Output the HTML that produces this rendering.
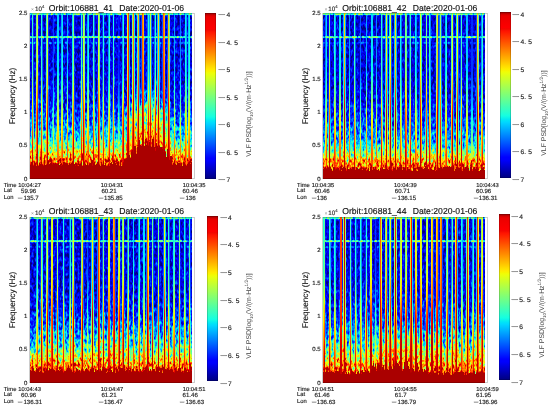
<!DOCTYPE html><html><head><meta charset="utf-8"><style>
html,body{margin:0;padding:0;background:#fff;}
body{width:550px;height:406px;position:relative;overflow:hidden;font-family:"Liberation Sans",Arial,sans-serif;text-rendering:geometricPrecision;}
.sp{position:absolute;display:block;overflow:hidden;}
.t{position:absolute;white-space:nowrap;color:#1c1c1c;line-height:1;-webkit-text-stroke:0.15px #1c1c1c;}
.ti{font-size:8.65px;color:#111;}
.ex{font-size:6.3px;color:#333;}
.tm{font-size:5px;color:#888;margin-right:0.9px;-webkit-text-stroke:0}
.ex sup{font-size:4.2px;vertical-align:0;position:relative;top:-3.1px;margin-left:0;-webkit-text-stroke:0.1px #333}
.yt{font-size:6px;text-align:right;}
.yl{font-size:8.2px;transform:translate(-50%,-50%) rotate(-90deg);transform-origin:50% 50%;}
.xr{font-size:5.8px;}
.xc{font-size:5.8px;}
.xv{font-size:6.1px;margin-top:-0.25px}
.cb{position:absolute;width:10.8px;background:linear-gradient(to bottom,rgb(153,0,0) 0.00%,rgb(184,0,0) 0.78%,rgb(216,0,0) 1.56%,rgb(235,0,0) 2.34%,rgb(237,0,0) 3.12%,rgb(239,0,0) 3.91%,rgb(241,0,0) 4.69%,rgb(243,0,0) 5.47%,rgb(245,0,0) 6.25%,rgb(247,0,0) 7.03%,rgb(249,0,0) 7.81%,rgb(251,0,0) 8.59%,rgb(253,0,0) 9.38%,rgb(241,7,0) 10.16%,rgb(250,15,0) 10.94%,rgb(255,22,0) 11.72%,rgb(255,29,0) 12.50%,rgb(255,37,0) 13.28%,rgb(255,44,0) 14.06%,rgb(255,52,0) 14.84%,rgb(255,59,0) 15.62%,rgb(255,66,0) 16.41%,rgb(255,74,0) 17.19%,rgb(255,81,0) 17.97%,rgb(255,89,0) 18.75%,rgb(255,96,0) 19.53%,rgb(255,103,0) 20.31%,rgb(255,111,0) 21.09%,rgb(255,118,0) 21.88%,rgb(255,126,0) 22.66%,rgb(255,133,0) 23.44%,rgb(255,140,0) 24.22%,rgb(255,148,0) 25.00%,rgb(255,155,0) 25.78%,rgb(255,163,0) 26.56%,rgb(255,170,0) 27.34%,rgb(255,177,0) 28.12%,rgb(255,185,0) 28.91%,rgb(255,192,0) 29.69%,rgb(255,200,0) 30.47%,rgb(255,207,0) 31.25%,rgb(255,215,0) 32.03%,rgb(255,222,0) 32.81%,rgb(255,229,0) 33.59%,rgb(254,237,0) 34.38%,rgb(247,244,0) 35.16%,rgb(241,252,5) 35.94%,rgb(234,255,12) 36.72%,rgb(228,255,18) 37.50%,rgb(221,255,24) 38.28%,rgb(215,255,31) 39.06%,rgb(208,255,37) 39.84%,rgb(202,255,44) 40.62%,rgb(195,255,50) 41.41%,rgb(189,255,57) 42.19%,rgb(183,255,63) 42.97%,rgb(176,255,70) 43.75%,rgb(170,255,76) 44.53%,rgb(163,255,83) 45.31%,rgb(157,255,89) 46.09%,rgb(150,255,95) 46.88%,rgb(144,255,102) 47.66%,rgb(137,255,108) 48.44%,rgb(131,255,115) 49.22%,rgb(124,255,121) 50.00%,rgb(118,255,128) 50.78%,rgb(112,255,134) 51.56%,rgb(105,255,141) 52.34%,rgb(99,255,147) 53.12%,rgb(92,255,154) 53.91%,rgb(86,255,160) 54.69%,rgb(79,255,166) 55.47%,rgb(73,255,173) 56.25%,rgb(66,255,179) 57.03%,rgb(60,255,186) 57.81%,rgb(54,255,192) 58.59%,rgb(47,255,199) 59.38%,rgb(41,255,205) 60.16%,rgb(34,255,212) 60.94%,rgb(28,255,218) 61.72%,rgb(21,255,225) 62.50%,rgb(15,248,231) 63.28%,rgb(8,240,237) 64.06%,rgb(2,232,244) 64.84%,rgb(0,224,250) 65.62%,rgb(0,216,255) 66.41%,rgb(0,208,255) 67.19%,rgb(0,200,255) 67.97%,rgb(0,192,255) 68.75%,rgb(0,184,255) 69.53%,rgb(0,176,255) 70.31%,rgb(0,168,255) 71.09%,rgb(0,160,255) 71.88%,rgb(0,152,255) 72.66%,rgb(0,144,255) 73.44%,rgb(0,136,255) 74.22%,rgb(0,128,255) 75.00%,rgb(0,120,255) 75.78%,rgb(0,112,255) 76.56%,rgb(0,104,255) 77.34%,rgb(0,96,255) 78.12%,rgb(0,88,255) 78.91%,rgb(0,80,255) 79.69%,rgb(0,72,255) 80.47%,rgb(0,64,255) 81.25%,rgb(0,56,255) 82.03%,rgb(0,48,255) 82.81%,rgb(0,40,255) 83.59%,rgb(0,32,255) 84.38%,rgb(0,24,255) 85.16%,rgb(0,16,255) 85.94%,rgb(0,8,255) 86.72%,rgb(0,0,255) 87.50%,rgb(0,0,255) 88.28%,rgb(0,0,254) 89.06%,rgb(0,0,245) 89.84%,rgb(0,0,236) 90.62%,rgb(0,0,227) 91.41%,rgb(0,0,218) 92.19%,rgb(0,0,209) 92.97%,rgb(0,0,200) 93.75%,rgb(0,0,191) 94.53%,rgb(0,0,182) 95.31%,rgb(0,0,172) 96.09%,rgb(0,0,163) 96.88%,rgb(0,0,154) 97.66%,rgb(0,0,145) 98.44%,rgb(0,0,136) 99.22%,rgb(0,0,127) 100.00%);box-shadow:inset 0 0 0 0.5px rgba(0,0,0,0.35);}
.cl{font-size:6.6px;word-spacing:0.4px;color:#1a1a1a}
.mn{display:inline-block;transform:scaleX(1.95);transform-origin:0 50%;margin-right:4.3px;color:#777;}
.mn2{position:absolute;right:100%;margin-right:0.6px;display:inline-block;transform:scaleX(1.45);transform-origin:100% 50%;color:#666;}
.cbl{-webkit-text-stroke:0;color:#444;font-size:6.9px;transform:translate(-50%,-50%) rotate(-90deg);}
.cbl sub{font-size:4.4px;vertical-align:-1.6px;}
.cbl sup{font-size:4.8px;vertical-align:3.2px;}
.ax{position:absolute;box-sizing:border-box;border:0.9px solid rgba(0,0,0,0.2);}
</style></head><body>
<svg class="sp" style="left:29.50px;top:13.00px" width="162.2" height="165.5" viewBox="0 0 162.2 165.5">
<defs><linearGradient id="bg0" gradientUnits="userSpaceOnUse" x1="0" y1="0" x2="0" y2="165.5"><stop offset="0.0000" stop-color="#6b0000"/><stop offset="0.0110" stop-color="#6b0000"/><stop offset="0.0160" stop-color="#130000"/><stop offset="0.4500" stop-color="#160000"/><stop offset="0.6000" stop-color="#240000"/><stop offset="0.6700" stop-color="#380000"/><stop offset="0.7500" stop-color="#4a0000"/><stop offset="0.7860" stop-color="#630000"/><stop offset="0.8220" stop-color="#8a0000"/><stop offset="0.8520" stop-color="#a60000"/><stop offset="0.8760" stop-color="#bf0000"/><stop offset="0.9070" stop-color="#d40000"/><stop offset="1.0000" stop-color="#e00000"/></linearGradient><filter id="f0" filterUnits="userSpaceOnUse" x="-4" y="-4" width="170.2" height="173.5" color-interpolation-filters="sRGB">
<feColorMatrix in="SourceGraphic" type="matrix" values="1 0 0 0 0 1 0 0 0 0 1 0 0 0 0 0 0 0 0 1" result="bg"/>
<feColorMatrix in="SourceGraphic" type="matrix" values="0 1 0 0 0 0 1 0 0 0 0 1 0 0 0 0 0 0 0 1" result="st"/>

<feTurbulence type="fractalNoise" baseFrequency="0.5 0.22" numOctaves="2" seed="3" result="t"/>
<feColorMatrix in="t" type="matrix" values="1 0 0 0 0 1 0 0 0 0 1 0 0 0 0 0 0 0 0 1" result="n"/>
<feComposite in="bg" in2="n" operator="arithmetic" k1="0.9" k2="0.55" k3="0.42" k4="-0.21" result="bgn"/>
<feBlend in="bgn" in2="st" mode="lighten" result="v"/>
<feComponentTransfer in="v"><feFuncR type="table" tableValues="0.000 0.000 0.000 0.000 0.000 0.000 0.000 0.000 0.000 0.000 0.000 0.000 0.000 0.000 0.000 0.000 0.000 0.000 0.000 0.000 0.000 0.000 0.000 0.035 0.085 0.136 0.187 0.237 0.288 0.338 0.389 0.440 0.490 0.541 0.591 0.642 0.693 0.743 0.794 0.844 0.895 0.946 0.996 1.000 1.000 1.000 1.000 1.000 1.000 1.000 1.000 1.000 1.000 1.000 1.000 1.000 1.000 0.959 0.917 0.876 0.835 0.794 0.752 0.711 0.670"/><feFuncG type="table" tableValues="0.000 0.000 0.000 0.000 0.000 0.000 0.000 0.000 0.002 0.065 0.127 0.190 0.253 0.316 0.378 0.441 0.504 0.567 0.629 0.692 0.755 0.818 0.880 0.943 1.000 1.000 1.000 1.000 1.000 1.000 1.000 1.000 1.000 1.000 1.000 1.000 1.000 1.000 1.000 1.000 1.000 0.988 0.930 0.872 0.814 0.756 0.698 0.640 0.582 0.524 0.466 0.407 0.349 0.291 0.233 0.175 0.117 0.059 0.001 0.000 0.000 0.000 0.000 0.000 0.000"/><feFuncB type="table" tableValues="0.500 0.571 0.643 0.714 0.785 0.857 0.928 0.999 1.000 1.000 1.000 1.000 1.000 1.000 1.000 1.000 1.000 1.000 1.000 1.000 1.000 1.000 0.984 0.933 0.882 0.832 0.781 0.731 0.680 0.629 0.579 0.528 0.478 0.427 0.376 0.326 0.275 0.225 0.174 0.123 0.073 0.022 0.000 0.000 0.000 0.000 0.000 0.000 0.000 0.000 0.000 0.000 0.000 0.000 0.000 0.000 0.000 0.000 0.000 0.000 0.000 0.000 0.000 0.000 0.000"/><feFuncA type="linear" slope="0" intercept="1"/></feComponentTransfer>
</filter><linearGradient id="bp0_0_0" gradientUnits="userSpaceOnUse" x1="0" y1="82.8" x2="0" y2="145.7"><stop offset="0" stop-color="#000"/><stop offset="0.5" stop-color="#570000"/><stop offset="1" stop-color="#7a0000"/></linearGradient><linearGradient id="bp0_0_1" gradientUnits="userSpaceOnUse" x1="0" y1="78.3" x2="0" y2="142.1"><stop offset="0" stop-color="#000"/><stop offset="0.5" stop-color="#630000"/><stop offset="1" stop-color="#930000"/></linearGradient><linearGradient id="bp0_0_2" gradientUnits="userSpaceOnUse" x1="0" y1="75.5" x2="0" y2="139.8"><stop offset="0" stop-color="#000"/><stop offset="0.5" stop-color="#6b0000"/><stop offset="1" stop-color="#a30000"/></linearGradient><linearGradient id="bp0_0_3" gradientUnits="userSpaceOnUse" x1="0" y1="73.4" x2="0" y2="138.1"><stop offset="0" stop-color="#000"/><stop offset="0.5" stop-color="#710000"/><stop offset="1" stop-color="#ae0000"/></linearGradient><linearGradient id="bp0_0_4" gradientUnits="userSpaceOnUse" x1="0" y1="71.7" x2="0" y2="136.8"><stop offset="0" stop-color="#000"/><stop offset="0.5" stop-color="#750000"/><stop offset="1" stop-color="#b80000"/></linearGradient><linearGradient id="bp0_0_5" gradientUnits="userSpaceOnUse" x1="0" y1="70.3" x2="0" y2="135.7"><stop offset="0" stop-color="#000"/><stop offset="0.5" stop-color="#790000"/><stop offset="1" stop-color="#c00000"/></linearGradient><linearGradient id="bp0_0_6" gradientUnits="userSpaceOnUse" x1="0" y1="69.1" x2="0" y2="134.8"><stop offset="0" stop-color="#000"/><stop offset="0.5" stop-color="#7c0000"/><stop offset="1" stop-color="#c60000"/></linearGradient><linearGradient id="bp0_0_7" gradientUnits="userSpaceOnUse" x1="0" y1="68.2" x2="0" y2="134.0"><stop offset="0" stop-color="#000"/><stop offset="0.5" stop-color="#7f0000"/><stop offset="1" stop-color="#cb0000"/></linearGradient><linearGradient id="bp0_0_8" gradientUnits="userSpaceOnUse" x1="0" y1="67.5" x2="0" y2="133.4"><stop offset="0" stop-color="#000"/><stop offset="0.5" stop-color="#810000"/><stop offset="1" stop-color="#cf0000"/></linearGradient><linearGradient id="bp0_0_9" gradientUnits="userSpaceOnUse" x1="0" y1="66.9" x2="0" y2="133.0"><stop offset="0" stop-color="#000"/><stop offset="0.5" stop-color="#830000"/><stop offset="1" stop-color="#d20000"/></linearGradient><linearGradient id="bp0_0_10" gradientUnits="userSpaceOnUse" x1="0" y1="66.5" x2="0" y2="132.7"><stop offset="0" stop-color="#000"/><stop offset="0.5" stop-color="#840000"/><stop offset="1" stop-color="#d40000"/></linearGradient><linearGradient id="bp0_0_11" gradientUnits="userSpaceOnUse" x1="0" y1="66.3" x2="0" y2="132.5"><stop offset="0" stop-color="#000"/><stop offset="0.5" stop-color="#840000"/><stop offset="1" stop-color="#d60000"/></linearGradient><linearGradient id="bp0_0_12" gradientUnits="userSpaceOnUse" x1="0" y1="66.2" x2="0" y2="132.4"><stop offset="0" stop-color="#000"/><stop offset="0.5" stop-color="#850000"/><stop offset="1" stop-color="#d60000"/></linearGradient><linearGradient id="bp0_0_13" gradientUnits="userSpaceOnUse" x1="0" y1="66.3" x2="0" y2="132.5"><stop offset="0" stop-color="#000"/><stop offset="0.5" stop-color="#840000"/><stop offset="1" stop-color="#d60000"/></linearGradient><linearGradient id="bp0_0_14" gradientUnits="userSpaceOnUse" x1="0" y1="66.5" x2="0" y2="132.7"><stop offset="0" stop-color="#000"/><stop offset="0.5" stop-color="#840000"/><stop offset="1" stop-color="#d40000"/></linearGradient><linearGradient id="bp0_0_15" gradientUnits="userSpaceOnUse" x1="0" y1="66.9" x2="0" y2="133.0"><stop offset="0" stop-color="#000"/><stop offset="0.5" stop-color="#830000"/><stop offset="1" stop-color="#d20000"/></linearGradient><linearGradient id="bp0_0_16" gradientUnits="userSpaceOnUse" x1="0" y1="67.5" x2="0" y2="133.4"><stop offset="0" stop-color="#000"/><stop offset="0.5" stop-color="#810000"/><stop offset="1" stop-color="#cf0000"/></linearGradient><linearGradient id="bp0_0_17" gradientUnits="userSpaceOnUse" x1="0" y1="68.2" x2="0" y2="134.0"><stop offset="0" stop-color="#000"/><stop offset="0.5" stop-color="#7f0000"/><stop offset="1" stop-color="#cb0000"/></linearGradient><linearGradient id="bp0_0_18" gradientUnits="userSpaceOnUse" x1="0" y1="69.1" x2="0" y2="134.8"><stop offset="0" stop-color="#000"/><stop offset="0.5" stop-color="#7c0000"/><stop offset="1" stop-color="#c60000"/></linearGradient><linearGradient id="bp0_0_19" gradientUnits="userSpaceOnUse" x1="0" y1="70.3" x2="0" y2="135.7"><stop offset="0" stop-color="#000"/><stop offset="0.5" stop-color="#790000"/><stop offset="1" stop-color="#c00000"/></linearGradient><linearGradient id="bp0_0_20" gradientUnits="userSpaceOnUse" x1="0" y1="71.7" x2="0" y2="136.8"><stop offset="0" stop-color="#000"/><stop offset="0.5" stop-color="#750000"/><stop offset="1" stop-color="#b80000"/></linearGradient><linearGradient id="bp0_0_21" gradientUnits="userSpaceOnUse" x1="0" y1="73.4" x2="0" y2="138.1"><stop offset="0" stop-color="#000"/><stop offset="0.5" stop-color="#710000"/><stop offset="1" stop-color="#ae0000"/></linearGradient><linearGradient id="bp0_0_22" gradientUnits="userSpaceOnUse" x1="0" y1="75.5" x2="0" y2="139.8"><stop offset="0" stop-color="#000"/><stop offset="0.5" stop-color="#6b0000"/><stop offset="1" stop-color="#a30000"/></linearGradient><linearGradient id="bp0_0_23" gradientUnits="userSpaceOnUse" x1="0" y1="78.3" x2="0" y2="142.1"><stop offset="0" stop-color="#000"/><stop offset="0.5" stop-color="#630000"/><stop offset="1" stop-color="#930000"/></linearGradient><linearGradient id="bp0_0_24" gradientUnits="userSpaceOnUse" x1="0" y1="82.8" x2="0" y2="145.7"><stop offset="0" stop-color="#000"/><stop offset="0.5" stop-color="#570000"/><stop offset="1" stop-color="#7a0000"/></linearGradient><linearGradient id="hl0_42" gradientUnits="userSpaceOnUse" x1="0" y1="49.6" x2="0" y2="165.5"><stop offset="0" stop-color="#000"/><stop offset="0.45" stop-color="#4c0000"/><stop offset="0.85" stop-color="#960000"/><stop offset="1" stop-color="#960000"/></linearGradient><linearGradient id="hl0_65" gradientUnits="userSpaceOnUse" x1="0" y1="49.6" x2="0" y2="165.5"><stop offset="0" stop-color="#000"/><stop offset="0.45" stop-color="#4c0000"/><stop offset="0.85" stop-color="#b10000"/><stop offset="1" stop-color="#b10000"/></linearGradient><linearGradient id="hl0_60" gradientUnits="userSpaceOnUse" x1="0" y1="49.6" x2="0" y2="165.5"><stop offset="0" stop-color="#000"/><stop offset="0.45" stop-color="#4c0000"/><stop offset="0.85" stop-color="#ab0000"/><stop offset="1" stop-color="#ab0000"/></linearGradient><linearGradient id="hl0_40" gradientUnits="userSpaceOnUse" x1="0" y1="49.6" x2="0" y2="165.5"><stop offset="0" stop-color="#000"/><stop offset="0.45" stop-color="#4c0000"/><stop offset="0.85" stop-color="#940000"/><stop offset="1" stop-color="#940000"/></linearGradient><linearGradient id="hl0_50" gradientUnits="userSpaceOnUse" x1="0" y1="49.6" x2="0" y2="165.5"><stop offset="0" stop-color="#000"/><stop offset="0.45" stop-color="#4c0000"/><stop offset="0.85" stop-color="#9f0000"/><stop offset="1" stop-color="#9f0000"/></linearGradient><linearGradient id="hl0_62" gradientUnits="userSpaceOnUse" x1="0" y1="49.6" x2="0" y2="165.5"><stop offset="0" stop-color="#000"/><stop offset="0.45" stop-color="#4c0000"/><stop offset="0.85" stop-color="#ad0000"/><stop offset="1" stop-color="#ad0000"/></linearGradient><linearGradient id="hl0_38" gradientUnits="userSpaceOnUse" x1="0" y1="49.6" x2="0" y2="165.5"><stop offset="0" stop-color="#000"/><stop offset="0.45" stop-color="#4c0000"/><stop offset="0.85" stop-color="#920000"/><stop offset="1" stop-color="#920000"/></linearGradient><linearGradient id="hl0_82" gradientUnits="userSpaceOnUse" x1="0" y1="49.6" x2="0" y2="165.5"><stop offset="0" stop-color="#000"/><stop offset="0.45" stop-color="#4c0000"/><stop offset="0.85" stop-color="#bf0000"/><stop offset="1" stop-color="#bf0000"/></linearGradient><linearGradient id="hl0_75" gradientUnits="userSpaceOnUse" x1="0" y1="49.6" x2="0" y2="165.5"><stop offset="0" stop-color="#000"/><stop offset="0.45" stop-color="#4c0000"/><stop offset="0.85" stop-color="#bc0000"/><stop offset="1" stop-color="#bc0000"/></linearGradient><linearGradient id="hl0_72" gradientUnits="userSpaceOnUse" x1="0" y1="49.6" x2="0" y2="165.5"><stop offset="0" stop-color="#000"/><stop offset="0.45" stop-color="#4c0000"/><stop offset="0.85" stop-color="#b90000"/><stop offset="1" stop-color="#b90000"/></linearGradient><linearGradient id="hl0_84" gradientUnits="userSpaceOnUse" x1="0" y1="49.6" x2="0" y2="165.5"><stop offset="0" stop-color="#000"/><stop offset="0.45" stop-color="#4c0000"/><stop offset="0.85" stop-color="#bf0000"/><stop offset="1" stop-color="#bf0000"/></linearGradient><linearGradient id="hl0_55" gradientUnits="userSpaceOnUse" x1="0" y1="49.6" x2="0" y2="165.5"><stop offset="0" stop-color="#000"/><stop offset="0.45" stop-color="#4c0000"/><stop offset="0.85" stop-color="#a50000"/><stop offset="1" stop-color="#a50000"/></linearGradient><linearGradient id="hl0_68" gradientUnits="userSpaceOnUse" x1="0" y1="49.6" x2="0" y2="165.5"><stop offset="0" stop-color="#000"/><stop offset="0.45" stop-color="#4c0000"/><stop offset="0.85" stop-color="#b40000"/><stop offset="1" stop-color="#b40000"/></linearGradient><linearGradient id="hl0_85" gradientUnits="userSpaceOnUse" x1="0" y1="49.6" x2="0" y2="165.5"><stop offset="0" stop-color="#000"/><stop offset="0.45" stop-color="#4c0000"/><stop offset="0.85" stop-color="#bf0000"/><stop offset="1" stop-color="#bf0000"/></linearGradient><linearGradient id="hl0_26" gradientUnits="userSpaceOnUse" x1="0" y1="49.6" x2="0" y2="165.5"><stop offset="0" stop-color="#000"/><stop offset="0.45" stop-color="#4c0000"/><stop offset="0.85" stop-color="#840000"/><stop offset="1" stop-color="#840000"/></linearGradient><linearGradient id="hl0_32" gradientUnits="userSpaceOnUse" x1="0" y1="49.6" x2="0" y2="165.5"><stop offset="0" stop-color="#000"/><stop offset="0.45" stop-color="#4c0000"/><stop offset="0.85" stop-color="#8b0000"/><stop offset="1" stop-color="#8b0000"/></linearGradient><linearGradient id="hl0_28" gradientUnits="userSpaceOnUse" x1="0" y1="49.6" x2="0" y2="165.5"><stop offset="0" stop-color="#000"/><stop offset="0.45" stop-color="#4c0000"/><stop offset="0.85" stop-color="#870000"/><stop offset="1" stop-color="#870000"/></linearGradient><linearGradient id="sg0_42_0_10" gradientUnits="userSpaceOnUse" x1="0" y1="0" x2="0" y2="165.5"><stop offset="0" stop-color="#006b00"/><stop offset="0.35" stop-color="#007500"/><stop offset="0.6" stop-color="#00b800"/><stop offset="0.85" stop-color="#00eb00"/><stop offset="1" stop-color="#00eb00"/></linearGradient><linearGradient id="hsg0_42_0_10" gradientUnits="userSpaceOnUse" x1="0" y1="0" x2="0" y2="165.5"><stop offset="0" stop-color="#004700"/><stop offset="0.35" stop-color="#004c00"/><stop offset="0.6" stop-color="#006f00"/><stop offset="0.85" stop-color="#008900"/><stop offset="1" stop-color="#008900"/></linearGradient><linearGradient id="gl0_42" gradientUnits="userSpaceOnUse" x1="0" y1="0" x2="0" y2="165.5"><stop offset="0" stop-color="#170000"/><stop offset="0.4" stop-color="#1e0000"/><stop offset="0.62" stop-color="#330000"/><stop offset="0.82" stop-color="#540000"/><stop offset="1" stop-color="#750000"/></linearGradient><linearGradient id="sg0_65_0_12" gradientUnits="userSpaceOnUse" x1="0" y1="0" x2="0" y2="165.5"><stop offset="0" stop-color="#00a600"/><stop offset="0.35" stop-color="#00b000"/><stop offset="0.6" stop-color="#00f200"/><stop offset="0.85" stop-color="#00f700"/><stop offset="1" stop-color="#00f700"/></linearGradient><linearGradient id="hsg0_65_0_12" gradientUnits="userSpaceOnUse" x1="0" y1="0" x2="0" y2="165.5"><stop offset="0" stop-color="#006500"/><stop offset="0.35" stop-color="#006b00"/><stop offset="0.6" stop-color="#008d00"/><stop offset="0.85" stop-color="#009000"/><stop offset="1" stop-color="#009000"/></linearGradient><linearGradient id="gl0_65" gradientUnits="userSpaceOnUse" x1="0" y1="0" x2="0" y2="165.5"><stop offset="0" stop-color="#1a0000"/><stop offset="0.4" stop-color="#210000"/><stop offset="0.62" stop-color="#390000"/><stop offset="0.82" stop-color="#5d0000"/><stop offset="1" stop-color="#810000"/></linearGradient><linearGradient id="sg0_60_0_12" gradientUnits="userSpaceOnUse" x1="0" y1="0" x2="0" y2="165.5"><stop offset="0" stop-color="#009900"/><stop offset="0.35" stop-color="#00a300"/><stop offset="0.6" stop-color="#00e500"/><stop offset="0.85" stop-color="#00f700"/><stop offset="1" stop-color="#00f700"/></linearGradient><linearGradient id="hsg0_60_0_12" gradientUnits="userSpaceOnUse" x1="0" y1="0" x2="0" y2="165.5"><stop offset="0" stop-color="#005f00"/><stop offset="0.35" stop-color="#006400"/><stop offset="0.6" stop-color="#008700"/><stop offset="0.85" stop-color="#009000"/><stop offset="1" stop-color="#009000"/></linearGradient><linearGradient id="gl0_60" gradientUnits="userSpaceOnUse" x1="0" y1="0" x2="0" y2="165.5"><stop offset="0" stop-color="#190000"/><stop offset="0.4" stop-color="#210000"/><stop offset="0.62" stop-color="#380000"/><stop offset="0.82" stop-color="#5b0000"/><stop offset="1" stop-color="#7e0000"/></linearGradient><linearGradient id="sg0_40_0_10" gradientUnits="userSpaceOnUse" x1="0" y1="0" x2="0" y2="165.5"><stop offset="0" stop-color="#006600"/><stop offset="0.35" stop-color="#007000"/><stop offset="0.6" stop-color="#00b200"/><stop offset="0.85" stop-color="#00e600"/><stop offset="1" stop-color="#00e600"/></linearGradient><linearGradient id="hsg0_40_0_10" gradientUnits="userSpaceOnUse" x1="0" y1="0" x2="0" y2="165.5"><stop offset="0" stop-color="#004400"/><stop offset="0.35" stop-color="#004a00"/><stop offset="0.6" stop-color="#006c00"/><stop offset="0.85" stop-color="#008700"/><stop offset="1" stop-color="#008700"/></linearGradient><linearGradient id="gl0_40" gradientUnits="userSpaceOnUse" x1="0" y1="0" x2="0" y2="165.5"><stop offset="0" stop-color="#170000"/><stop offset="0.4" stop-color="#1e0000"/><stop offset="0.62" stop-color="#330000"/><stop offset="0.82" stop-color="#540000"/><stop offset="1" stop-color="#740000"/></linearGradient><linearGradient id="sg0_50_0_12" gradientUnits="userSpaceOnUse" x1="0" y1="0" x2="0" y2="165.5"><stop offset="0" stop-color="#008000"/><stop offset="0.35" stop-color="#008a00"/><stop offset="0.6" stop-color="#00cc00"/><stop offset="0.85" stop-color="#00f700"/><stop offset="1" stop-color="#00f700"/></linearGradient><linearGradient id="hsg0_50_0_12" gradientUnits="userSpaceOnUse" x1="0" y1="0" x2="0" y2="165.5"><stop offset="0" stop-color="#005200"/><stop offset="0.35" stop-color="#005700"/><stop offset="0.6" stop-color="#007900"/><stop offset="0.85" stop-color="#009000"/><stop offset="1" stop-color="#009000"/></linearGradient><linearGradient id="gl0_50" gradientUnits="userSpaceOnUse" x1="0" y1="0" x2="0" y2="165.5"><stop offset="0" stop-color="#180000"/><stop offset="0.4" stop-color="#1f0000"/><stop offset="0.62" stop-color="#350000"/><stop offset="0.82" stop-color="#570000"/><stop offset="1" stop-color="#790000"/></linearGradient><linearGradient id="sg0_62_0_12" gradientUnits="userSpaceOnUse" x1="0" y1="0" x2="0" y2="165.5"><stop offset="0" stop-color="#009e00"/><stop offset="0.35" stop-color="#00a800"/><stop offset="0.6" stop-color="#00eb00"/><stop offset="0.85" stop-color="#00f700"/><stop offset="1" stop-color="#00f700"/></linearGradient><linearGradient id="hsg0_62_0_12" gradientUnits="userSpaceOnUse" x1="0" y1="0" x2="0" y2="165.5"><stop offset="0" stop-color="#006200"/><stop offset="0.35" stop-color="#006700"/><stop offset="0.6" stop-color="#008900"/><stop offset="0.85" stop-color="#009000"/><stop offset="1" stop-color="#009000"/></linearGradient><linearGradient id="gl0_62" gradientUnits="userSpaceOnUse" x1="0" y1="0" x2="0" y2="165.5"><stop offset="0" stop-color="#190000"/><stop offset="0.4" stop-color="#210000"/><stop offset="0.62" stop-color="#380000"/><stop offset="0.82" stop-color="#5c0000"/><stop offset="1" stop-color="#7f0000"/></linearGradient><linearGradient id="sg0_38_0_10" gradientUnits="userSpaceOnUse" x1="0" y1="0" x2="0" y2="165.5"><stop offset="0" stop-color="#006100"/><stop offset="0.35" stop-color="#006b00"/><stop offset="0.6" stop-color="#00ad00"/><stop offset="0.85" stop-color="#00e000"/><stop offset="1" stop-color="#00e000"/></linearGradient><linearGradient id="hsg0_38_0_10" gradientUnits="userSpaceOnUse" x1="0" y1="0" x2="0" y2="165.5"><stop offset="0" stop-color="#004200"/><stop offset="0.35" stop-color="#004700"/><stop offset="0.6" stop-color="#006900"/><stop offset="0.85" stop-color="#008400"/><stop offset="1" stop-color="#008400"/></linearGradient><linearGradient id="gl0_38" gradientUnits="userSpaceOnUse" x1="0" y1="0" x2="0" y2="165.5"><stop offset="0" stop-color="#170000"/><stop offset="0.4" stop-color="#1e0000"/><stop offset="0.62" stop-color="#330000"/><stop offset="0.82" stop-color="#530000"/><stop offset="1" stop-color="#730000"/></linearGradient><linearGradient id="sg0_42_1_10" gradientUnits="userSpaceOnUse" x1="0" y1="0" x2="0" y2="165.5"><stop offset="0" stop-color="#006b00"/><stop offset="0.35" stop-color="#007500"/><stop offset="0.6" stop-color="#00e000"/><stop offset="0.85" stop-color="#00eb00"/><stop offset="1" stop-color="#00eb00"/></linearGradient><linearGradient id="hsg0_42_1_10" gradientUnits="userSpaceOnUse" x1="0" y1="0" x2="0" y2="165.5"><stop offset="0" stop-color="#004700"/><stop offset="0.35" stop-color="#004c00"/><stop offset="0.6" stop-color="#008400"/><stop offset="0.85" stop-color="#008900"/><stop offset="1" stop-color="#008900"/></linearGradient><linearGradient id="sg0_82_1_14" gradientUnits="userSpaceOnUse" x1="0" y1="0" x2="0" y2="165.5"><stop offset="0" stop-color="#00d100"/><stop offset="0.35" stop-color="#00db00"/><stop offset="0.6" stop-color="#00f200"/><stop offset="0.85" stop-color="#00f700"/><stop offset="1" stop-color="#00f700"/></linearGradient><linearGradient id="hsg0_82_1_14" gradientUnits="userSpaceOnUse" x1="0" y1="0" x2="0" y2="165.5"><stop offset="0" stop-color="#007c00"/><stop offset="0.35" stop-color="#008100"/><stop offset="0.6" stop-color="#008d00"/><stop offset="0.85" stop-color="#009000"/><stop offset="1" stop-color="#009000"/></linearGradient><linearGradient id="gl0_82" gradientUnits="userSpaceOnUse" x1="0" y1="0" x2="0" y2="165.5"><stop offset="0" stop-color="#1b0000"/><stop offset="0.4" stop-color="#240000"/><stop offset="0.62" stop-color="#3c0000"/><stop offset="0.82" stop-color="#630000"/><stop offset="1" stop-color="#890000"/></linearGradient><linearGradient id="sg0_75_1_14" gradientUnits="userSpaceOnUse" x1="0" y1="0" x2="0" y2="165.5"><stop offset="0" stop-color="#00bf00"/><stop offset="0.35" stop-color="#00c900"/><stop offset="0.6" stop-color="#00f200"/><stop offset="0.85" stop-color="#00f700"/><stop offset="1" stop-color="#00f700"/></linearGradient><linearGradient id="hsg0_75_1_14" gradientUnits="userSpaceOnUse" x1="0" y1="0" x2="0" y2="165.5"><stop offset="0" stop-color="#007300"/><stop offset="0.35" stop-color="#007800"/><stop offset="0.6" stop-color="#008d00"/><stop offset="0.85" stop-color="#009000"/><stop offset="1" stop-color="#009000"/></linearGradient><linearGradient id="gl0_75" gradientUnits="userSpaceOnUse" x1="0" y1="0" x2="0" y2="165.5"><stop offset="0" stop-color="#1b0000"/><stop offset="0.4" stop-color="#230000"/><stop offset="0.62" stop-color="#3b0000"/><stop offset="0.82" stop-color="#600000"/><stop offset="1" stop-color="#860000"/></linearGradient><linearGradient id="sg0_72_1_12" gradientUnits="userSpaceOnUse" x1="0" y1="0" x2="0" y2="165.5"><stop offset="0" stop-color="#00b800"/><stop offset="0.35" stop-color="#00c200"/><stop offset="0.6" stop-color="#00f200"/><stop offset="0.85" stop-color="#00f700"/><stop offset="1" stop-color="#00f700"/></linearGradient><linearGradient id="hsg0_72_1_12" gradientUnits="userSpaceOnUse" x1="0" y1="0" x2="0" y2="165.5"><stop offset="0" stop-color="#006f00"/><stop offset="0.35" stop-color="#007400"/><stop offset="0.6" stop-color="#008d00"/><stop offset="0.85" stop-color="#009000"/><stop offset="1" stop-color="#009000"/></linearGradient><linearGradient id="gl0_72" gradientUnits="userSpaceOnUse" x1="0" y1="0" x2="0" y2="165.5"><stop offset="0" stop-color="#1a0000"/><stop offset="0.4" stop-color="#220000"/><stop offset="0.62" stop-color="#3a0000"/><stop offset="0.82" stop-color="#5f0000"/><stop offset="1" stop-color="#840000"/></linearGradient><linearGradient id="sg0_84_1_14" gradientUnits="userSpaceOnUse" x1="0" y1="0" x2="0" y2="165.5"><stop offset="0" stop-color="#00d600"/><stop offset="0.35" stop-color="#00e000"/><stop offset="0.6" stop-color="#00f200"/><stop offset="0.85" stop-color="#00f700"/><stop offset="1" stop-color="#00f700"/></linearGradient><linearGradient id="hsg0_84_1_14" gradientUnits="userSpaceOnUse" x1="0" y1="0" x2="0" y2="165.5"><stop offset="0" stop-color="#007f00"/><stop offset="0.35" stop-color="#008400"/><stop offset="0.6" stop-color="#008d00"/><stop offset="0.85" stop-color="#009000"/><stop offset="1" stop-color="#009000"/></linearGradient><linearGradient id="gl0_84" gradientUnits="userSpaceOnUse" x1="0" y1="0" x2="0" y2="165.5"><stop offset="0" stop-color="#1c0000"/><stop offset="0.4" stop-color="#240000"/><stop offset="0.62" stop-color="#3d0000"/><stop offset="0.82" stop-color="#640000"/><stop offset="1" stop-color="#8a0000"/></linearGradient><linearGradient id="sg0_55_1_12" gradientUnits="userSpaceOnUse" x1="0" y1="0" x2="0" y2="165.5"><stop offset="0" stop-color="#008c00"/><stop offset="0.35" stop-color="#009600"/><stop offset="0.6" stop-color="#00e000"/><stop offset="0.85" stop-color="#00f700"/><stop offset="1" stop-color="#00f700"/></linearGradient><linearGradient id="hsg0_55_1_12" gradientUnits="userSpaceOnUse" x1="0" y1="0" x2="0" y2="165.5"><stop offset="0" stop-color="#005800"/><stop offset="0.35" stop-color="#005e00"/><stop offset="0.6" stop-color="#008400"/><stop offset="0.85" stop-color="#009000"/><stop offset="1" stop-color="#009000"/></linearGradient><linearGradient id="gl0_55" gradientUnits="userSpaceOnUse" x1="0" y1="0" x2="0" y2="165.5"><stop offset="0" stop-color="#190000"/><stop offset="0.4" stop-color="#200000"/><stop offset="0.62" stop-color="#360000"/><stop offset="0.82" stop-color="#590000"/><stop offset="1" stop-color="#7c0000"/></linearGradient><linearGradient id="sg0_68_1_12" gradientUnits="userSpaceOnUse" x1="0" y1="0" x2="0" y2="165.5"><stop offset="0" stop-color="#00ad00"/><stop offset="0.35" stop-color="#00b800"/><stop offset="0.6" stop-color="#00f200"/><stop offset="0.85" stop-color="#00f700"/><stop offset="1" stop-color="#00f700"/></linearGradient><linearGradient id="hsg0_68_1_12" gradientUnits="userSpaceOnUse" x1="0" y1="0" x2="0" y2="165.5"><stop offset="0" stop-color="#006900"/><stop offset="0.35" stop-color="#006f00"/><stop offset="0.6" stop-color="#008d00"/><stop offset="0.85" stop-color="#009000"/><stop offset="1" stop-color="#009000"/></linearGradient><linearGradient id="gl0_68" gradientUnits="userSpaceOnUse" x1="0" y1="0" x2="0" y2="165.5"><stop offset="0" stop-color="#1a0000"/><stop offset="0.4" stop-color="#220000"/><stop offset="0.62" stop-color="#390000"/><stop offset="0.82" stop-color="#5e0000"/><stop offset="1" stop-color="#820000"/></linearGradient><linearGradient id="sg0_85_1_14" gradientUnits="userSpaceOnUse" x1="0" y1="0" x2="0" y2="165.5"><stop offset="0" stop-color="#00d900"/><stop offset="0.35" stop-color="#00e300"/><stop offset="0.6" stop-color="#00f200"/><stop offset="0.85" stop-color="#00f700"/><stop offset="1" stop-color="#00f700"/></linearGradient><linearGradient id="hsg0_85_1_14" gradientUnits="userSpaceOnUse" x1="0" y1="0" x2="0" y2="165.5"><stop offset="0" stop-color="#008000"/><stop offset="0.35" stop-color="#008500"/><stop offset="0.6" stop-color="#008d00"/><stop offset="0.85" stop-color="#009000"/><stop offset="1" stop-color="#009000"/></linearGradient><linearGradient id="gl0_85" gradientUnits="userSpaceOnUse" x1="0" y1="0" x2="0" y2="165.5"><stop offset="0" stop-color="#1c0000"/><stop offset="0.4" stop-color="#240000"/><stop offset="0.62" stop-color="#3d0000"/><stop offset="0.82" stop-color="#640000"/><stop offset="1" stop-color="#8b0000"/></linearGradient><linearGradient id="sg0_26_0_10" gradientUnits="userSpaceOnUse" x1="0" y1="0" x2="0" y2="165.5"><stop offset="0" stop-color="#004200"/><stop offset="0.35" stop-color="#004c00"/><stop offset="0.6" stop-color="#008f00"/><stop offset="0.85" stop-color="#00c200"/><stop offset="1" stop-color="#00c200"/></linearGradient><linearGradient id="hsg0_26_0_10" gradientUnits="userSpaceOnUse" x1="0" y1="0" x2="0" y2="165.5"><stop offset="0" stop-color="#003200"/><stop offset="0.35" stop-color="#003700"/><stop offset="0.6" stop-color="#005a00"/><stop offset="0.85" stop-color="#007400"/><stop offset="1" stop-color="#007400"/></linearGradient><linearGradient id="gl0_26" gradientUnits="userSpaceOnUse" x1="0" y1="0" x2="0" y2="165.5"><stop offset="0" stop-color="#160000"/><stop offset="0.4" stop-color="#1c0000"/><stop offset="0.62" stop-color="#300000"/><stop offset="0.82" stop-color="#4e0000"/><stop offset="1" stop-color="#6d0000"/></linearGradient><linearGradient id="sg0_32_0_10" gradientUnits="userSpaceOnUse" x1="0" y1="0" x2="0" y2="165.5"><stop offset="0" stop-color="#005200"/><stop offset="0.35" stop-color="#005c00"/><stop offset="0.6" stop-color="#009e00"/><stop offset="0.85" stop-color="#00d100"/><stop offset="1" stop-color="#00d100"/></linearGradient><linearGradient id="hsg0_32_0_10" gradientUnits="userSpaceOnUse" x1="0" y1="0" x2="0" y2="165.5"><stop offset="0" stop-color="#003a00"/><stop offset="0.35" stop-color="#003f00"/><stop offset="0.6" stop-color="#006200"/><stop offset="0.85" stop-color="#007c00"/><stop offset="1" stop-color="#007c00"/></linearGradient><linearGradient id="gl0_32" gradientUnits="userSpaceOnUse" x1="0" y1="0" x2="0" y2="165.5"><stop offset="0" stop-color="#160000"/><stop offset="0.4" stop-color="#1d0000"/><stop offset="0.62" stop-color="#310000"/><stop offset="0.82" stop-color="#510000"/><stop offset="1" stop-color="#700000"/></linearGradient><linearGradient id="sg0_28_0_10" gradientUnits="userSpaceOnUse" x1="0" y1="0" x2="0" y2="165.5"><stop offset="0" stop-color="#004a00"/><stop offset="0.35" stop-color="#005400"/><stop offset="0.6" stop-color="#009600"/><stop offset="0.85" stop-color="#00c900"/><stop offset="1" stop-color="#00c900"/></linearGradient><linearGradient id="hsg0_28_0_10" gradientUnits="userSpaceOnUse" x1="0" y1="0" x2="0" y2="165.5"><stop offset="0" stop-color="#003600"/><stop offset="0.35" stop-color="#003b00"/><stop offset="0.6" stop-color="#005e00"/><stop offset="0.85" stop-color="#007800"/><stop offset="1" stop-color="#007800"/></linearGradient><linearGradient id="gl0_28" gradientUnits="userSpaceOnUse" x1="0" y1="0" x2="0" y2="165.5"><stop offset="0" stop-color="#160000"/><stop offset="0.4" stop-color="#1d0000"/><stop offset="0.62" stop-color="#310000"/><stop offset="0.82" stop-color="#4f0000"/><stop offset="1" stop-color="#6e0000"/></linearGradient></defs>
<g filter="url(#f0)"><rect x="-4" y="-4" width="170.2" height="173.5" fill="url(#bg0)"/>
<rect x="-4" y="23.2" width="170.2" height="2" fill="#730000" style="mix-blend-mode:lighten"/>
<rect x="-4" y="29.5" width="170.2" height="1" fill="#420000" style="mix-blend-mode:lighten"/>
<rect x="92.50" y="82.8" width="2.05" height="86.7" fill="url(#bp0_0_0)" style="mix-blend-mode:lighten"/>
<rect x="94.50" y="78.3" width="2.05" height="91.2" fill="url(#bp0_0_1)" style="mix-blend-mode:lighten"/>
<rect x="96.50" y="75.5" width="2.05" height="94.0" fill="url(#bp0_0_2)" style="mix-blend-mode:lighten"/>
<rect x="98.50" y="73.4" width="2.05" height="96.1" fill="url(#bp0_0_3)" style="mix-blend-mode:lighten"/>
<rect x="100.50" y="71.7" width="2.05" height="97.8" fill="url(#bp0_0_4)" style="mix-blend-mode:lighten"/>
<rect x="102.50" y="70.3" width="2.05" height="99.2" fill="url(#bp0_0_5)" style="mix-blend-mode:lighten"/>
<rect x="104.50" y="69.1" width="2.05" height="100.4" fill="url(#bp0_0_6)" style="mix-blend-mode:lighten"/>
<rect x="106.50" y="68.2" width="2.05" height="101.3" fill="url(#bp0_0_7)" style="mix-blend-mode:lighten"/>
<rect x="108.50" y="67.5" width="2.05" height="102.0" fill="url(#bp0_0_8)" style="mix-blend-mode:lighten"/>
<rect x="110.50" y="66.9" width="2.05" height="102.6" fill="url(#bp0_0_9)" style="mix-blend-mode:lighten"/>
<rect x="112.50" y="66.5" width="2.05" height="103.0" fill="url(#bp0_0_10)" style="mix-blend-mode:lighten"/>
<rect x="114.50" y="66.3" width="2.05" height="103.2" fill="url(#bp0_0_11)" style="mix-blend-mode:lighten"/>
<rect x="116.50" y="66.2" width="2.05" height="103.3" fill="url(#bp0_0_12)" style="mix-blend-mode:lighten"/>
<rect x="118.50" y="66.3" width="2.05" height="103.2" fill="url(#bp0_0_13)" style="mix-blend-mode:lighten"/>
<rect x="120.50" y="66.5" width="2.05" height="103.0" fill="url(#bp0_0_14)" style="mix-blend-mode:lighten"/>
<rect x="122.50" y="66.9" width="2.05" height="102.6" fill="url(#bp0_0_15)" style="mix-blend-mode:lighten"/>
<rect x="124.50" y="67.5" width="2.05" height="102.0" fill="url(#bp0_0_16)" style="mix-blend-mode:lighten"/>
<rect x="126.50" y="68.2" width="2.05" height="101.3" fill="url(#bp0_0_17)" style="mix-blend-mode:lighten"/>
<rect x="128.50" y="69.1" width="2.05" height="100.4" fill="url(#bp0_0_18)" style="mix-blend-mode:lighten"/>
<rect x="130.50" y="70.3" width="2.05" height="99.2" fill="url(#bp0_0_19)" style="mix-blend-mode:lighten"/>
<rect x="132.50" y="71.7" width="2.05" height="97.8" fill="url(#bp0_0_20)" style="mix-blend-mode:lighten"/>
<rect x="134.50" y="73.4" width="2.05" height="96.1" fill="url(#bp0_0_21)" style="mix-blend-mode:lighten"/>
<rect x="136.50" y="75.5" width="2.05" height="94.0" fill="url(#bp0_0_22)" style="mix-blend-mode:lighten"/>
<rect x="138.50" y="78.3" width="2.05" height="91.2" fill="url(#bp0_0_23)" style="mix-blend-mode:lighten"/>
<rect x="140.50" y="82.8" width="2.05" height="86.7" fill="url(#bp0_0_24)" style="mix-blend-mode:lighten"/>
<polygon points="2.60,49.6 5.15,165.5 0.05,165.5" fill="url(#hl0_42)" style="mix-blend-mode:lighten"/>
<polygon points="7.20,49.6 10.33,165.5 4.08,165.5" fill="url(#hl0_65)" style="mix-blend-mode:lighten"/>
<polygon points="11.70,49.6 14.25,165.5 9.15,165.5" fill="url(#hl0_42)" style="mix-blend-mode:lighten"/>
<polygon points="17.30,49.6 20.30,165.5 14.30,165.5" fill="url(#hl0_60)" style="mix-blend-mode:lighten"/>
<polygon points="28.00,49.6 30.50,165.5 25.50,165.5" fill="url(#hl0_40)" style="mix-blend-mode:lighten"/>
<polygon points="32.10,49.6 34.60,165.5 29.60,165.5" fill="url(#hl0_40)" style="mix-blend-mode:lighten"/>
<polygon points="43.30,49.6 46.05,165.5 40.55,165.5" fill="url(#hl0_50)" style="mix-blend-mode:lighten"/>
<polygon points="51.50,49.6 54.00,165.5 49.00,165.5" fill="url(#hl0_40)" style="mix-blend-mode:lighten"/>
<polygon points="53.80,49.6 56.85,165.5 50.75,165.5" fill="url(#hl0_62)" style="mix-blend-mode:lighten"/>
<polygon points="58.10,49.6 60.60,165.5 55.60,165.5" fill="url(#hl0_40)" style="mix-blend-mode:lighten"/>
<polygon points="63.70,49.6 66.25,165.5 61.15,165.5" fill="url(#hl0_42)" style="mix-blend-mode:lighten"/>
<polygon points="68.80,49.6 71.85,165.5 65.75,165.5" fill="url(#hl0_62)" style="mix-blend-mode:lighten"/>
<polygon points="73.40,49.6 75.85,165.5 70.95,165.5" fill="url(#hl0_38)" style="mix-blend-mode:lighten"/>
<polygon points="79.20,49.6 81.75,165.5 76.65,165.5" fill="url(#hl0_42)" style="mix-blend-mode:lighten"/>
<polygon points="83.50,49.6 85.95,165.5 81.05,165.5" fill="url(#hl0_38)" style="mix-blend-mode:lighten"/>
<polygon points="93.20,49.6 95.75,165.5 90.65,165.5" fill="url(#hl0_42)" style="mix-blend-mode:lighten"/>
<polygon points="98.30,49.6 101.85,165.5 94.75,165.5" fill="url(#hl0_82)" style="mix-blend-mode:lighten"/>
<polygon points="103.40,49.6 106.78,165.5 100.03,165.5" fill="url(#hl0_75)" style="mix-blend-mode:lighten"/>
<polygon points="108.40,49.6 111.70,165.5 105.10,165.5" fill="url(#hl0_72)" style="mix-blend-mode:lighten"/>
<polygon points="112.90,49.6 116.50,165.5 109.30,165.5" fill="url(#hl0_84)" style="mix-blend-mode:lighten"/>
<polygon points="118.30,49.6 120.85,165.5 115.75,165.5" fill="url(#hl0_42)" style="mix-blend-mode:lighten"/>
<polygon points="120.50,49.6 123.38,165.5 117.62,165.5" fill="url(#hl0_55)" style="mix-blend-mode:lighten"/>
<polygon points="125.30,49.6 127.85,165.5 122.75,165.5" fill="url(#hl0_42)" style="mix-blend-mode:lighten"/>
<polygon points="128.50,49.6 131.70,165.5 125.30,165.5" fill="url(#hl0_68)" style="mix-blend-mode:lighten"/>
<polygon points="133.90,49.6 137.53,165.5 130.28,165.5" fill="url(#hl0_85)" style="mix-blend-mode:lighten"/>
<polygon points="138.70,49.6 142.00,165.5 135.40,165.5" fill="url(#hl0_72)" style="mix-blend-mode:lighten"/>
<polygon points="155.90,49.6 158.40,165.5 153.40,165.5" fill="url(#hl0_40)" style="mix-blend-mode:lighten"/>
<polygon points="159.10,49.6 161.65,165.5 156.55,165.5" fill="url(#hl0_42)" style="mix-blend-mode:lighten"/>
<polygon points="23.20,49.6 25.35,165.5 21.05,165.5" fill="url(#hl0_26)" style="mix-blend-mode:lighten"/>
<polygon points="37.39,49.6 39.69,165.5 35.09,165.5" fill="url(#hl0_32)" style="mix-blend-mode:lighten"/>
<polygon points="88.95,49.6 91.10,165.5 86.80,165.5" fill="url(#hl0_26)" style="mix-blend-mode:lighten"/>
<polygon points="144.68,49.6 146.98,165.5 142.38,165.5" fill="url(#hl0_32)" style="mix-blend-mode:lighten"/>
<polygon points="150.35,49.6 152.57,165.5 148.12,165.5" fill="url(#hl0_28)" style="mix-blend-mode:lighten"/>
<rect x="1.00" y="-4" width="3.20" height="173.5" fill="url(#gl0_42)" style="mix-blend-mode:lighten"/>
<polygon points="1.70,-4 3.50,-4 3.50,82.8 4.05,169.5 1.15,169.5 1.70,82.8" fill="url(#hsg0_42_0_10)" style="mix-blend-mode:lighten"/>
<polygon points="2.10,-4 3.10,-4 3.10,82.8 3.40,169.5 1.80,169.5 2.10,82.8" fill="url(#sg0_42_0_10)" style="mix-blend-mode:lighten"/>
<rect x="5.50" y="-4" width="3.40" height="173.5" fill="url(#gl0_65)" style="mix-blend-mode:lighten"/>
<polygon points="6.05,-4 8.35,-4 8.35,82.8 8.75,169.5 5.65,169.5 6.05,82.8" fill="url(#hsg0_65_0_12)" style="mix-blend-mode:lighten"/>
<polygon points="6.60,-4 7.80,-4 7.80,82.8 8.10,169.5 6.30,169.5 6.60,82.8" fill="url(#sg0_65_0_12)" style="mix-blend-mode:lighten"/>
<rect x="10.10" y="-4" width="3.20" height="173.5" fill="url(#gl0_42)" style="mix-blend-mode:lighten"/>
<polygon points="10.80,-4 12.60,-4 12.60,82.8 13.15,169.5 10.25,169.5 10.80,82.8" fill="url(#hsg0_42_0_10)" style="mix-blend-mode:lighten"/>
<polygon points="11.20,-4 12.20,-4 12.20,82.8 12.50,169.5 10.90,169.5 11.20,82.8" fill="url(#sg0_42_0_10)" style="mix-blend-mode:lighten"/>
<rect x="15.60" y="-4" width="3.40" height="173.5" fill="url(#gl0_60)" style="mix-blend-mode:lighten"/>
<polygon points="16.15,-4 18.45,-4 18.45,82.8 18.85,169.5 15.75,169.5 16.15,82.8" fill="url(#hsg0_60_0_12)" style="mix-blend-mode:lighten"/>
<polygon points="16.70,-4 17.90,-4 17.90,82.8 18.20,169.5 16.40,169.5 16.70,82.8" fill="url(#sg0_60_0_12)" style="mix-blend-mode:lighten"/>
<rect x="26.40" y="-4" width="3.20" height="173.5" fill="url(#gl0_40)" style="mix-blend-mode:lighten"/>
<polygon points="27.10,-4 28.90,-4 28.90,82.8 29.45,169.5 26.55,169.5 27.10,82.8" fill="url(#hsg0_40_0_10)" style="mix-blend-mode:lighten"/>
<polygon points="27.50,-4 28.50,-4 28.50,82.8 28.80,169.5 27.20,169.5 27.50,82.8" fill="url(#sg0_40_0_10)" style="mix-blend-mode:lighten"/>
<rect x="30.50" y="-4" width="3.20" height="173.5" fill="url(#gl0_40)" style="mix-blend-mode:lighten"/>
<polygon points="31.20,-4 33.00,-4 33.00,82.8 33.55,169.5 30.65,169.5 31.20,82.8" fill="url(#hsg0_40_0_10)" style="mix-blend-mode:lighten"/>
<polygon points="31.60,-4 32.60,-4 32.60,82.8 32.90,169.5 31.30,169.5 31.60,82.8" fill="url(#sg0_40_0_10)" style="mix-blend-mode:lighten"/>
<rect x="41.60" y="-4" width="3.40" height="173.5" fill="url(#gl0_50)" style="mix-blend-mode:lighten"/>
<polygon points="42.15,-4 44.45,-4 44.45,82.8 44.85,169.5 41.75,169.5 42.15,82.8" fill="url(#hsg0_50_0_12)" style="mix-blend-mode:lighten"/>
<polygon points="42.70,-4 43.90,-4 43.90,82.8 44.20,169.5 42.40,169.5 42.70,82.8" fill="url(#sg0_50_0_12)" style="mix-blend-mode:lighten"/>
<rect x="49.90" y="-4" width="3.20" height="173.5" fill="url(#gl0_40)" style="mix-blend-mode:lighten"/>
<polygon points="50.60,-4 52.40,-4 52.40,82.8 52.95,169.5 50.05,169.5 50.60,82.8" fill="url(#hsg0_40_0_10)" style="mix-blend-mode:lighten"/>
<polygon points="51.00,-4 52.00,-4 52.00,82.8 52.30,169.5 50.70,169.5 51.00,82.8" fill="url(#sg0_40_0_10)" style="mix-blend-mode:lighten"/>
<rect x="52.10" y="-4" width="3.40" height="173.5" fill="url(#gl0_62)" style="mix-blend-mode:lighten"/>
<polygon points="52.65,-4 54.95,-4 54.95,82.8 55.35,169.5 52.25,169.5 52.65,82.8" fill="url(#hsg0_62_0_12)" style="mix-blend-mode:lighten"/>
<polygon points="53.20,-4 54.40,-4 54.40,82.8 54.70,169.5 52.90,169.5 53.20,82.8" fill="url(#sg0_62_0_12)" style="mix-blend-mode:lighten"/>
<rect x="56.50" y="-4" width="3.20" height="173.5" fill="url(#gl0_40)" style="mix-blend-mode:lighten"/>
<polygon points="57.20,-4 59.00,-4 59.00,82.8 59.55,169.5 56.65,169.5 57.20,82.8" fill="url(#hsg0_40_0_10)" style="mix-blend-mode:lighten"/>
<polygon points="57.60,-4 58.60,-4 58.60,82.8 58.90,169.5 57.30,169.5 57.60,82.8" fill="url(#sg0_40_0_10)" style="mix-blend-mode:lighten"/>
<rect x="62.10" y="-4" width="3.20" height="173.5" fill="url(#gl0_42)" style="mix-blend-mode:lighten"/>
<polygon points="62.80,-4 64.60,-4 64.60,82.8 65.15,169.5 62.25,169.5 62.80,82.8" fill="url(#hsg0_42_0_10)" style="mix-blend-mode:lighten"/>
<polygon points="63.20,-4 64.20,-4 64.20,82.8 64.50,169.5 62.90,169.5 63.20,82.8" fill="url(#sg0_42_0_10)" style="mix-blend-mode:lighten"/>
<rect x="67.10" y="-4" width="3.40" height="173.5" fill="url(#gl0_62)" style="mix-blend-mode:lighten"/>
<polygon points="67.65,-4 69.95,-4 69.95,82.8 70.35,169.5 67.25,169.5 67.65,82.8" fill="url(#hsg0_62_0_12)" style="mix-blend-mode:lighten"/>
<polygon points="68.20,-4 69.40,-4 69.40,82.8 69.70,169.5 67.90,169.5 68.20,82.8" fill="url(#sg0_62_0_12)" style="mix-blend-mode:lighten"/>
<rect x="71.80" y="-4" width="3.20" height="173.5" fill="url(#gl0_38)" style="mix-blend-mode:lighten"/>
<polygon points="72.50,-4 74.30,-4 74.30,82.8 74.85,169.5 71.95,169.5 72.50,82.8" fill="url(#hsg0_38_0_10)" style="mix-blend-mode:lighten"/>
<polygon points="72.90,-4 73.90,-4 73.90,82.8 74.20,169.5 72.60,169.5 72.90,82.8" fill="url(#sg0_38_0_10)" style="mix-blend-mode:lighten"/>
<rect x="77.60" y="-4" width="3.20" height="173.5" fill="url(#gl0_42)" style="mix-blend-mode:lighten"/>
<polygon points="78.30,-4 80.10,-4 80.10,82.8 80.65,169.5 77.75,169.5 78.30,82.8" fill="url(#hsg0_42_0_10)" style="mix-blend-mode:lighten"/>
<polygon points="78.70,-4 79.70,-4 79.70,82.8 80.00,169.5 78.40,169.5 78.70,82.8" fill="url(#sg0_42_0_10)" style="mix-blend-mode:lighten"/>
<rect x="81.90" y="-4" width="3.20" height="173.5" fill="url(#gl0_38)" style="mix-blend-mode:lighten"/>
<polygon points="82.60,-4 84.40,-4 84.40,82.8 84.95,169.5 82.05,169.5 82.60,82.8" fill="url(#hsg0_38_0_10)" style="mix-blend-mode:lighten"/>
<polygon points="83.00,-4 84.00,-4 84.00,82.8 84.30,169.5 82.70,169.5 83.00,82.8" fill="url(#sg0_38_0_10)" style="mix-blend-mode:lighten"/>
<rect x="91.60" y="-4" width="3.20" height="173.5" fill="url(#gl0_42)" style="mix-blend-mode:lighten"/>
<polygon points="92.30,-4 94.10,-4 94.10,82.8 95.15,169.5 91.25,169.5 92.30,82.8" fill="url(#hsg0_42_1_10)" style="mix-blend-mode:lighten"/>
<polygon points="92.70,-4 93.70,-4 93.70,82.8 94.50,169.5 91.90,169.5 92.70,82.8" fill="url(#sg0_42_1_10)" style="mix-blend-mode:lighten"/>
<rect x="96.47" y="-4" width="3.65" height="173.5" fill="url(#gl0_82)" style="mix-blend-mode:lighten"/>
<polygon points="97.02,-4 99.58,-4 99.58,82.8 100.47,169.5 96.12,169.5 97.02,82.8" fill="url(#hsg0_82_1_14)" style="mix-blend-mode:lighten"/>
<polygon points="97.58,-4 99.02,-4 99.02,82.8 99.83,169.5 96.77,169.5 97.58,82.8" fill="url(#sg0_82_1_14)" style="mix-blend-mode:lighten"/>
<rect x="101.58" y="-4" width="3.65" height="173.5" fill="url(#gl0_75)" style="mix-blend-mode:lighten"/>
<polygon points="102.12,-4 104.68,-4 104.68,82.8 105.58,169.5 101.23,169.5 102.12,82.8" fill="url(#hsg0_75_1_14)" style="mix-blend-mode:lighten"/>
<polygon points="102.68,-4 104.12,-4 104.12,82.8 104.93,169.5 101.88,169.5 102.68,82.8" fill="url(#sg0_75_1_14)" style="mix-blend-mode:lighten"/>
<rect x="106.70" y="-4" width="3.40" height="173.5" fill="url(#gl0_72)" style="mix-blend-mode:lighten"/>
<polygon points="107.25,-4 109.55,-4 109.55,82.8 110.45,169.5 106.35,169.5 107.25,82.8" fill="url(#hsg0_72_1_12)" style="mix-blend-mode:lighten"/>
<polygon points="107.80,-4 109.00,-4 109.00,82.8 109.80,169.5 107.00,169.5 107.80,82.8" fill="url(#sg0_72_1_12)" style="mix-blend-mode:lighten"/>
<rect x="111.08" y="-4" width="3.65" height="173.5" fill="url(#gl0_84)" style="mix-blend-mode:lighten"/>
<polygon points="111.62,-4 114.18,-4 114.18,82.8 115.08,169.5 110.73,169.5 111.62,82.8" fill="url(#hsg0_84_1_14)" style="mix-blend-mode:lighten"/>
<polygon points="112.18,-4 113.62,-4 113.62,82.8 114.43,169.5 111.38,169.5 112.18,82.8" fill="url(#sg0_84_1_14)" style="mix-blend-mode:lighten"/>
<rect x="116.70" y="-4" width="3.20" height="173.5" fill="url(#gl0_42)" style="mix-blend-mode:lighten"/>
<polygon points="117.40,-4 119.20,-4 119.20,82.8 120.25,169.5 116.35,169.5 117.40,82.8" fill="url(#hsg0_42_1_10)" style="mix-blend-mode:lighten"/>
<polygon points="117.80,-4 118.80,-4 118.80,82.8 119.60,169.5 117.00,169.5 117.80,82.8" fill="url(#sg0_42_1_10)" style="mix-blend-mode:lighten"/>
<rect x="118.80" y="-4" width="3.40" height="173.5" fill="url(#gl0_55)" style="mix-blend-mode:lighten"/>
<polygon points="119.35,-4 121.65,-4 121.65,82.8 122.55,169.5 118.45,169.5 119.35,82.8" fill="url(#hsg0_55_1_12)" style="mix-blend-mode:lighten"/>
<polygon points="119.90,-4 121.10,-4 121.10,82.8 121.90,169.5 119.10,169.5 119.90,82.8" fill="url(#sg0_55_1_12)" style="mix-blend-mode:lighten"/>
<rect x="123.70" y="-4" width="3.20" height="173.5" fill="url(#gl0_42)" style="mix-blend-mode:lighten"/>
<polygon points="124.40,-4 126.20,-4 126.20,82.8 127.25,169.5 123.35,169.5 124.40,82.8" fill="url(#hsg0_42_1_10)" style="mix-blend-mode:lighten"/>
<polygon points="124.80,-4 125.80,-4 125.80,82.8 126.60,169.5 124.00,169.5 124.80,82.8" fill="url(#sg0_42_1_10)" style="mix-blend-mode:lighten"/>
<rect x="126.80" y="-4" width="3.40" height="173.5" fill="url(#gl0_68)" style="mix-blend-mode:lighten"/>
<polygon points="127.35,-4 129.65,-4 129.65,82.8 130.55,169.5 126.45,169.5 127.35,82.8" fill="url(#hsg0_68_1_12)" style="mix-blend-mode:lighten"/>
<polygon points="127.90,-4 129.10,-4 129.10,82.8 129.90,169.5 127.10,169.5 127.90,82.8" fill="url(#sg0_68_1_12)" style="mix-blend-mode:lighten"/>
<rect x="132.08" y="-4" width="3.65" height="173.5" fill="url(#gl0_85)" style="mix-blend-mode:lighten"/>
<polygon points="132.62,-4 135.18,-4 135.18,82.8 136.08,169.5 131.72,169.5 132.62,82.8" fill="url(#hsg0_85_1_14)" style="mix-blend-mode:lighten"/>
<polygon points="133.18,-4 134.62,-4 134.62,82.8 135.43,169.5 132.38,169.5 133.18,82.8" fill="url(#sg0_85_1_14)" style="mix-blend-mode:lighten"/>
<rect x="137.00" y="-4" width="3.40" height="173.5" fill="url(#gl0_72)" style="mix-blend-mode:lighten"/>
<polygon points="137.55,-4 139.85,-4 139.85,82.8 140.75,169.5 136.65,169.5 137.55,82.8" fill="url(#hsg0_72_1_12)" style="mix-blend-mode:lighten"/>
<polygon points="138.10,-4 139.30,-4 139.30,82.8 140.10,169.5 137.30,169.5 138.10,82.8" fill="url(#sg0_72_1_12)" style="mix-blend-mode:lighten"/>
<rect x="154.30" y="-4" width="3.20" height="173.5" fill="url(#gl0_40)" style="mix-blend-mode:lighten"/>
<polygon points="155.00,-4 156.80,-4 156.80,82.8 157.35,169.5 154.45,169.5 155.00,82.8" fill="url(#hsg0_40_0_10)" style="mix-blend-mode:lighten"/>
<polygon points="155.40,-4 156.40,-4 156.40,82.8 156.70,169.5 155.10,169.5 155.40,82.8" fill="url(#sg0_40_0_10)" style="mix-blend-mode:lighten"/>
<rect x="157.50" y="-4" width="3.20" height="173.5" fill="url(#gl0_42)" style="mix-blend-mode:lighten"/>
<polygon points="158.20,-4 160.00,-4 160.00,82.8 160.55,169.5 157.65,169.5 158.20,82.8" fill="url(#hsg0_42_0_10)" style="mix-blend-mode:lighten"/>
<polygon points="158.60,-4 159.60,-4 159.60,82.8 159.90,169.5 158.30,169.5 158.60,82.8" fill="url(#sg0_42_0_10)" style="mix-blend-mode:lighten"/>
<rect x="21.60" y="-4" width="3.20" height="173.5" fill="url(#gl0_26)" style="mix-blend-mode:lighten"/>
<polygon points="22.70,-4 23.70,-4 23.70,82.8 24.00,169.5 22.40,169.5 22.70,82.8" fill="url(#sg0_26_0_10)" style="mix-blend-mode:lighten"/>
<rect x="35.79" y="-4" width="3.20" height="173.5" fill="url(#gl0_32)" style="mix-blend-mode:lighten"/>
<polygon points="36.89,-4 37.89,-4 37.89,82.8 38.19,169.5 36.59,169.5 36.89,82.8" fill="url(#sg0_32_0_10)" style="mix-blend-mode:lighten"/>
<rect x="87.35" y="-4" width="3.20" height="173.5" fill="url(#gl0_26)" style="mix-blend-mode:lighten"/>
<polygon points="88.45,-4 89.45,-4 89.45,82.8 89.75,169.5 88.15,169.5 88.45,82.8" fill="url(#sg0_26_0_10)" style="mix-blend-mode:lighten"/>
<rect x="143.08" y="-4" width="3.20" height="173.5" fill="url(#gl0_32)" style="mix-blend-mode:lighten"/>
<polygon points="144.18,-4 145.18,-4 145.18,82.8 145.48,169.5 143.88,169.5 144.18,82.8" fill="url(#sg0_32_0_10)" style="mix-blend-mode:lighten"/>
<rect x="148.75" y="-4" width="3.20" height="173.5" fill="url(#gl0_28)" style="mix-blend-mode:lighten"/>
<polygon points="149.85,-4 150.85,-4 150.85,82.8 151.15,169.5 149.55,169.5 149.85,82.8" fill="url(#sg0_28_0_10)" style="mix-blend-mode:lighten"/>
<polygon points="-4,169.5 -4.0,149.3 -3.0,149.3 -3.0,150.8 -2.0,150.8 -2.0,150.0 -1.0,150.0 -1.0,151.1 0.0,151.1 0.0,151.2 1.0,151.2 1.0,148.4 2.0,148.4 2.0,148.2 3.0,148.2 3.0,152.3 4.0,152.3 4.0,149.4 5.0,149.4 5.0,149.3 6.0,149.3 6.0,153.1 7.0,153.1 7.0,150.5 8.0,150.5 8.0,152.3 9.0,152.3 9.0,150.5 10.0,150.5 10.0,151.3 11.0,151.3 11.0,148.9 12.0,148.9 12.0,151.3 13.0,151.3 13.0,152.4 14.0,152.4 14.0,150.7 15.0,150.7 15.0,151.8 16.0,151.8 16.0,151.5 17.0,151.5 17.0,148.4 18.0,148.4 18.0,151.9 19.0,151.9 19.0,151.1 20.0,151.1 20.0,149.6 21.0,149.6 21.0,148.3 22.0,148.3 22.0,152.4 23.0,152.4 23.0,150.5 24.0,150.5 24.0,151.7 25.0,151.7 25.0,152.5 26.0,152.5 26.0,151.7 27.0,151.7 27.0,152.7 28.0,152.7 28.0,150.1 29.0,150.1 29.0,152.1 30.0,152.1 30.0,150.3 31.0,150.3 31.0,152.8 32.0,152.8 32.0,152.5 33.0,152.5 33.0,148.6 34.0,148.6 34.0,148.8 35.0,148.8 35.0,149.2 36.0,149.2 36.0,152.9 37.0,152.9 37.0,150.3 38.0,150.3 38.0,151.2 39.0,151.2 39.0,149.6 40.0,149.6 40.0,150.6 41.0,150.6 41.0,150.0 42.0,150.0 42.0,149.9 43.0,149.9 43.0,151.0 44.0,151.0 44.0,151.0 45.0,151.0 45.0,152.6 46.0,152.6 46.0,151.5 47.0,151.5 47.0,152.7 48.0,152.7 48.0,152.4 49.0,152.4 49.0,153.1 50.0,153.1 50.0,151.5 51.0,151.5 51.0,148.9 52.0,148.9 52.0,152.4 53.0,152.4 53.0,152.9 54.0,152.9 54.0,152.6 55.0,152.6 55.0,151.0 56.0,151.0 56.0,151.7 57.0,151.7 57.0,149.2 58.0,149.2 58.0,152.3 59.0,152.3 59.0,151.0 60.0,151.0 60.0,149.5 61.0,149.5 61.0,148.4 62.0,148.4 62.0,152.4 63.0,152.4 63.0,153.1 64.0,153.1 64.0,148.5 65.0,148.5 65.0,152.1 66.0,152.1 66.0,150.2 67.0,150.2 67.0,148.9 68.0,148.9 68.0,149.6 69.0,149.6 69.0,151.9 70.0,151.9 70.0,152.5 71.0,152.5 71.0,148.3 72.0,148.3 72.0,151.2 73.0,151.2 73.0,148.3 74.0,148.3 74.0,151.7 75.0,151.7 75.0,149.8 76.0,149.8 76.0,152.5 77.0,152.5 77.0,153.0 78.0,153.0 78.0,150.6 79.0,150.6 79.0,153.1 80.0,153.1 80.0,149.7 81.0,149.7 81.0,148.5 82.0,148.5 82.0,151.1 83.0,151.1 83.0,148.3 84.0,148.3 84.0,149.1 85.0,149.1 85.0,150.1 86.0,150.1 86.0,151.2 87.0,151.2 87.0,148.9 88.0,148.9 88.0,148.3 89.0,148.3 89.0,152.4 90.0,152.4 90.0,149.7 91.0,149.7 91.0,152.9 92.0,152.9 92.0,152.6 93.0,152.6 93.0,149.2 94.0,149.2 94.0,146.0 95.0,146.0 95.0,145.4 96.0,145.4 96.0,145.7 97.0,145.7 97.0,144.0 98.0,144.0 98.0,142.4 99.0,142.4 99.0,142.1 100.0,142.1 100.0,144.9 101.0,144.9 101.0,138.8 102.0,138.8 102.0,136.9 103.0,136.9 103.0,139.5 104.0,139.5 104.0,132.9 105.0,132.9 105.0,132.9 106.0,132.9 106.0,140.3 107.0,140.3 107.0,134.1 108.0,134.1 108.0,133.8 109.0,133.8 109.0,126.8 110.0,126.8 110.0,131.2 111.0,131.2 111.0,132.7 112.0,132.7 112.0,125.6 113.0,125.6 113.0,132.4 114.0,132.4 114.0,132.4 115.0,132.4 115.0,125.3 116.0,125.3 116.0,132.0 117.0,132.0 117.0,130.0 118.0,130.0 118.0,132.6 119.0,132.6 119.0,128.7 120.0,128.7 120.0,133.1 121.0,133.1 121.0,133.7 122.0,133.7 122.0,125.3 123.0,125.3 123.0,126.1 124.0,126.1 124.0,133.9 125.0,133.9 125.0,137.8 126.0,137.8 126.0,129.7 127.0,129.7 127.0,132.7 128.0,132.7 128.0,135.0 129.0,135.0 129.0,132.4 130.0,132.4 130.0,133.6 131.0,133.6 131.0,133.8 132.0,133.8 132.0,135.3 133.0,135.3 133.0,138.9 134.0,138.9 134.0,136.3 135.0,136.3 135.0,138.2 136.0,138.2 136.0,143.9 137.0,143.9 137.0,136.1 138.0,136.1 138.0,143.7 139.0,143.7 139.0,146.8 140.0,146.8 140.0,142.9 141.0,142.9 141.0,143.1 142.0,143.1 142.0,151.3 143.0,151.3 143.0,149.3 144.0,149.3 144.0,149.0 145.0,149.0 145.0,150.3 146.0,150.3 146.0,151.6 147.0,151.6 147.0,148.6 148.0,148.6 148.0,149.7 149.0,149.7 149.0,149.8 150.0,149.8 150.0,152.3 151.0,152.3 151.0,150.3 152.0,150.3 152.0,152.4 153.0,152.4 153.0,149.0 154.0,149.0 154.0,149.8 155.0,149.8 155.0,151.4 156.0,151.4 156.0,152.5 157.0,152.5 157.0,150.4 158.0,150.4 158.0,149.2 159.0,149.2 159.0,148.7 160.0,148.7 160.0,150.8 161.0,150.8 161.0,149.1 162.0,149.1 162.0,152.1 163.0,152.1 163.0,152.3 164.0,152.3 164.0,149.0 165.0,149.0 165.0,149.5 166.0,149.5 166.0,152.1 167.0,152.1 166.2,169.5" fill="#00ff00" style="mix-blend-mode:lighten"/></g>
</svg>
<svg class="sp" style="left:322.90px;top:13.00px" width="162.2" height="165.5" viewBox="0 0 162.2 165.5">
<defs><linearGradient id="bg1" gradientUnits="userSpaceOnUse" x1="0" y1="0" x2="0" y2="165.5"><stop offset="0.0000" stop-color="#6b0000"/><stop offset="0.0110" stop-color="#6b0000"/><stop offset="0.0160" stop-color="#130000"/><stop offset="0.4500" stop-color="#160000"/><stop offset="0.6000" stop-color="#240000"/><stop offset="0.7000" stop-color="#380000"/><stop offset="0.7800" stop-color="#4a0000"/><stop offset="0.8160" stop-color="#630000"/><stop offset="0.8520" stop-color="#8a0000"/><stop offset="0.8820" stop-color="#a60000"/><stop offset="0.9060" stop-color="#bf0000"/><stop offset="0.9370" stop-color="#d40000"/><stop offset="1.0000" stop-color="#e00000"/></linearGradient><filter id="f1" filterUnits="userSpaceOnUse" x="-4" y="-4" width="170.2" height="173.5" color-interpolation-filters="sRGB">
<feColorMatrix in="SourceGraphic" type="matrix" values="1 0 0 0 0 1 0 0 0 0 1 0 0 0 0 0 0 0 0 1" result="bg"/>
<feColorMatrix in="SourceGraphic" type="matrix" values="0 1 0 0 0 0 1 0 0 0 0 1 0 0 0 0 0 0 0 1" result="st"/>

<feTurbulence type="fractalNoise" baseFrequency="0.5 0.22" numOctaves="2" seed="7" result="t"/>
<feColorMatrix in="t" type="matrix" values="1 0 0 0 0 1 0 0 0 0 1 0 0 0 0 0 0 0 0 1" result="n"/>
<feComposite in="bg" in2="n" operator="arithmetic" k1="0.9" k2="0.55" k3="0.42" k4="-0.21" result="bgn"/>
<feBlend in="bgn" in2="st" mode="lighten" result="v"/>
<feComponentTransfer in="v"><feFuncR type="table" tableValues="0.000 0.000 0.000 0.000 0.000 0.000 0.000 0.000 0.000 0.000 0.000 0.000 0.000 0.000 0.000 0.000 0.000 0.000 0.000 0.000 0.000 0.000 0.000 0.035 0.085 0.136 0.187 0.237 0.288 0.338 0.389 0.440 0.490 0.541 0.591 0.642 0.693 0.743 0.794 0.844 0.895 0.946 0.996 1.000 1.000 1.000 1.000 1.000 1.000 1.000 1.000 1.000 1.000 1.000 1.000 1.000 1.000 0.959 0.917 0.876 0.835 0.794 0.752 0.711 0.670"/><feFuncG type="table" tableValues="0.000 0.000 0.000 0.000 0.000 0.000 0.000 0.000 0.002 0.065 0.127 0.190 0.253 0.316 0.378 0.441 0.504 0.567 0.629 0.692 0.755 0.818 0.880 0.943 1.000 1.000 1.000 1.000 1.000 1.000 1.000 1.000 1.000 1.000 1.000 1.000 1.000 1.000 1.000 1.000 1.000 0.988 0.930 0.872 0.814 0.756 0.698 0.640 0.582 0.524 0.466 0.407 0.349 0.291 0.233 0.175 0.117 0.059 0.001 0.000 0.000 0.000 0.000 0.000 0.000"/><feFuncB type="table" tableValues="0.500 0.571 0.643 0.714 0.785 0.857 0.928 0.999 1.000 1.000 1.000 1.000 1.000 1.000 1.000 1.000 1.000 1.000 1.000 1.000 1.000 1.000 0.984 0.933 0.882 0.832 0.781 0.731 0.680 0.629 0.579 0.528 0.478 0.427 0.376 0.326 0.275 0.225 0.174 0.123 0.073 0.022 0.000 0.000 0.000 0.000 0.000 0.000 0.000 0.000 0.000 0.000 0.000 0.000 0.000 0.000 0.000 0.000 0.000 0.000 0.000 0.000 0.000 0.000 0.000"/><feFuncA type="linear" slope="0" intercept="1"/></feComponentTransfer>
</filter><linearGradient id="hl1_36" gradientUnits="userSpaceOnUse" x1="0" y1="49.6" x2="0" y2="165.5"><stop offset="0" stop-color="#000"/><stop offset="0.45" stop-color="#4c0000"/><stop offset="0.85" stop-color="#780000"/><stop offset="1" stop-color="#780000"/></linearGradient><linearGradient id="hl1_48" gradientUnits="userSpaceOnUse" x1="0" y1="49.6" x2="0" y2="165.5"><stop offset="0" stop-color="#000"/><stop offset="0.45" stop-color="#4c0000"/><stop offset="0.85" stop-color="#840000"/><stop offset="1" stop-color="#840000"/></linearGradient><linearGradient id="hl1_42" gradientUnits="userSpaceOnUse" x1="0" y1="49.6" x2="0" y2="165.5"><stop offset="0" stop-color="#000"/><stop offset="0.45" stop-color="#4c0000"/><stop offset="0.85" stop-color="#7e0000"/><stop offset="1" stop-color="#7e0000"/></linearGradient><linearGradient id="hl1_68" gradientUnits="userSpaceOnUse" x1="0" y1="49.6" x2="0" y2="165.5"><stop offset="0" stop-color="#000"/><stop offset="0.45" stop-color="#4c0000"/><stop offset="0.85" stop-color="#970000"/><stop offset="1" stop-color="#970000"/></linearGradient><linearGradient id="hl1_62" gradientUnits="userSpaceOnUse" x1="0" y1="49.6" x2="0" y2="165.5"><stop offset="0" stop-color="#000"/><stop offset="0.45" stop-color="#4c0000"/><stop offset="0.85" stop-color="#910000"/><stop offset="1" stop-color="#910000"/></linearGradient><linearGradient id="hl1_66" gradientUnits="userSpaceOnUse" x1="0" y1="49.6" x2="0" y2="165.5"><stop offset="0" stop-color="#000"/><stop offset="0.45" stop-color="#4c0000"/><stop offset="0.85" stop-color="#950000"/><stop offset="1" stop-color="#950000"/></linearGradient><linearGradient id="hl1_38" gradientUnits="userSpaceOnUse" x1="0" y1="49.6" x2="0" y2="165.5"><stop offset="0" stop-color="#000"/><stop offset="0.45" stop-color="#4c0000"/><stop offset="0.85" stop-color="#7a0000"/><stop offset="1" stop-color="#7a0000"/></linearGradient><linearGradient id="hl1_55" gradientUnits="userSpaceOnUse" x1="0" y1="49.6" x2="0" y2="165.5"><stop offset="0" stop-color="#000"/><stop offset="0.45" stop-color="#4c0000"/><stop offset="0.85" stop-color="#8b0000"/><stop offset="1" stop-color="#8b0000"/></linearGradient><linearGradient id="hl1_70" gradientUnits="userSpaceOnUse" x1="0" y1="49.6" x2="0" y2="165.5"><stop offset="0" stop-color="#000"/><stop offset="0.45" stop-color="#4c0000"/><stop offset="0.85" stop-color="#990000"/><stop offset="1" stop-color="#990000"/></linearGradient><linearGradient id="hl1_50" gradientUnits="userSpaceOnUse" x1="0" y1="49.6" x2="0" y2="165.5"><stop offset="0" stop-color="#000"/><stop offset="0.45" stop-color="#4c0000"/><stop offset="0.85" stop-color="#860000"/><stop offset="1" stop-color="#860000"/></linearGradient><linearGradient id="hl1_28" gradientUnits="userSpaceOnUse" x1="0" y1="49.6" x2="0" y2="165.5"><stop offset="0" stop-color="#000"/><stop offset="0.45" stop-color="#4c0000"/><stop offset="0.85" stop-color="#720000"/><stop offset="1" stop-color="#720000"/></linearGradient><linearGradient id="hl1_26" gradientUnits="userSpaceOnUse" x1="0" y1="49.6" x2="0" y2="165.5"><stop offset="0" stop-color="#000"/><stop offset="0.45" stop-color="#4c0000"/><stop offset="0.85" stop-color="#6f0000"/><stop offset="1" stop-color="#6f0000"/></linearGradient><linearGradient id="hl1_32" gradientUnits="userSpaceOnUse" x1="0" y1="49.6" x2="0" y2="165.5"><stop offset="0" stop-color="#000"/><stop offset="0.45" stop-color="#4c0000"/><stop offset="0.85" stop-color="#750000"/><stop offset="1" stop-color="#750000"/></linearGradient><linearGradient id="sg1_36_0_10" gradientUnits="userSpaceOnUse" x1="0" y1="0" x2="0" y2="165.5"><stop offset="0" stop-color="#005c00"/><stop offset="0.35" stop-color="#006600"/><stop offset="0.6" stop-color="#00a800"/><stop offset="0.85" stop-color="#00db00"/><stop offset="1" stop-color="#00db00"/></linearGradient><linearGradient id="hsg1_36_0_10" gradientUnits="userSpaceOnUse" x1="0" y1="0" x2="0" y2="165.5"><stop offset="0" stop-color="#003f00"/><stop offset="0.35" stop-color="#004400"/><stop offset="0.6" stop-color="#006700"/><stop offset="0.85" stop-color="#008100"/><stop offset="1" stop-color="#008100"/></linearGradient><linearGradient id="gl1_36" gradientUnits="userSpaceOnUse" x1="0" y1="0" x2="0" y2="165.5"><stop offset="0" stop-color="#120000"/><stop offset="0.4" stop-color="#170000"/><stop offset="0.62" stop-color="#270000"/><stop offset="0.82" stop-color="#400000"/><stop offset="1" stop-color="#580000"/></linearGradient><linearGradient id="sg1_48_0_10" gradientUnits="userSpaceOnUse" x1="0" y1="0" x2="0" y2="165.5"><stop offset="0" stop-color="#007a00"/><stop offset="0.35" stop-color="#008500"/><stop offset="0.6" stop-color="#00c700"/><stop offset="0.85" stop-color="#00f700"/><stop offset="1" stop-color="#00f700"/></linearGradient><linearGradient id="hsg1_48_0_10" gradientUnits="userSpaceOnUse" x1="0" y1="0" x2="0" y2="165.5"><stop offset="0" stop-color="#004f00"/><stop offset="0.35" stop-color="#005400"/><stop offset="0.6" stop-color="#007700"/><stop offset="0.85" stop-color="#009000"/><stop offset="1" stop-color="#009000"/></linearGradient><linearGradient id="gl1_48" gradientUnits="userSpaceOnUse" x1="0" y1="0" x2="0" y2="165.5"><stop offset="0" stop-color="#130000"/><stop offset="0.4" stop-color="#180000"/><stop offset="0.62" stop-color="#290000"/><stop offset="0.82" stop-color="#430000"/><stop offset="1" stop-color="#5d0000"/></linearGradient><linearGradient id="sg1_42_0_10" gradientUnits="userSpaceOnUse" x1="0" y1="0" x2="0" y2="165.5"><stop offset="0" stop-color="#006b00"/><stop offset="0.35" stop-color="#007500"/><stop offset="0.6" stop-color="#00b800"/><stop offset="0.85" stop-color="#00eb00"/><stop offset="1" stop-color="#00eb00"/></linearGradient><linearGradient id="hsg1_42_0_10" gradientUnits="userSpaceOnUse" x1="0" y1="0" x2="0" y2="165.5"><stop offset="0" stop-color="#004700"/><stop offset="0.35" stop-color="#004c00"/><stop offset="0.6" stop-color="#006f00"/><stop offset="0.85" stop-color="#008900"/><stop offset="1" stop-color="#008900"/></linearGradient><linearGradient id="gl1_42" gradientUnits="userSpaceOnUse" x1="0" y1="0" x2="0" y2="165.5"><stop offset="0" stop-color="#120000"/><stop offset="0.4" stop-color="#180000"/><stop offset="0.62" stop-color="#280000"/><stop offset="0.82" stop-color="#410000"/><stop offset="1" stop-color="#5b0000"/></linearGradient><linearGradient id="sg1_68_0_12" gradientUnits="userSpaceOnUse" x1="0" y1="0" x2="0" y2="165.5"><stop offset="0" stop-color="#00ad00"/><stop offset="0.35" stop-color="#00b800"/><stop offset="0.6" stop-color="#00f200"/><stop offset="0.85" stop-color="#00f700"/><stop offset="1" stop-color="#00f700"/></linearGradient><linearGradient id="hsg1_68_0_12" gradientUnits="userSpaceOnUse" x1="0" y1="0" x2="0" y2="165.5"><stop offset="0" stop-color="#006900"/><stop offset="0.35" stop-color="#006f00"/><stop offset="0.6" stop-color="#008d00"/><stop offset="0.85" stop-color="#009000"/><stop offset="1" stop-color="#009000"/></linearGradient><linearGradient id="gl1_68" gradientUnits="userSpaceOnUse" x1="0" y1="0" x2="0" y2="165.5"><stop offset="0" stop-color="#140000"/><stop offset="0.4" stop-color="#1a0000"/><stop offset="0.62" stop-color="#2c0000"/><stop offset="0.82" stop-color="#490000"/><stop offset="1" stop-color="#650000"/></linearGradient><linearGradient id="sg1_62_0_12" gradientUnits="userSpaceOnUse" x1="0" y1="0" x2="0" y2="165.5"><stop offset="0" stop-color="#009e00"/><stop offset="0.35" stop-color="#00a800"/><stop offset="0.6" stop-color="#00eb00"/><stop offset="0.85" stop-color="#00f700"/><stop offset="1" stop-color="#00f700"/></linearGradient><linearGradient id="hsg1_62_0_12" gradientUnits="userSpaceOnUse" x1="0" y1="0" x2="0" y2="165.5"><stop offset="0" stop-color="#006200"/><stop offset="0.35" stop-color="#006700"/><stop offset="0.6" stop-color="#008900"/><stop offset="0.85" stop-color="#009000"/><stop offset="1" stop-color="#009000"/></linearGradient><linearGradient id="gl1_62" gradientUnits="userSpaceOnUse" x1="0" y1="0" x2="0" y2="165.5"><stop offset="0" stop-color="#140000"/><stop offset="0.4" stop-color="#1a0000"/><stop offset="0.62" stop-color="#2b0000"/><stop offset="0.82" stop-color="#470000"/><stop offset="1" stop-color="#630000"/></linearGradient><linearGradient id="sg1_66_0_12" gradientUnits="userSpaceOnUse" x1="0" y1="0" x2="0" y2="165.5"><stop offset="0" stop-color="#00a800"/><stop offset="0.35" stop-color="#00b300"/><stop offset="0.6" stop-color="#00f200"/><stop offset="0.85" stop-color="#00f700"/><stop offset="1" stop-color="#00f700"/></linearGradient><linearGradient id="hsg1_66_0_12" gradientUnits="userSpaceOnUse" x1="0" y1="0" x2="0" y2="165.5"><stop offset="0" stop-color="#006700"/><stop offset="0.35" stop-color="#006c00"/><stop offset="0.6" stop-color="#008d00"/><stop offset="0.85" stop-color="#009000"/><stop offset="1" stop-color="#009000"/></linearGradient><linearGradient id="gl1_66" gradientUnits="userSpaceOnUse" x1="0" y1="0" x2="0" y2="165.5"><stop offset="0" stop-color="#140000"/><stop offset="0.4" stop-color="#1a0000"/><stop offset="0.62" stop-color="#2c0000"/><stop offset="0.82" stop-color="#480000"/><stop offset="1" stop-color="#640000"/></linearGradient><linearGradient id="sg1_38_0_10" gradientUnits="userSpaceOnUse" x1="0" y1="0" x2="0" y2="165.5"><stop offset="0" stop-color="#006100"/><stop offset="0.35" stop-color="#006b00"/><stop offset="0.6" stop-color="#00ad00"/><stop offset="0.85" stop-color="#00e000"/><stop offset="1" stop-color="#00e000"/></linearGradient><linearGradient id="hsg1_38_0_10" gradientUnits="userSpaceOnUse" x1="0" y1="0" x2="0" y2="165.5"><stop offset="0" stop-color="#004200"/><stop offset="0.35" stop-color="#004700"/><stop offset="0.6" stop-color="#006900"/><stop offset="0.85" stop-color="#008400"/><stop offset="1" stop-color="#008400"/></linearGradient><linearGradient id="gl1_38" gradientUnits="userSpaceOnUse" x1="0" y1="0" x2="0" y2="165.5"><stop offset="0" stop-color="#120000"/><stop offset="0.4" stop-color="#170000"/><stop offset="0.62" stop-color="#270000"/><stop offset="0.82" stop-color="#400000"/><stop offset="1" stop-color="#590000"/></linearGradient><linearGradient id="sg1_55_0_12" gradientUnits="userSpaceOnUse" x1="0" y1="0" x2="0" y2="165.5"><stop offset="0" stop-color="#008c00"/><stop offset="0.35" stop-color="#009600"/><stop offset="0.6" stop-color="#00d900"/><stop offset="0.85" stop-color="#00f700"/><stop offset="1" stop-color="#00f700"/></linearGradient><linearGradient id="hsg1_55_0_12" gradientUnits="userSpaceOnUse" x1="0" y1="0" x2="0" y2="165.5"><stop offset="0" stop-color="#005800"/><stop offset="0.35" stop-color="#005e00"/><stop offset="0.6" stop-color="#008000"/><stop offset="0.85" stop-color="#009000"/><stop offset="1" stop-color="#009000"/></linearGradient><linearGradient id="gl1_55" gradientUnits="userSpaceOnUse" x1="0" y1="0" x2="0" y2="165.5"><stop offset="0" stop-color="#130000"/><stop offset="0.4" stop-color="#190000"/><stop offset="0.62" stop-color="#2a0000"/><stop offset="0.82" stop-color="#450000"/><stop offset="1" stop-color="#600000"/></linearGradient><linearGradient id="sg1_70_0_12" gradientUnits="userSpaceOnUse" x1="0" y1="0" x2="0" y2="165.5"><stop offset="0" stop-color="#00b200"/><stop offset="0.35" stop-color="#00bd00"/><stop offset="0.6" stop-color="#00f200"/><stop offset="0.85" stop-color="#00f700"/><stop offset="1" stop-color="#00f700"/></linearGradient><linearGradient id="hsg1_70_0_12" gradientUnits="userSpaceOnUse" x1="0" y1="0" x2="0" y2="165.5"><stop offset="0" stop-color="#006c00"/><stop offset="0.35" stop-color="#007100"/><stop offset="0.6" stop-color="#008d00"/><stop offset="0.85" stop-color="#009000"/><stop offset="1" stop-color="#009000"/></linearGradient><linearGradient id="gl1_70" gradientUnits="userSpaceOnUse" x1="0" y1="0" x2="0" y2="165.5"><stop offset="0" stop-color="#140000"/><stop offset="0.4" stop-color="#1a0000"/><stop offset="0.62" stop-color="#2d0000"/><stop offset="0.82" stop-color="#490000"/><stop offset="1" stop-color="#660000"/></linearGradient><linearGradient id="sg1_50_0_12" gradientUnits="userSpaceOnUse" x1="0" y1="0" x2="0" y2="165.5"><stop offset="0" stop-color="#008000"/><stop offset="0.35" stop-color="#008a00"/><stop offset="0.6" stop-color="#00cc00"/><stop offset="0.85" stop-color="#00f700"/><stop offset="1" stop-color="#00f700"/></linearGradient><linearGradient id="hsg1_50_0_12" gradientUnits="userSpaceOnUse" x1="0" y1="0" x2="0" y2="165.5"><stop offset="0" stop-color="#005200"/><stop offset="0.35" stop-color="#005700"/><stop offset="0.6" stop-color="#007900"/><stop offset="0.85" stop-color="#009000"/><stop offset="1" stop-color="#009000"/></linearGradient><linearGradient id="gl1_50" gradientUnits="userSpaceOnUse" x1="0" y1="0" x2="0" y2="165.5"><stop offset="0" stop-color="#130000"/><stop offset="0.4" stop-color="#180000"/><stop offset="0.62" stop-color="#290000"/><stop offset="0.82" stop-color="#440000"/><stop offset="1" stop-color="#5e0000"/></linearGradient><linearGradient id="sg1_28_0_10" gradientUnits="userSpaceOnUse" x1="0" y1="0" x2="0" y2="165.5"><stop offset="0" stop-color="#004a00"/><stop offset="0.35" stop-color="#005400"/><stop offset="0.6" stop-color="#009600"/><stop offset="0.85" stop-color="#00c900"/><stop offset="1" stop-color="#00c900"/></linearGradient><linearGradient id="hsg1_28_0_10" gradientUnits="userSpaceOnUse" x1="0" y1="0" x2="0" y2="165.5"><stop offset="0" stop-color="#003600"/><stop offset="0.35" stop-color="#003b00"/><stop offset="0.6" stop-color="#005e00"/><stop offset="0.85" stop-color="#007800"/><stop offset="1" stop-color="#007800"/></linearGradient><linearGradient id="gl1_28" gradientUnits="userSpaceOnUse" x1="0" y1="0" x2="0" y2="165.5"><stop offset="0" stop-color="#110000"/><stop offset="0.4" stop-color="#160000"/><stop offset="0.62" stop-color="#260000"/><stop offset="0.82" stop-color="#3e0000"/><stop offset="1" stop-color="#560000"/></linearGradient><linearGradient id="sg1_26_0_10" gradientUnits="userSpaceOnUse" x1="0" y1="0" x2="0" y2="165.5"><stop offset="0" stop-color="#004200"/><stop offset="0.35" stop-color="#004c00"/><stop offset="0.6" stop-color="#008f00"/><stop offset="0.85" stop-color="#00c200"/><stop offset="1" stop-color="#00c200"/></linearGradient><linearGradient id="hsg1_26_0_10" gradientUnits="userSpaceOnUse" x1="0" y1="0" x2="0" y2="165.5"><stop offset="0" stop-color="#003200"/><stop offset="0.35" stop-color="#003700"/><stop offset="0.6" stop-color="#005a00"/><stop offset="0.85" stop-color="#007400"/><stop offset="1" stop-color="#007400"/></linearGradient><linearGradient id="gl1_26" gradientUnits="userSpaceOnUse" x1="0" y1="0" x2="0" y2="165.5"><stop offset="0" stop-color="#110000"/><stop offset="0.4" stop-color="#160000"/><stop offset="0.62" stop-color="#250000"/><stop offset="0.82" stop-color="#3d0000"/><stop offset="1" stop-color="#540000"/></linearGradient><linearGradient id="sg1_32_0_10" gradientUnits="userSpaceOnUse" x1="0" y1="0" x2="0" y2="165.5"><stop offset="0" stop-color="#005200"/><stop offset="0.35" stop-color="#005c00"/><stop offset="0.6" stop-color="#009e00"/><stop offset="0.85" stop-color="#00d100"/><stop offset="1" stop-color="#00d100"/></linearGradient><linearGradient id="hsg1_32_0_10" gradientUnits="userSpaceOnUse" x1="0" y1="0" x2="0" y2="165.5"><stop offset="0" stop-color="#003a00"/><stop offset="0.35" stop-color="#003f00"/><stop offset="0.6" stop-color="#006200"/><stop offset="0.85" stop-color="#007c00"/><stop offset="1" stop-color="#007c00"/></linearGradient><linearGradient id="gl1_32" gradientUnits="userSpaceOnUse" x1="0" y1="0" x2="0" y2="165.5"><stop offset="0" stop-color="#110000"/><stop offset="0.4" stop-color="#170000"/><stop offset="0.62" stop-color="#260000"/><stop offset="0.82" stop-color="#3e0000"/><stop offset="1" stop-color="#570000"/></linearGradient></defs>
<g filter="url(#f1)"><rect x="-4" y="-4" width="170.2" height="173.5" fill="url(#bg1)"/>
<rect x="-4" y="23.2" width="170.2" height="2" fill="#730000" style="mix-blend-mode:lighten"/>
<rect x="-4" y="29.5" width="170.2" height="1" fill="#420000" style="mix-blend-mode:lighten"/>
<polygon points="3.20,49.6 4.64,165.5 1.76,165.5" fill="url(#hl1_36)" style="mix-blend-mode:lighten"/>
<polygon points="6.50,49.6 8.12,165.5 4.88,165.5" fill="url(#hl1_48)" style="mix-blend-mode:lighten"/>
<polygon points="11.90,49.6 13.43,165.5 10.37,165.5" fill="url(#hl1_42)" style="mix-blend-mode:lighten"/>
<polygon points="17.00,49.6 18.53,165.5 15.47,165.5" fill="url(#hl1_42)" style="mix-blend-mode:lighten"/>
<polygon points="21.50,49.6 23.42,165.5 19.58,165.5" fill="url(#hl1_68)" style="mix-blend-mode:lighten"/>
<polygon points="31.70,49.6 33.23,165.5 30.17,165.5" fill="url(#hl1_42)" style="mix-blend-mode:lighten"/>
<polygon points="49.00,49.6 50.53,165.5 47.47,165.5" fill="url(#hl1_42)" style="mix-blend-mode:lighten"/>
<polygon points="58.70,49.6 60.23,165.5 57.17,165.5" fill="url(#hl1_42)" style="mix-blend-mode:lighten"/>
<polygon points="63.50,49.6 65.33,165.5 61.67,165.5" fill="url(#hl1_62)" style="mix-blend-mode:lighten"/>
<polygon points="67.40,49.6 69.23,165.5 65.57,165.5" fill="url(#hl1_62)" style="mix-blend-mode:lighten"/>
<polygon points="72.50,49.6 74.39,165.5 70.61,165.5" fill="url(#hl1_66)" style="mix-blend-mode:lighten"/>
<polygon points="77.80,49.6 79.27,165.5 76.33,165.5" fill="url(#hl1_38)" style="mix-blend-mode:lighten"/>
<polygon points="82.90,49.6 84.63,165.5 81.18,165.5" fill="url(#hl1_55)" style="mix-blend-mode:lighten"/>
<polygon points="87.30,49.6 88.83,165.5 85.77,165.5" fill="url(#hl1_42)" style="mix-blend-mode:lighten"/>
<polygon points="92.90,49.6 94.37,165.5 91.43,165.5" fill="url(#hl1_38)" style="mix-blend-mode:lighten"/>
<polygon points="97.70,49.6 99.53,165.5 95.87,165.5" fill="url(#hl1_62)" style="mix-blend-mode:lighten"/>
<polygon points="103.50,49.6 105.12,165.5 101.88,165.5" fill="url(#hl1_48)" style="mix-blend-mode:lighten"/>
<polygon points="106.80,49.6 108.33,165.5 105.27,165.5" fill="url(#hl1_42)" style="mix-blend-mode:lighten"/>
<polygon points="114.30,49.6 116.25,165.5 112.35,165.5" fill="url(#hl1_70)" style="mix-blend-mode:lighten"/>
<polygon points="117.50,49.6 119.15,165.5 115.85,165.5" fill="url(#hl1_50)" style="mix-blend-mode:lighten"/>
<polygon points="123.10,49.6 124.63,165.5 121.57,165.5" fill="url(#hl1_42)" style="mix-blend-mode:lighten"/>
<polygon points="129.30,49.6 131.13,165.5 127.47,165.5" fill="url(#hl1_62)" style="mix-blend-mode:lighten"/>
<polygon points="134.40,49.6 136.23,165.5 132.57,165.5" fill="url(#hl1_62)" style="mix-blend-mode:lighten"/>
<polygon points="138.40,49.6 139.93,165.5 136.87,165.5" fill="url(#hl1_42)" style="mix-blend-mode:lighten"/>
<polygon points="144.00,49.6 145.47,165.5 142.53,165.5" fill="url(#hl1_38)" style="mix-blend-mode:lighten"/>
<polygon points="154.70,49.6 156.65,165.5 152.75,165.5" fill="url(#hl1_70)" style="mix-blend-mode:lighten"/>
<polygon points="159.20,49.6 160.73,165.5 157.67,165.5" fill="url(#hl1_42)" style="mix-blend-mode:lighten"/>
<polygon points="26.60,49.6 27.93,165.5 25.26,165.5" fill="url(#hl1_28)" style="mix-blend-mode:lighten"/>
<polygon points="37.30,49.6 38.59,165.5 36.01,165.5" fill="url(#hl1_26)" style="mix-blend-mode:lighten"/>
<polygon points="43.46,49.6 44.80,165.5 42.13,165.5" fill="url(#hl1_28)" style="mix-blend-mode:lighten"/>
<polygon points="53.35,49.6 54.69,165.5 52.02,165.5" fill="url(#hl1_28)" style="mix-blend-mode:lighten"/>
<polygon points="149.02,49.6 150.40,165.5 147.64,165.5" fill="url(#hl1_32)" style="mix-blend-mode:lighten"/>
<rect x="1.60" y="-4" width="3.20" height="173.5" fill="url(#gl1_36)" style="mix-blend-mode:lighten"/>
<polygon points="2.30,-4 4.10,-4 4.10,82.8 4.65,169.5 1.75,169.5 2.30,82.8" fill="url(#hsg1_36_0_10)" style="mix-blend-mode:lighten"/>
<polygon points="2.70,-4 3.70,-4 3.70,82.8 4.00,169.5 2.40,169.5 2.70,82.8" fill="url(#sg1_36_0_10)" style="mix-blend-mode:lighten"/>
<rect x="4.90" y="-4" width="3.20" height="173.5" fill="url(#gl1_48)" style="mix-blend-mode:lighten"/>
<polygon points="5.60,-4 7.40,-4 7.40,82.8 7.95,169.5 5.05,169.5 5.60,82.8" fill="url(#hsg1_48_0_10)" style="mix-blend-mode:lighten"/>
<polygon points="6.00,-4 7.00,-4 7.00,82.8 7.30,169.5 5.70,169.5 6.00,82.8" fill="url(#sg1_48_0_10)" style="mix-blend-mode:lighten"/>
<rect x="10.30" y="-4" width="3.20" height="173.5" fill="url(#gl1_42)" style="mix-blend-mode:lighten"/>
<polygon points="11.00,-4 12.80,-4 12.80,82.8 13.35,169.5 10.45,169.5 11.00,82.8" fill="url(#hsg1_42_0_10)" style="mix-blend-mode:lighten"/>
<polygon points="11.40,-4 12.40,-4 12.40,82.8 12.70,169.5 11.10,169.5 11.40,82.8" fill="url(#sg1_42_0_10)" style="mix-blend-mode:lighten"/>
<rect x="15.40" y="-4" width="3.20" height="173.5" fill="url(#gl1_42)" style="mix-blend-mode:lighten"/>
<polygon points="16.10,-4 17.90,-4 17.90,82.8 18.45,169.5 15.55,169.5 16.10,82.8" fill="url(#hsg1_42_0_10)" style="mix-blend-mode:lighten"/>
<polygon points="16.50,-4 17.50,-4 17.50,82.8 17.80,169.5 16.20,169.5 16.50,82.8" fill="url(#sg1_42_0_10)" style="mix-blend-mode:lighten"/>
<rect x="19.80" y="-4" width="3.40" height="173.5" fill="url(#gl1_68)" style="mix-blend-mode:lighten"/>
<polygon points="20.35,-4 22.65,-4 22.65,82.8 23.05,169.5 19.95,169.5 20.35,82.8" fill="url(#hsg1_68_0_12)" style="mix-blend-mode:lighten"/>
<polygon points="20.90,-4 22.10,-4 22.10,82.8 22.40,169.5 20.60,169.5 20.90,82.8" fill="url(#sg1_68_0_12)" style="mix-blend-mode:lighten"/>
<rect x="30.10" y="-4" width="3.20" height="173.5" fill="url(#gl1_42)" style="mix-blend-mode:lighten"/>
<polygon points="30.80,-4 32.60,-4 32.60,82.8 33.15,169.5 30.25,169.5 30.80,82.8" fill="url(#hsg1_42_0_10)" style="mix-blend-mode:lighten"/>
<polygon points="31.20,-4 32.20,-4 32.20,82.8 32.50,169.5 30.90,169.5 31.20,82.8" fill="url(#sg1_42_0_10)" style="mix-blend-mode:lighten"/>
<rect x="47.40" y="-4" width="3.20" height="173.5" fill="url(#gl1_42)" style="mix-blend-mode:lighten"/>
<polygon points="48.10,-4 49.90,-4 49.90,82.8 50.45,169.5 47.55,169.5 48.10,82.8" fill="url(#hsg1_42_0_10)" style="mix-blend-mode:lighten"/>
<polygon points="48.50,-4 49.50,-4 49.50,82.8 49.80,169.5 48.20,169.5 48.50,82.8" fill="url(#sg1_42_0_10)" style="mix-blend-mode:lighten"/>
<rect x="57.10" y="-4" width="3.20" height="173.5" fill="url(#gl1_42)" style="mix-blend-mode:lighten"/>
<polygon points="57.80,-4 59.60,-4 59.60,82.8 60.15,169.5 57.25,169.5 57.80,82.8" fill="url(#hsg1_42_0_10)" style="mix-blend-mode:lighten"/>
<polygon points="58.20,-4 59.20,-4 59.20,82.8 59.50,169.5 57.90,169.5 58.20,82.8" fill="url(#sg1_42_0_10)" style="mix-blend-mode:lighten"/>
<rect x="61.80" y="-4" width="3.40" height="173.5" fill="url(#gl1_62)" style="mix-blend-mode:lighten"/>
<polygon points="62.35,-4 64.65,-4 64.65,82.8 65.05,169.5 61.95,169.5 62.35,82.8" fill="url(#hsg1_62_0_12)" style="mix-blend-mode:lighten"/>
<polygon points="62.90,-4 64.10,-4 64.10,82.8 64.40,169.5 62.60,169.5 62.90,82.8" fill="url(#sg1_62_0_12)" style="mix-blend-mode:lighten"/>
<rect x="65.70" y="-4" width="3.40" height="173.5" fill="url(#gl1_62)" style="mix-blend-mode:lighten"/>
<polygon points="66.25,-4 68.55,-4 68.55,82.8 68.95,169.5 65.85,169.5 66.25,82.8" fill="url(#hsg1_62_0_12)" style="mix-blend-mode:lighten"/>
<polygon points="66.80,-4 68.00,-4 68.00,82.8 68.30,169.5 66.50,169.5 66.80,82.8" fill="url(#sg1_62_0_12)" style="mix-blend-mode:lighten"/>
<rect x="70.80" y="-4" width="3.40" height="173.5" fill="url(#gl1_66)" style="mix-blend-mode:lighten"/>
<polygon points="71.35,-4 73.65,-4 73.65,82.8 74.05,169.5 70.95,169.5 71.35,82.8" fill="url(#hsg1_66_0_12)" style="mix-blend-mode:lighten"/>
<polygon points="71.90,-4 73.10,-4 73.10,82.8 73.40,169.5 71.60,169.5 71.90,82.8" fill="url(#sg1_66_0_12)" style="mix-blend-mode:lighten"/>
<rect x="76.20" y="-4" width="3.20" height="173.5" fill="url(#gl1_38)" style="mix-blend-mode:lighten"/>
<polygon points="76.90,-4 78.70,-4 78.70,82.8 79.25,169.5 76.35,169.5 76.90,82.8" fill="url(#hsg1_38_0_10)" style="mix-blend-mode:lighten"/>
<polygon points="77.30,-4 78.30,-4 78.30,82.8 78.60,169.5 77.00,169.5 77.30,82.8" fill="url(#sg1_38_0_10)" style="mix-blend-mode:lighten"/>
<rect x="81.20" y="-4" width="3.40" height="173.5" fill="url(#gl1_55)" style="mix-blend-mode:lighten"/>
<polygon points="81.75,-4 84.05,-4 84.05,82.8 84.45,169.5 81.35,169.5 81.75,82.8" fill="url(#hsg1_55_0_12)" style="mix-blend-mode:lighten"/>
<polygon points="82.30,-4 83.50,-4 83.50,82.8 83.80,169.5 82.00,169.5 82.30,82.8" fill="url(#sg1_55_0_12)" style="mix-blend-mode:lighten"/>
<rect x="85.70" y="-4" width="3.20" height="173.5" fill="url(#gl1_42)" style="mix-blend-mode:lighten"/>
<polygon points="86.40,-4 88.20,-4 88.20,82.8 88.75,169.5 85.85,169.5 86.40,82.8" fill="url(#hsg1_42_0_10)" style="mix-blend-mode:lighten"/>
<polygon points="86.80,-4 87.80,-4 87.80,82.8 88.10,169.5 86.50,169.5 86.80,82.8" fill="url(#sg1_42_0_10)" style="mix-blend-mode:lighten"/>
<rect x="91.30" y="-4" width="3.20" height="173.5" fill="url(#gl1_38)" style="mix-blend-mode:lighten"/>
<polygon points="92.00,-4 93.80,-4 93.80,82.8 94.35,169.5 91.45,169.5 92.00,82.8" fill="url(#hsg1_38_0_10)" style="mix-blend-mode:lighten"/>
<polygon points="92.40,-4 93.40,-4 93.40,82.8 93.70,169.5 92.10,169.5 92.40,82.8" fill="url(#sg1_38_0_10)" style="mix-blend-mode:lighten"/>
<rect x="96.00" y="-4" width="3.40" height="173.5" fill="url(#gl1_62)" style="mix-blend-mode:lighten"/>
<polygon points="96.55,-4 98.85,-4 98.85,82.8 99.25,169.5 96.15,169.5 96.55,82.8" fill="url(#hsg1_62_0_12)" style="mix-blend-mode:lighten"/>
<polygon points="97.10,-4 98.30,-4 98.30,82.8 98.60,169.5 96.80,169.5 97.10,82.8" fill="url(#sg1_62_0_12)" style="mix-blend-mode:lighten"/>
<rect x="101.90" y="-4" width="3.20" height="173.5" fill="url(#gl1_48)" style="mix-blend-mode:lighten"/>
<polygon points="102.60,-4 104.40,-4 104.40,82.8 104.95,169.5 102.05,169.5 102.60,82.8" fill="url(#hsg1_48_0_10)" style="mix-blend-mode:lighten"/>
<polygon points="103.00,-4 104.00,-4 104.00,82.8 104.30,169.5 102.70,169.5 103.00,82.8" fill="url(#sg1_48_0_10)" style="mix-blend-mode:lighten"/>
<rect x="105.20" y="-4" width="3.20" height="173.5" fill="url(#gl1_42)" style="mix-blend-mode:lighten"/>
<polygon points="105.90,-4 107.70,-4 107.70,82.8 108.25,169.5 105.35,169.5 105.90,82.8" fill="url(#hsg1_42_0_10)" style="mix-blend-mode:lighten"/>
<polygon points="106.30,-4 107.30,-4 107.30,82.8 107.60,169.5 106.00,169.5 106.30,82.8" fill="url(#sg1_42_0_10)" style="mix-blend-mode:lighten"/>
<rect x="112.60" y="-4" width="3.40" height="173.5" fill="url(#gl1_70)" style="mix-blend-mode:lighten"/>
<polygon points="113.15,-4 115.45,-4 115.45,82.8 115.85,169.5 112.75,169.5 113.15,82.8" fill="url(#hsg1_70_0_12)" style="mix-blend-mode:lighten"/>
<polygon points="113.70,-4 114.90,-4 114.90,82.8 115.20,169.5 113.40,169.5 113.70,82.8" fill="url(#sg1_70_0_12)" style="mix-blend-mode:lighten"/>
<rect x="115.80" y="-4" width="3.40" height="173.5" fill="url(#gl1_50)" style="mix-blend-mode:lighten"/>
<polygon points="116.35,-4 118.65,-4 118.65,82.8 119.05,169.5 115.95,169.5 116.35,82.8" fill="url(#hsg1_50_0_12)" style="mix-blend-mode:lighten"/>
<polygon points="116.90,-4 118.10,-4 118.10,82.8 118.40,169.5 116.60,169.5 116.90,82.8" fill="url(#sg1_50_0_12)" style="mix-blend-mode:lighten"/>
<rect x="121.50" y="-4" width="3.20" height="173.5" fill="url(#gl1_42)" style="mix-blend-mode:lighten"/>
<polygon points="122.20,-4 124.00,-4 124.00,82.8 124.55,169.5 121.65,169.5 122.20,82.8" fill="url(#hsg1_42_0_10)" style="mix-blend-mode:lighten"/>
<polygon points="122.60,-4 123.60,-4 123.60,82.8 123.90,169.5 122.30,169.5 122.60,82.8" fill="url(#sg1_42_0_10)" style="mix-blend-mode:lighten"/>
<rect x="127.60" y="-4" width="3.40" height="173.5" fill="url(#gl1_62)" style="mix-blend-mode:lighten"/>
<polygon points="128.15,-4 130.45,-4 130.45,82.8 130.85,169.5 127.75,169.5 128.15,82.8" fill="url(#hsg1_62_0_12)" style="mix-blend-mode:lighten"/>
<polygon points="128.70,-4 129.90,-4 129.90,82.8 130.20,169.5 128.40,169.5 128.70,82.8" fill="url(#sg1_62_0_12)" style="mix-blend-mode:lighten"/>
<rect x="132.70" y="-4" width="3.40" height="173.5" fill="url(#gl1_62)" style="mix-blend-mode:lighten"/>
<polygon points="133.25,-4 135.55,-4 135.55,82.8 135.95,169.5 132.85,169.5 133.25,82.8" fill="url(#hsg1_62_0_12)" style="mix-blend-mode:lighten"/>
<polygon points="133.80,-4 135.00,-4 135.00,82.8 135.30,169.5 133.50,169.5 133.80,82.8" fill="url(#sg1_62_0_12)" style="mix-blend-mode:lighten"/>
<rect x="136.80" y="-4" width="3.20" height="173.5" fill="url(#gl1_42)" style="mix-blend-mode:lighten"/>
<polygon points="137.50,-4 139.30,-4 139.30,82.8 139.85,169.5 136.95,169.5 137.50,82.8" fill="url(#hsg1_42_0_10)" style="mix-blend-mode:lighten"/>
<polygon points="137.90,-4 138.90,-4 138.90,82.8 139.20,169.5 137.60,169.5 137.90,82.8" fill="url(#sg1_42_0_10)" style="mix-blend-mode:lighten"/>
<rect x="142.40" y="-4" width="3.20" height="173.5" fill="url(#gl1_38)" style="mix-blend-mode:lighten"/>
<polygon points="143.10,-4 144.90,-4 144.90,82.8 145.45,169.5 142.55,169.5 143.10,82.8" fill="url(#hsg1_38_0_10)" style="mix-blend-mode:lighten"/>
<polygon points="143.50,-4 144.50,-4 144.50,82.8 144.80,169.5 143.20,169.5 143.50,82.8" fill="url(#sg1_38_0_10)" style="mix-blend-mode:lighten"/>
<rect x="153.00" y="-4" width="3.40" height="173.5" fill="url(#gl1_70)" style="mix-blend-mode:lighten"/>
<polygon points="153.55,-4 155.85,-4 155.85,82.8 156.25,169.5 153.15,169.5 153.55,82.8" fill="url(#hsg1_70_0_12)" style="mix-blend-mode:lighten"/>
<polygon points="154.10,-4 155.30,-4 155.30,82.8 155.60,169.5 153.80,169.5 154.10,82.8" fill="url(#sg1_70_0_12)" style="mix-blend-mode:lighten"/>
<rect x="157.60" y="-4" width="3.20" height="173.5" fill="url(#gl1_42)" style="mix-blend-mode:lighten"/>
<polygon points="158.30,-4 160.10,-4 160.10,82.8 160.65,169.5 157.75,169.5 158.30,82.8" fill="url(#hsg1_42_0_10)" style="mix-blend-mode:lighten"/>
<polygon points="158.70,-4 159.70,-4 159.70,82.8 160.00,169.5 158.40,169.5 158.70,82.8" fill="url(#sg1_42_0_10)" style="mix-blend-mode:lighten"/>
<rect x="25.00" y="-4" width="3.20" height="173.5" fill="url(#gl1_28)" style="mix-blend-mode:lighten"/>
<polygon points="26.10,-4 27.10,-4 27.10,82.8 27.40,169.5 25.80,169.5 26.10,82.8" fill="url(#sg1_28_0_10)" style="mix-blend-mode:lighten"/>
<rect x="35.70" y="-4" width="3.20" height="173.5" fill="url(#gl1_26)" style="mix-blend-mode:lighten"/>
<polygon points="36.80,-4 37.80,-4 37.80,82.8 38.10,169.5 36.50,169.5 36.80,82.8" fill="url(#sg1_26_0_10)" style="mix-blend-mode:lighten"/>
<rect x="41.86" y="-4" width="3.20" height="173.5" fill="url(#gl1_28)" style="mix-blend-mode:lighten"/>
<polygon points="42.96,-4 43.96,-4 43.96,82.8 44.26,169.5 42.66,169.5 42.96,82.8" fill="url(#sg1_28_0_10)" style="mix-blend-mode:lighten"/>
<rect x="51.75" y="-4" width="3.20" height="173.5" fill="url(#gl1_28)" style="mix-blend-mode:lighten"/>
<polygon points="52.85,-4 53.85,-4 53.85,82.8 54.15,169.5 52.55,169.5 52.85,82.8" fill="url(#sg1_28_0_10)" style="mix-blend-mode:lighten"/>
<rect x="147.42" y="-4" width="3.20" height="173.5" fill="url(#gl1_32)" style="mix-blend-mode:lighten"/>
<polygon points="148.52,-4 149.52,-4 149.52,82.8 149.82,169.5 148.22,169.5 148.52,82.8" fill="url(#sg1_32_0_10)" style="mix-blend-mode:lighten"/>
<polygon points="-4,169.5 -4.0,154.7 -3.0,154.7 -3.0,153.8 -2.0,153.8 -2.0,156.3 -1.0,156.3 -1.0,153.4 0.0,153.4 0.0,155.7 1.0,155.7 1.0,154.9 2.0,154.9 2.0,153.4 3.0,153.4 3.0,155.6 4.0,155.6 4.0,153.3 5.0,153.3 5.0,155.2 6.0,155.2 6.0,153.4 7.0,153.4 7.0,153.5 8.0,153.5 8.0,155.2 9.0,155.2 9.0,157.2 10.0,157.2 10.0,153.7 11.0,153.7 11.0,154.2 12.0,154.2 12.0,156.2 13.0,156.2 13.0,157.8 14.0,157.8 14.0,156.0 15.0,156.0 15.0,155.1 16.0,155.1 16.0,158.0 17.0,158.0 17.0,153.3 18.0,153.3 18.0,157.4 19.0,157.4 19.0,154.5 20.0,154.5 20.0,153.8 21.0,153.8 21.0,153.7 22.0,153.7 22.0,154.6 23.0,154.6 23.0,157.2 24.0,157.2 24.0,154.0 25.0,154.0 25.0,156.0 26.0,156.0 26.0,156.3 27.0,156.3 27.0,154.9 28.0,154.9 28.0,155.8 29.0,155.8 29.0,153.4 30.0,153.4 30.0,153.4 31.0,153.4 31.0,154.1 32.0,154.1 32.0,156.5 33.0,156.5 33.0,155.2 34.0,155.2 34.0,154.6 35.0,154.6 35.0,156.0 36.0,156.0 36.0,155.3 37.0,155.3 37.0,154.6 38.0,154.6 38.0,157.0 39.0,157.0 39.0,156.6 40.0,156.6 40.0,154.3 41.0,154.3 41.0,155.9 42.0,155.9 42.0,155.7 43.0,155.7 43.0,157.4 44.0,157.4 44.0,156.7 45.0,156.7 45.0,154.5 46.0,154.5 46.0,158.0 47.0,158.0 47.0,153.7 48.0,153.7 48.0,155.2 49.0,155.2 49.0,156.9 50.0,156.9 50.0,153.8 51.0,153.8 51.0,155.5 52.0,155.5 52.0,153.3 53.0,153.3 53.0,156.4 54.0,156.4 54.0,156.9 55.0,156.9 55.0,155.9 56.0,155.9 56.0,157.4 57.0,157.4 57.0,154.6 58.0,154.6 58.0,156.5 59.0,156.5 59.0,156.0 60.0,156.0 60.0,156.0 61.0,156.0 61.0,155.4 62.0,155.4 62.0,157.3 63.0,157.3 63.0,157.8 64.0,157.8 64.0,155.4 65.0,155.4 65.0,156.4 66.0,156.4 66.0,153.4 67.0,153.4 67.0,156.6 68.0,156.6 68.0,156.3 69.0,156.3 69.0,158.0 70.0,158.0 70.0,157.2 71.0,157.2 71.0,154.5 72.0,154.5 72.0,155.0 73.0,155.0 73.0,156.4 74.0,156.4 74.0,153.2 75.0,153.2 75.0,155.4 76.0,155.4 76.0,153.9 77.0,153.9 77.0,153.7 78.0,153.7 78.0,153.4 79.0,153.4 79.0,156.9 80.0,156.9 80.0,153.7 81.0,153.7 81.0,154.3 82.0,154.3 82.0,155.0 83.0,155.0 83.0,157.4 84.0,157.4 84.0,153.5 85.0,153.5 85.0,155.3 86.0,155.3 86.0,155.8 87.0,155.8 87.0,157.5 88.0,157.5 88.0,157.2 89.0,157.2 89.0,157.4 90.0,157.4 90.0,154.5 91.0,154.5 91.0,155.1 92.0,155.1 92.0,154.9 93.0,154.9 93.0,157.5 94.0,157.5 94.0,157.9 95.0,157.9 95.0,153.8 96.0,153.8 96.0,154.0 97.0,154.0 97.0,154.2 98.0,154.2 98.0,154.2 99.0,154.2 99.0,155.5 100.0,155.5 100.0,156.0 101.0,156.0 101.0,154.4 102.0,154.4 102.0,153.1 103.0,153.1 103.0,155.2 104.0,155.2 104.0,154.9 105.0,154.9 105.0,155.9 106.0,155.9 106.0,157.8 107.0,157.8 107.0,156.5 108.0,156.5 108.0,155.6 109.0,155.6 109.0,156.2 110.0,156.2 110.0,156.5 111.0,156.5 111.0,153.3 112.0,153.3 112.0,157.6 113.0,157.6 113.0,157.0 114.0,157.0 114.0,157.4 115.0,157.4 115.0,157.1 116.0,157.1 116.0,155.0 117.0,155.0 117.0,155.1 118.0,155.1 118.0,153.6 119.0,153.6 119.0,156.2 120.0,156.2 120.0,153.4 121.0,153.4 121.0,153.4 122.0,153.4 122.0,154.1 123.0,154.1 123.0,153.9 124.0,153.9 124.0,154.8 125.0,154.8 125.0,153.3 126.0,153.3 126.0,153.1 127.0,153.1 127.0,153.8 128.0,153.8 128.0,153.6 129.0,153.6 129.0,154.9 130.0,154.9 130.0,153.2 131.0,153.2 131.0,157.4 132.0,157.4 132.0,156.1 133.0,156.1 133.0,153.8 134.0,153.8 134.0,154.3 135.0,154.3 135.0,154.8 136.0,154.8 136.0,154.9 137.0,154.9 137.0,153.7 138.0,153.7 138.0,157.3 139.0,157.3 139.0,158.0 140.0,158.0 140.0,155.4 141.0,155.4 141.0,155.5 142.0,155.5 142.0,153.5 143.0,153.5 143.0,153.6 144.0,153.6 144.0,154.8 145.0,154.8 145.0,154.4 146.0,154.4 146.0,157.2 147.0,157.2 147.0,153.9 148.0,153.9 148.0,153.2 149.0,153.2 149.0,157.8 150.0,157.8 150.0,155.7 151.0,155.7 151.0,153.8 152.0,153.8 152.0,155.8 153.0,155.8 153.0,153.2 154.0,153.2 154.0,155.7 155.0,155.7 155.0,158.0 156.0,158.0 156.0,157.4 157.0,157.4 157.0,156.6 158.0,156.6 158.0,154.4 159.0,154.4 159.0,154.9 160.0,154.9 160.0,153.9 161.0,153.9 161.0,156.9 162.0,156.9 162.0,155.7 163.0,155.7 163.0,157.0 164.0,157.0 164.0,154.7 165.0,154.7 165.0,154.2 166.0,154.2 166.0,157.1 167.0,157.1 166.2,169.5" fill="#00ff00" style="mix-blend-mode:lighten"/></g>
</svg>
<svg class="sp" style="left:29.50px;top:217.00px" width="162.2" height="165.5" viewBox="0 0 162.2 165.5">
<defs><linearGradient id="bg2" gradientUnits="userSpaceOnUse" x1="0" y1="0" x2="0" y2="165.5"><stop offset="0.0000" stop-color="#6b0000"/><stop offset="0.0110" stop-color="#6b0000"/><stop offset="0.0160" stop-color="#130000"/><stop offset="0.4500" stop-color="#160000"/><stop offset="0.6000" stop-color="#240000"/><stop offset="0.6850" stop-color="#380000"/><stop offset="0.7650" stop-color="#4a0000"/><stop offset="0.8010" stop-color="#630000"/><stop offset="0.8370" stop-color="#8a0000"/><stop offset="0.8670" stop-color="#a60000"/><stop offset="0.8910" stop-color="#bf0000"/><stop offset="0.9220" stop-color="#d40000"/><stop offset="1.0000" stop-color="#e00000"/></linearGradient><filter id="f2" filterUnits="userSpaceOnUse" x="-4" y="-4" width="170.2" height="173.5" color-interpolation-filters="sRGB">
<feColorMatrix in="SourceGraphic" type="matrix" values="1 0 0 0 0 1 0 0 0 0 1 0 0 0 0 0 0 0 0 1" result="bg"/>
<feColorMatrix in="SourceGraphic" type="matrix" values="0 1 0 0 0 0 1 0 0 0 0 1 0 0 0 0 0 0 0 1" result="st"/>

<feTurbulence type="fractalNoise" baseFrequency="0.5 0.22" numOctaves="2" seed="11" result="t"/>
<feColorMatrix in="t" type="matrix" values="1 0 0 0 0 1 0 0 0 0 1 0 0 0 0 0 0 0 0 1" result="n"/>
<feComposite in="bg" in2="n" operator="arithmetic" k1="0.9" k2="0.55" k3="0.42" k4="-0.21" result="bgn"/>
<feBlend in="bgn" in2="st" mode="lighten" result="v"/>
<feComponentTransfer in="v"><feFuncR type="table" tableValues="0.000 0.000 0.000 0.000 0.000 0.000 0.000 0.000 0.000 0.000 0.000 0.000 0.000 0.000 0.000 0.000 0.000 0.000 0.000 0.000 0.000 0.000 0.000 0.035 0.085 0.136 0.187 0.237 0.288 0.338 0.389 0.440 0.490 0.541 0.591 0.642 0.693 0.743 0.794 0.844 0.895 0.946 0.996 1.000 1.000 1.000 1.000 1.000 1.000 1.000 1.000 1.000 1.000 1.000 1.000 1.000 1.000 0.959 0.917 0.876 0.835 0.794 0.752 0.711 0.670"/><feFuncG type="table" tableValues="0.000 0.000 0.000 0.000 0.000 0.000 0.000 0.000 0.002 0.065 0.127 0.190 0.253 0.316 0.378 0.441 0.504 0.567 0.629 0.692 0.755 0.818 0.880 0.943 1.000 1.000 1.000 1.000 1.000 1.000 1.000 1.000 1.000 1.000 1.000 1.000 1.000 1.000 1.000 1.000 1.000 0.988 0.930 0.872 0.814 0.756 0.698 0.640 0.582 0.524 0.466 0.407 0.349 0.291 0.233 0.175 0.117 0.059 0.001 0.000 0.000 0.000 0.000 0.000 0.000"/><feFuncB type="table" tableValues="0.500 0.571 0.643 0.714 0.785 0.857 0.928 0.999 1.000 1.000 1.000 1.000 1.000 1.000 1.000 1.000 1.000 1.000 1.000 1.000 1.000 1.000 0.984 0.933 0.882 0.832 0.781 0.731 0.680 0.629 0.579 0.528 0.478 0.427 0.376 0.326 0.275 0.225 0.174 0.123 0.073 0.022 0.000 0.000 0.000 0.000 0.000 0.000 0.000 0.000 0.000 0.000 0.000 0.000 0.000 0.000 0.000 0.000 0.000 0.000 0.000 0.000 0.000 0.000 0.000"/><feFuncA type="linear" slope="0" intercept="1"/></feComponentTransfer>
</filter><linearGradient id="hl2_38" gradientUnits="userSpaceOnUse" x1="0" y1="49.6" x2="0" y2="165.5"><stop offset="0" stop-color="#000"/><stop offset="0.45" stop-color="#4c0000"/><stop offset="0.85" stop-color="#920000"/><stop offset="1" stop-color="#920000"/></linearGradient><linearGradient id="hl2_52" gradientUnits="userSpaceOnUse" x1="0" y1="49.6" x2="0" y2="165.5"><stop offset="0" stop-color="#000"/><stop offset="0.45" stop-color="#4c0000"/><stop offset="0.85" stop-color="#a20000"/><stop offset="1" stop-color="#a20000"/></linearGradient><linearGradient id="hl2_62" gradientUnits="userSpaceOnUse" x1="0" y1="49.6" x2="0" y2="165.5"><stop offset="0" stop-color="#000"/><stop offset="0.45" stop-color="#4c0000"/><stop offset="0.85" stop-color="#ad0000"/><stop offset="1" stop-color="#ad0000"/></linearGradient><linearGradient id="hl2_72" gradientUnits="userSpaceOnUse" x1="0" y1="49.6" x2="0" y2="165.5"><stop offset="0" stop-color="#000"/><stop offset="0.45" stop-color="#4c0000"/><stop offset="0.85" stop-color="#b90000"/><stop offset="1" stop-color="#b90000"/></linearGradient><linearGradient id="hl2_48" gradientUnits="userSpaceOnUse" x1="0" y1="49.6" x2="0" y2="165.5"><stop offset="0" stop-color="#000"/><stop offset="0.45" stop-color="#4c0000"/><stop offset="0.85" stop-color="#9d0000"/><stop offset="1" stop-color="#9d0000"/></linearGradient><linearGradient id="hl2_68" gradientUnits="userSpaceOnUse" x1="0" y1="49.6" x2="0" y2="165.5"><stop offset="0" stop-color="#000"/><stop offset="0.45" stop-color="#4c0000"/><stop offset="0.85" stop-color="#b40000"/><stop offset="1" stop-color="#b40000"/></linearGradient><linearGradient id="hl2_64" gradientUnits="userSpaceOnUse" x1="0" y1="49.6" x2="0" y2="165.5"><stop offset="0" stop-color="#000"/><stop offset="0.45" stop-color="#4c0000"/><stop offset="0.85" stop-color="#af0000"/><stop offset="1" stop-color="#af0000"/></linearGradient><linearGradient id="hl2_84" gradientUnits="userSpaceOnUse" x1="0" y1="49.6" x2="0" y2="165.5"><stop offset="0" stop-color="#000"/><stop offset="0.45" stop-color="#4c0000"/><stop offset="0.85" stop-color="#bf0000"/><stop offset="1" stop-color="#bf0000"/></linearGradient><linearGradient id="hl2_42" gradientUnits="userSpaceOnUse" x1="0" y1="49.6" x2="0" y2="165.5"><stop offset="0" stop-color="#000"/><stop offset="0.45" stop-color="#4c0000"/><stop offset="0.85" stop-color="#960000"/><stop offset="1" stop-color="#960000"/></linearGradient><linearGradient id="hl2_78" gradientUnits="userSpaceOnUse" x1="0" y1="49.6" x2="0" y2="165.5"><stop offset="0" stop-color="#000"/><stop offset="0.45" stop-color="#4c0000"/><stop offset="0.85" stop-color="#bf0000"/><stop offset="1" stop-color="#bf0000"/></linearGradient><linearGradient id="hl2_46" gradientUnits="userSpaceOnUse" x1="0" y1="49.6" x2="0" y2="165.5"><stop offset="0" stop-color="#000"/><stop offset="0.45" stop-color="#4c0000"/><stop offset="0.85" stop-color="#9b0000"/><stop offset="1" stop-color="#9b0000"/></linearGradient><linearGradient id="hl2_26" gradientUnits="userSpaceOnUse" x1="0" y1="49.6" x2="0" y2="165.5"><stop offset="0" stop-color="#000"/><stop offset="0.45" stop-color="#4c0000"/><stop offset="0.85" stop-color="#840000"/><stop offset="1" stop-color="#840000"/></linearGradient><linearGradient id="hl2_32" gradientUnits="userSpaceOnUse" x1="0" y1="49.6" x2="0" y2="165.5"><stop offset="0" stop-color="#000"/><stop offset="0.45" stop-color="#4c0000"/><stop offset="0.85" stop-color="#8b0000"/><stop offset="1" stop-color="#8b0000"/></linearGradient><linearGradient id="sg2_38_0_10" gradientUnits="userSpaceOnUse" x1="0" y1="0" x2="0" y2="165.5"><stop offset="0" stop-color="#006100"/><stop offset="0.35" stop-color="#006b00"/><stop offset="0.6" stop-color="#00ad00"/><stop offset="0.85" stop-color="#00e000"/><stop offset="1" stop-color="#00e000"/></linearGradient><linearGradient id="hsg2_38_0_10" gradientUnits="userSpaceOnUse" x1="0" y1="0" x2="0" y2="165.5"><stop offset="0" stop-color="#004200"/><stop offset="0.35" stop-color="#004700"/><stop offset="0.6" stop-color="#006900"/><stop offset="0.85" stop-color="#008400"/><stop offset="1" stop-color="#008400"/></linearGradient><linearGradient id="gl2_38" gradientUnits="userSpaceOnUse" x1="0" y1="0" x2="0" y2="165.5"><stop offset="0" stop-color="#170000"/><stop offset="0.4" stop-color="#1e0000"/><stop offset="0.62" stop-color="#330000"/><stop offset="0.82" stop-color="#530000"/><stop offset="1" stop-color="#730000"/></linearGradient><linearGradient id="sg2_52_0_12" gradientUnits="userSpaceOnUse" x1="0" y1="0" x2="0" y2="165.5"><stop offset="0" stop-color="#008500"/><stop offset="0.35" stop-color="#008f00"/><stop offset="0.6" stop-color="#00d100"/><stop offset="0.85" stop-color="#00f700"/><stop offset="1" stop-color="#00f700"/></linearGradient><linearGradient id="hsg2_52_0_12" gradientUnits="userSpaceOnUse" x1="0" y1="0" x2="0" y2="165.5"><stop offset="0" stop-color="#005400"/><stop offset="0.35" stop-color="#005a00"/><stop offset="0.6" stop-color="#007c00"/><stop offset="0.85" stop-color="#009000"/><stop offset="1" stop-color="#009000"/></linearGradient><linearGradient id="gl2_52" gradientUnits="userSpaceOnUse" x1="0" y1="0" x2="0" y2="165.5"><stop offset="0" stop-color="#180000"/><stop offset="0.4" stop-color="#200000"/><stop offset="0.62" stop-color="#360000"/><stop offset="0.82" stop-color="#580000"/><stop offset="1" stop-color="#7a0000"/></linearGradient><linearGradient id="sg2_62_0_12" gradientUnits="userSpaceOnUse" x1="0" y1="0" x2="0" y2="165.5"><stop offset="0" stop-color="#009e00"/><stop offset="0.35" stop-color="#00a800"/><stop offset="0.6" stop-color="#00eb00"/><stop offset="0.85" stop-color="#00f700"/><stop offset="1" stop-color="#00f700"/></linearGradient><linearGradient id="hsg2_62_0_12" gradientUnits="userSpaceOnUse" x1="0" y1="0" x2="0" y2="165.5"><stop offset="0" stop-color="#006200"/><stop offset="0.35" stop-color="#006700"/><stop offset="0.6" stop-color="#008900"/><stop offset="0.85" stop-color="#009000"/><stop offset="1" stop-color="#009000"/></linearGradient><linearGradient id="gl2_62" gradientUnits="userSpaceOnUse" x1="0" y1="0" x2="0" y2="165.5"><stop offset="0" stop-color="#190000"/><stop offset="0.4" stop-color="#210000"/><stop offset="0.62" stop-color="#380000"/><stop offset="0.82" stop-color="#5c0000"/><stop offset="1" stop-color="#7f0000"/></linearGradient><linearGradient id="sg2_72_0_12" gradientUnits="userSpaceOnUse" x1="0" y1="0" x2="0" y2="165.5"><stop offset="0" stop-color="#00b800"/><stop offset="0.35" stop-color="#00c200"/><stop offset="0.6" stop-color="#00f200"/><stop offset="0.85" stop-color="#00f700"/><stop offset="1" stop-color="#00f700"/></linearGradient><linearGradient id="hsg2_72_0_12" gradientUnits="userSpaceOnUse" x1="0" y1="0" x2="0" y2="165.5"><stop offset="0" stop-color="#006f00"/><stop offset="0.35" stop-color="#007400"/><stop offset="0.6" stop-color="#008d00"/><stop offset="0.85" stop-color="#009000"/><stop offset="1" stop-color="#009000"/></linearGradient><linearGradient id="gl2_72" gradientUnits="userSpaceOnUse" x1="0" y1="0" x2="0" y2="165.5"><stop offset="0" stop-color="#1a0000"/><stop offset="0.4" stop-color="#220000"/><stop offset="0.62" stop-color="#3a0000"/><stop offset="0.82" stop-color="#5f0000"/><stop offset="1" stop-color="#840000"/></linearGradient><linearGradient id="sg2_48_0_10" gradientUnits="userSpaceOnUse" x1="0" y1="0" x2="0" y2="165.5"><stop offset="0" stop-color="#007a00"/><stop offset="0.35" stop-color="#008500"/><stop offset="0.6" stop-color="#00c700"/><stop offset="0.85" stop-color="#00f700"/><stop offset="1" stop-color="#00f700"/></linearGradient><linearGradient id="hsg2_48_0_10" gradientUnits="userSpaceOnUse" x1="0" y1="0" x2="0" y2="165.5"><stop offset="0" stop-color="#004f00"/><stop offset="0.35" stop-color="#005400"/><stop offset="0.6" stop-color="#007700"/><stop offset="0.85" stop-color="#009000"/><stop offset="1" stop-color="#009000"/></linearGradient><linearGradient id="gl2_48" gradientUnits="userSpaceOnUse" x1="0" y1="0" x2="0" y2="165.5"><stop offset="0" stop-color="#180000"/><stop offset="0.4" stop-color="#1f0000"/><stop offset="0.62" stop-color="#350000"/><stop offset="0.82" stop-color="#560000"/><stop offset="1" stop-color="#780000"/></linearGradient><linearGradient id="sg2_68_0_12" gradientUnits="userSpaceOnUse" x1="0" y1="0" x2="0" y2="165.5"><stop offset="0" stop-color="#00ad00"/><stop offset="0.35" stop-color="#00b800"/><stop offset="0.6" stop-color="#00f200"/><stop offset="0.85" stop-color="#00f700"/><stop offset="1" stop-color="#00f700"/></linearGradient><linearGradient id="hsg2_68_0_12" gradientUnits="userSpaceOnUse" x1="0" y1="0" x2="0" y2="165.5"><stop offset="0" stop-color="#006900"/><stop offset="0.35" stop-color="#006f00"/><stop offset="0.6" stop-color="#008d00"/><stop offset="0.85" stop-color="#009000"/><stop offset="1" stop-color="#009000"/></linearGradient><linearGradient id="gl2_68" gradientUnits="userSpaceOnUse" x1="0" y1="0" x2="0" y2="165.5"><stop offset="0" stop-color="#1a0000"/><stop offset="0.4" stop-color="#220000"/><stop offset="0.62" stop-color="#390000"/><stop offset="0.82" stop-color="#5e0000"/><stop offset="1" stop-color="#820000"/></linearGradient><linearGradient id="sg2_64_0_12" gradientUnits="userSpaceOnUse" x1="0" y1="0" x2="0" y2="165.5"><stop offset="0" stop-color="#00a300"/><stop offset="0.35" stop-color="#00ad00"/><stop offset="0.6" stop-color="#00f000"/><stop offset="0.85" stop-color="#00f700"/><stop offset="1" stop-color="#00f700"/></linearGradient><linearGradient id="hsg2_64_0_12" gradientUnits="userSpaceOnUse" x1="0" y1="0" x2="0" y2="165.5"><stop offset="0" stop-color="#006400"/><stop offset="0.35" stop-color="#006900"/><stop offset="0.6" stop-color="#008c00"/><stop offset="0.85" stop-color="#009000"/><stop offset="1" stop-color="#009000"/></linearGradient><linearGradient id="gl2_64" gradientUnits="userSpaceOnUse" x1="0" y1="0" x2="0" y2="165.5"><stop offset="0" stop-color="#1a0000"/><stop offset="0.4" stop-color="#210000"/><stop offset="0.62" stop-color="#380000"/><stop offset="0.82" stop-color="#5c0000"/><stop offset="1" stop-color="#800000"/></linearGradient><linearGradient id="sg2_84_0_14" gradientUnits="userSpaceOnUse" x1="0" y1="0" x2="0" y2="165.5"><stop offset="0" stop-color="#00d600"/><stop offset="0.35" stop-color="#00e000"/><stop offset="0.6" stop-color="#00f200"/><stop offset="0.85" stop-color="#00f700"/><stop offset="1" stop-color="#00f700"/></linearGradient><linearGradient id="hsg2_84_0_14" gradientUnits="userSpaceOnUse" x1="0" y1="0" x2="0" y2="165.5"><stop offset="0" stop-color="#007f00"/><stop offset="0.35" stop-color="#008400"/><stop offset="0.6" stop-color="#008d00"/><stop offset="0.85" stop-color="#009000"/><stop offset="1" stop-color="#009000"/></linearGradient><linearGradient id="gl2_84" gradientUnits="userSpaceOnUse" x1="0" y1="0" x2="0" y2="165.5"><stop offset="0" stop-color="#1c0000"/><stop offset="0.4" stop-color="#240000"/><stop offset="0.62" stop-color="#3d0000"/><stop offset="0.82" stop-color="#640000"/><stop offset="1" stop-color="#8a0000"/></linearGradient><linearGradient id="sg2_42_0_10" gradientUnits="userSpaceOnUse" x1="0" y1="0" x2="0" y2="165.5"><stop offset="0" stop-color="#006b00"/><stop offset="0.35" stop-color="#007500"/><stop offset="0.6" stop-color="#00b800"/><stop offset="0.85" stop-color="#00eb00"/><stop offset="1" stop-color="#00eb00"/></linearGradient><linearGradient id="hsg2_42_0_10" gradientUnits="userSpaceOnUse" x1="0" y1="0" x2="0" y2="165.5"><stop offset="0" stop-color="#004700"/><stop offset="0.35" stop-color="#004c00"/><stop offset="0.6" stop-color="#006f00"/><stop offset="0.85" stop-color="#008900"/><stop offset="1" stop-color="#008900"/></linearGradient><linearGradient id="gl2_42" gradientUnits="userSpaceOnUse" x1="0" y1="0" x2="0" y2="165.5"><stop offset="0" stop-color="#170000"/><stop offset="0.4" stop-color="#1e0000"/><stop offset="0.62" stop-color="#330000"/><stop offset="0.82" stop-color="#540000"/><stop offset="1" stop-color="#750000"/></linearGradient><linearGradient id="sg2_78_0_14" gradientUnits="userSpaceOnUse" x1="0" y1="0" x2="0" y2="165.5"><stop offset="0" stop-color="#00c700"/><stop offset="0.35" stop-color="#00d100"/><stop offset="0.6" stop-color="#00f200"/><stop offset="0.85" stop-color="#00f700"/><stop offset="1" stop-color="#00f700"/></linearGradient><linearGradient id="hsg2_78_0_14" gradientUnits="userSpaceOnUse" x1="0" y1="0" x2="0" y2="165.5"><stop offset="0" stop-color="#007700"/><stop offset="0.35" stop-color="#007c00"/><stop offset="0.6" stop-color="#008d00"/><stop offset="0.85" stop-color="#009000"/><stop offset="1" stop-color="#009000"/></linearGradient><linearGradient id="gl2_78" gradientUnits="userSpaceOnUse" x1="0" y1="0" x2="0" y2="165.5"><stop offset="0" stop-color="#1b0000"/><stop offset="0.4" stop-color="#230000"/><stop offset="0.62" stop-color="#3c0000"/><stop offset="0.82" stop-color="#610000"/><stop offset="1" stop-color="#870000"/></linearGradient><linearGradient id="sg2_46_0_10" gradientUnits="userSpaceOnUse" x1="0" y1="0" x2="0" y2="165.5"><stop offset="0" stop-color="#007500"/><stop offset="0.35" stop-color="#008000"/><stop offset="0.6" stop-color="#00c200"/><stop offset="0.85" stop-color="#00f500"/><stop offset="1" stop-color="#00f500"/></linearGradient><linearGradient id="hsg2_46_0_10" gradientUnits="userSpaceOnUse" x1="0" y1="0" x2="0" y2="165.5"><stop offset="0" stop-color="#004c00"/><stop offset="0.35" stop-color="#005200"/><stop offset="0.6" stop-color="#007400"/><stop offset="0.85" stop-color="#008f00"/><stop offset="1" stop-color="#008f00"/></linearGradient><linearGradient id="gl2_46" gradientUnits="userSpaceOnUse" x1="0" y1="0" x2="0" y2="165.5"><stop offset="0" stop-color="#180000"/><stop offset="0.4" stop-color="#1f0000"/><stop offset="0.62" stop-color="#340000"/><stop offset="0.82" stop-color="#560000"/><stop offset="1" stop-color="#770000"/></linearGradient><linearGradient id="sg2_26_0_10" gradientUnits="userSpaceOnUse" x1="0" y1="0" x2="0" y2="165.5"><stop offset="0" stop-color="#004200"/><stop offset="0.35" stop-color="#004c00"/><stop offset="0.6" stop-color="#008f00"/><stop offset="0.85" stop-color="#00c200"/><stop offset="1" stop-color="#00c200"/></linearGradient><linearGradient id="hsg2_26_0_10" gradientUnits="userSpaceOnUse" x1="0" y1="0" x2="0" y2="165.5"><stop offset="0" stop-color="#003200"/><stop offset="0.35" stop-color="#003700"/><stop offset="0.6" stop-color="#005a00"/><stop offset="0.85" stop-color="#007400"/><stop offset="1" stop-color="#007400"/></linearGradient><linearGradient id="gl2_26" gradientUnits="userSpaceOnUse" x1="0" y1="0" x2="0" y2="165.5"><stop offset="0" stop-color="#160000"/><stop offset="0.4" stop-color="#1c0000"/><stop offset="0.62" stop-color="#300000"/><stop offset="0.82" stop-color="#4e0000"/><stop offset="1" stop-color="#6d0000"/></linearGradient><linearGradient id="sg2_32_0_10" gradientUnits="userSpaceOnUse" x1="0" y1="0" x2="0" y2="165.5"><stop offset="0" stop-color="#005200"/><stop offset="0.35" stop-color="#005c00"/><stop offset="0.6" stop-color="#009e00"/><stop offset="0.85" stop-color="#00d100"/><stop offset="1" stop-color="#00d100"/></linearGradient><linearGradient id="hsg2_32_0_10" gradientUnits="userSpaceOnUse" x1="0" y1="0" x2="0" y2="165.5"><stop offset="0" stop-color="#003a00"/><stop offset="0.35" stop-color="#003f00"/><stop offset="0.6" stop-color="#006200"/><stop offset="0.85" stop-color="#007c00"/><stop offset="1" stop-color="#007c00"/></linearGradient><linearGradient id="gl2_32" gradientUnits="userSpaceOnUse" x1="0" y1="0" x2="0" y2="165.5"><stop offset="0" stop-color="#160000"/><stop offset="0.4" stop-color="#1d0000"/><stop offset="0.62" stop-color="#310000"/><stop offset="0.82" stop-color="#510000"/><stop offset="1" stop-color="#700000"/></linearGradient></defs>
<g filter="url(#f2)"><rect x="-4" y="-4" width="170.2" height="173.5" fill="url(#bg2)"/>
<rect x="-4" y="23.2" width="170.2" height="2" fill="#730000" style="mix-blend-mode:lighten"/>
<rect x="-4" y="29.5" width="170.2" height="1" fill="#420000" style="mix-blend-mode:lighten"/>
<polygon points="7.20,49.6 9.65,165.5 4.75,165.5" fill="url(#hl2_38)" style="mix-blend-mode:lighten"/>
<polygon points="11.70,49.6 14.50,165.5 8.90,165.5" fill="url(#hl2_52)" style="mix-blend-mode:lighten"/>
<polygon points="17.30,49.6 20.35,165.5 14.25,165.5" fill="url(#hl2_62)" style="mix-blend-mode:lighten"/>
<polygon points="22.10,49.6 25.40,165.5 18.80,165.5" fill="url(#hl2_72)" style="mix-blend-mode:lighten"/>
<polygon points="27.50,49.6 30.20,165.5 24.80,165.5" fill="url(#hl2_48)" style="mix-blend-mode:lighten"/>
<polygon points="33.60,49.6 36.05,165.5 31.15,165.5" fill="url(#hl2_38)" style="mix-blend-mode:lighten"/>
<polygon points="40.30,49.6 42.75,165.5 37.85,165.5" fill="url(#hl2_38)" style="mix-blend-mode:lighten"/>
<polygon points="43.30,49.6 46.35,165.5 40.25,165.5" fill="url(#hl2_62)" style="mix-blend-mode:lighten"/>
<polygon points="52.30,49.6 55.50,165.5 49.10,165.5" fill="url(#hl2_68)" style="mix-blend-mode:lighten"/>
<polygon points="62.50,49.6 65.60,165.5 59.40,165.5" fill="url(#hl2_64)" style="mix-blend-mode:lighten"/>
<polygon points="68.80,49.6 72.40,165.5 65.20,165.5" fill="url(#hl2_84)" style="mix-blend-mode:lighten"/>
<polygon points="73.40,49.6 76.10,165.5 70.70,165.5" fill="url(#hl2_48)" style="mix-blend-mode:lighten"/>
<polygon points="79.00,49.6 82.30,165.5 75.70,165.5" fill="url(#hl2_72)" style="mix-blend-mode:lighten"/>
<polygon points="84.10,49.6 87.70,165.5 80.50,165.5" fill="url(#hl2_84)" style="mix-blend-mode:lighten"/>
<polygon points="89.20,49.6 92.40,165.5 86.00,165.5" fill="url(#hl2_68)" style="mix-blend-mode:lighten"/>
<polygon points="93.20,49.6 96.25,165.5 90.15,165.5" fill="url(#hl2_62)" style="mix-blend-mode:lighten"/>
<polygon points="98.30,49.6 101.00,165.5 95.60,165.5" fill="url(#hl2_48)" style="mix-blend-mode:lighten"/>
<polygon points="109.20,49.6 111.75,165.5 106.65,165.5" fill="url(#hl2_42)" style="mix-blend-mode:lighten"/>
<polygon points="114.00,49.6 116.55,165.5 111.45,165.5" fill="url(#hl2_42)" style="mix-blend-mode:lighten"/>
<polygon points="117.80,49.6 121.25,165.5 114.35,165.5" fill="url(#hl2_78)" style="mix-blend-mode:lighten"/>
<polygon points="122.60,49.6 125.30,165.5 119.90,165.5" fill="url(#hl2_48)" style="mix-blend-mode:lighten"/>
<polygon points="128.50,49.6 131.20,165.5 125.80,165.5" fill="url(#hl2_48)" style="mix-blend-mode:lighten"/>
<polygon points="134.60,49.6 137.65,165.5 131.55,165.5" fill="url(#hl2_62)" style="mix-blend-mode:lighten"/>
<polygon points="138.70,49.6 141.25,165.5 136.15,165.5" fill="url(#hl2_42)" style="mix-blend-mode:lighten"/>
<polygon points="144.10,49.6 146.80,165.5 141.40,165.5" fill="url(#hl2_48)" style="mix-blend-mode:lighten"/>
<polygon points="149.50,49.6 152.15,165.5 146.85,165.5" fill="url(#hl2_46)" style="mix-blend-mode:lighten"/>
<polygon points="154.80,49.6 157.25,165.5 152.35,165.5" fill="url(#hl2_38)" style="mix-blend-mode:lighten"/>
<polygon points="159.60,49.6 162.15,165.5 157.05,165.5" fill="url(#hl2_42)" style="mix-blend-mode:lighten"/>
<polygon points="57.78,49.6 59.93,165.5 55.63,165.5" fill="url(#hl2_26)" style="mix-blend-mode:lighten"/>
<polygon points="103.51,49.6 105.81,165.5 101.21,165.5" fill="url(#hl2_32)" style="mix-blend-mode:lighten"/>
<rect x="5.60" y="-4" width="3.20" height="173.5" fill="url(#gl2_38)" style="mix-blend-mode:lighten"/>
<polygon points="6.30,-4 8.10,-4 8.10,82.8 8.65,169.5 5.75,169.5 6.30,82.8" fill="url(#hsg2_38_0_10)" style="mix-blend-mode:lighten"/>
<polygon points="6.70,-4 7.70,-4 7.70,82.8 8.00,169.5 6.40,169.5 6.70,82.8" fill="url(#sg2_38_0_10)" style="mix-blend-mode:lighten"/>
<rect x="10.00" y="-4" width="3.40" height="173.5" fill="url(#gl2_52)" style="mix-blend-mode:lighten"/>
<polygon points="10.55,-4 12.85,-4 12.85,82.8 13.25,169.5 10.15,169.5 10.55,82.8" fill="url(#hsg2_52_0_12)" style="mix-blend-mode:lighten"/>
<polygon points="11.10,-4 12.30,-4 12.30,82.8 12.60,169.5 10.80,169.5 11.10,82.8" fill="url(#sg2_52_0_12)" style="mix-blend-mode:lighten"/>
<rect x="15.60" y="-4" width="3.40" height="173.5" fill="url(#gl2_62)" style="mix-blend-mode:lighten"/>
<polygon points="16.15,-4 18.45,-4 18.45,82.8 18.85,169.5 15.75,169.5 16.15,82.8" fill="url(#hsg2_62_0_12)" style="mix-blend-mode:lighten"/>
<polygon points="16.70,-4 17.90,-4 17.90,82.8 18.20,169.5 16.40,169.5 16.70,82.8" fill="url(#sg2_62_0_12)" style="mix-blend-mode:lighten"/>
<rect x="20.40" y="-4" width="3.40" height="173.5" fill="url(#gl2_72)" style="mix-blend-mode:lighten"/>
<polygon points="20.95,-4 23.25,-4 23.25,82.8 23.65,169.5 20.55,169.5 20.95,82.8" fill="url(#hsg2_72_0_12)" style="mix-blend-mode:lighten"/>
<polygon points="21.50,-4 22.70,-4 22.70,82.8 23.00,169.5 21.20,169.5 21.50,82.8" fill="url(#sg2_72_0_12)" style="mix-blend-mode:lighten"/>
<rect x="25.90" y="-4" width="3.20" height="173.5" fill="url(#gl2_48)" style="mix-blend-mode:lighten"/>
<polygon points="26.60,-4 28.40,-4 28.40,82.8 28.95,169.5 26.05,169.5 26.60,82.8" fill="url(#hsg2_48_0_10)" style="mix-blend-mode:lighten"/>
<polygon points="27.00,-4 28.00,-4 28.00,82.8 28.30,169.5 26.70,169.5 27.00,82.8" fill="url(#sg2_48_0_10)" style="mix-blend-mode:lighten"/>
<rect x="32.00" y="-4" width="3.20" height="173.5" fill="url(#gl2_38)" style="mix-blend-mode:lighten"/>
<polygon points="32.70,-4 34.50,-4 34.50,82.8 35.05,169.5 32.15,169.5 32.70,82.8" fill="url(#hsg2_38_0_10)" style="mix-blend-mode:lighten"/>
<polygon points="33.10,-4 34.10,-4 34.10,82.8 34.40,169.5 32.80,169.5 33.10,82.8" fill="url(#sg2_38_0_10)" style="mix-blend-mode:lighten"/>
<rect x="38.70" y="-4" width="3.20" height="173.5" fill="url(#gl2_38)" style="mix-blend-mode:lighten"/>
<polygon points="39.40,-4 41.20,-4 41.20,82.8 41.75,169.5 38.85,169.5 39.40,82.8" fill="url(#hsg2_38_0_10)" style="mix-blend-mode:lighten"/>
<polygon points="39.80,-4 40.80,-4 40.80,82.8 41.10,169.5 39.50,169.5 39.80,82.8" fill="url(#sg2_38_0_10)" style="mix-blend-mode:lighten"/>
<rect x="41.60" y="-4" width="3.40" height="173.5" fill="url(#gl2_62)" style="mix-blend-mode:lighten"/>
<polygon points="42.15,-4 44.45,-4 44.45,82.8 44.85,169.5 41.75,169.5 42.15,82.8" fill="url(#hsg2_62_0_12)" style="mix-blend-mode:lighten"/>
<polygon points="42.70,-4 43.90,-4 43.90,82.8 44.20,169.5 42.40,169.5 42.70,82.8" fill="url(#sg2_62_0_12)" style="mix-blend-mode:lighten"/>
<rect x="50.60" y="-4" width="3.40" height="173.5" fill="url(#gl2_68)" style="mix-blend-mode:lighten"/>
<polygon points="51.15,-4 53.45,-4 53.45,82.8 53.85,169.5 50.75,169.5 51.15,82.8" fill="url(#hsg2_68_0_12)" style="mix-blend-mode:lighten"/>
<polygon points="51.70,-4 52.90,-4 52.90,82.8 53.20,169.5 51.40,169.5 51.70,82.8" fill="url(#sg2_68_0_12)" style="mix-blend-mode:lighten"/>
<rect x="60.80" y="-4" width="3.40" height="173.5" fill="url(#gl2_64)" style="mix-blend-mode:lighten"/>
<polygon points="61.35,-4 63.65,-4 63.65,82.8 64.05,169.5 60.95,169.5 61.35,82.8" fill="url(#hsg2_64_0_12)" style="mix-blend-mode:lighten"/>
<polygon points="61.90,-4 63.10,-4 63.10,82.8 63.40,169.5 61.60,169.5 61.90,82.8" fill="url(#sg2_64_0_12)" style="mix-blend-mode:lighten"/>
<rect x="66.97" y="-4" width="3.65" height="173.5" fill="url(#gl2_84)" style="mix-blend-mode:lighten"/>
<polygon points="67.52,-4 70.08,-4 70.08,82.8 70.47,169.5 67.12,169.5 67.52,82.8" fill="url(#hsg2_84_0_14)" style="mix-blend-mode:lighten"/>
<polygon points="68.08,-4 69.52,-4 69.52,82.8 69.83,169.5 67.77,169.5 68.08,82.8" fill="url(#sg2_84_0_14)" style="mix-blend-mode:lighten"/>
<rect x="71.80" y="-4" width="3.20" height="173.5" fill="url(#gl2_48)" style="mix-blend-mode:lighten"/>
<polygon points="72.50,-4 74.30,-4 74.30,82.8 74.85,169.5 71.95,169.5 72.50,82.8" fill="url(#hsg2_48_0_10)" style="mix-blend-mode:lighten"/>
<polygon points="72.90,-4 73.90,-4 73.90,82.8 74.20,169.5 72.60,169.5 72.90,82.8" fill="url(#sg2_48_0_10)" style="mix-blend-mode:lighten"/>
<rect x="77.30" y="-4" width="3.40" height="173.5" fill="url(#gl2_72)" style="mix-blend-mode:lighten"/>
<polygon points="77.85,-4 80.15,-4 80.15,82.8 80.55,169.5 77.45,169.5 77.85,82.8" fill="url(#hsg2_72_0_12)" style="mix-blend-mode:lighten"/>
<polygon points="78.40,-4 79.60,-4 79.60,82.8 79.90,169.5 78.10,169.5 78.40,82.8" fill="url(#sg2_72_0_12)" style="mix-blend-mode:lighten"/>
<rect x="82.27" y="-4" width="3.65" height="173.5" fill="url(#gl2_84)" style="mix-blend-mode:lighten"/>
<polygon points="82.82,-4 85.38,-4 85.38,82.8 85.77,169.5 82.42,169.5 82.82,82.8" fill="url(#hsg2_84_0_14)" style="mix-blend-mode:lighten"/>
<polygon points="83.38,-4 84.82,-4 84.82,82.8 85.12,169.5 83.07,169.5 83.38,82.8" fill="url(#sg2_84_0_14)" style="mix-blend-mode:lighten"/>
<rect x="87.50" y="-4" width="3.40" height="173.5" fill="url(#gl2_68)" style="mix-blend-mode:lighten"/>
<polygon points="88.05,-4 90.35,-4 90.35,82.8 90.75,169.5 87.65,169.5 88.05,82.8" fill="url(#hsg2_68_0_12)" style="mix-blend-mode:lighten"/>
<polygon points="88.60,-4 89.80,-4 89.80,82.8 90.10,169.5 88.30,169.5 88.60,82.8" fill="url(#sg2_68_0_12)" style="mix-blend-mode:lighten"/>
<rect x="91.50" y="-4" width="3.40" height="173.5" fill="url(#gl2_62)" style="mix-blend-mode:lighten"/>
<polygon points="92.05,-4 94.35,-4 94.35,82.8 94.75,169.5 91.65,169.5 92.05,82.8" fill="url(#hsg2_62_0_12)" style="mix-blend-mode:lighten"/>
<polygon points="92.60,-4 93.80,-4 93.80,82.8 94.10,169.5 92.30,169.5 92.60,82.8" fill="url(#sg2_62_0_12)" style="mix-blend-mode:lighten"/>
<rect x="96.70" y="-4" width="3.20" height="173.5" fill="url(#gl2_48)" style="mix-blend-mode:lighten"/>
<polygon points="97.40,-4 99.20,-4 99.20,82.8 99.75,169.5 96.85,169.5 97.40,82.8" fill="url(#hsg2_48_0_10)" style="mix-blend-mode:lighten"/>
<polygon points="97.80,-4 98.80,-4 98.80,82.8 99.10,169.5 97.50,169.5 97.80,82.8" fill="url(#sg2_48_0_10)" style="mix-blend-mode:lighten"/>
<rect x="107.60" y="-4" width="3.20" height="173.5" fill="url(#gl2_42)" style="mix-blend-mode:lighten"/>
<polygon points="108.30,-4 110.10,-4 110.10,82.8 110.65,169.5 107.75,169.5 108.30,82.8" fill="url(#hsg2_42_0_10)" style="mix-blend-mode:lighten"/>
<polygon points="108.70,-4 109.70,-4 109.70,82.8 110.00,169.5 108.40,169.5 108.70,82.8" fill="url(#sg2_42_0_10)" style="mix-blend-mode:lighten"/>
<rect x="112.40" y="-4" width="3.20" height="173.5" fill="url(#gl2_42)" style="mix-blend-mode:lighten"/>
<polygon points="113.10,-4 114.90,-4 114.90,82.8 115.45,169.5 112.55,169.5 113.10,82.8" fill="url(#hsg2_42_0_10)" style="mix-blend-mode:lighten"/>
<polygon points="113.50,-4 114.50,-4 114.50,82.8 114.80,169.5 113.20,169.5 113.50,82.8" fill="url(#sg2_42_0_10)" style="mix-blend-mode:lighten"/>
<rect x="115.98" y="-4" width="3.65" height="173.5" fill="url(#gl2_78)" style="mix-blend-mode:lighten"/>
<polygon points="116.53,-4 119.08,-4 119.08,82.8 119.48,169.5 116.13,169.5 116.53,82.8" fill="url(#hsg2_78_0_14)" style="mix-blend-mode:lighten"/>
<polygon points="117.08,-4 118.53,-4 118.53,82.8 118.83,169.5 116.78,169.5 117.08,82.8" fill="url(#sg2_78_0_14)" style="mix-blend-mode:lighten"/>
<rect x="121.00" y="-4" width="3.20" height="173.5" fill="url(#gl2_48)" style="mix-blend-mode:lighten"/>
<polygon points="121.70,-4 123.50,-4 123.50,82.8 124.05,169.5 121.15,169.5 121.70,82.8" fill="url(#hsg2_48_0_10)" style="mix-blend-mode:lighten"/>
<polygon points="122.10,-4 123.10,-4 123.10,82.8 123.40,169.5 121.80,169.5 122.10,82.8" fill="url(#sg2_48_0_10)" style="mix-blend-mode:lighten"/>
<rect x="126.90" y="-4" width="3.20" height="173.5" fill="url(#gl2_48)" style="mix-blend-mode:lighten"/>
<polygon points="127.60,-4 129.40,-4 129.40,82.8 129.95,169.5 127.05,169.5 127.60,82.8" fill="url(#hsg2_48_0_10)" style="mix-blend-mode:lighten"/>
<polygon points="128.00,-4 129.00,-4 129.00,82.8 129.30,169.5 127.70,169.5 128.00,82.8" fill="url(#sg2_48_0_10)" style="mix-blend-mode:lighten"/>
<rect x="132.90" y="-4" width="3.40" height="173.5" fill="url(#gl2_62)" style="mix-blend-mode:lighten"/>
<polygon points="133.45,-4 135.75,-4 135.75,82.8 136.15,169.5 133.05,169.5 133.45,82.8" fill="url(#hsg2_62_0_12)" style="mix-blend-mode:lighten"/>
<polygon points="134.00,-4 135.20,-4 135.20,82.8 135.50,169.5 133.70,169.5 134.00,82.8" fill="url(#sg2_62_0_12)" style="mix-blend-mode:lighten"/>
<rect x="137.10" y="-4" width="3.20" height="173.5" fill="url(#gl2_42)" style="mix-blend-mode:lighten"/>
<polygon points="137.80,-4 139.60,-4 139.60,82.8 140.15,169.5 137.25,169.5 137.80,82.8" fill="url(#hsg2_42_0_10)" style="mix-blend-mode:lighten"/>
<polygon points="138.20,-4 139.20,-4 139.20,82.8 139.50,169.5 137.90,169.5 138.20,82.8" fill="url(#sg2_42_0_10)" style="mix-blend-mode:lighten"/>
<rect x="142.50" y="-4" width="3.20" height="173.5" fill="url(#gl2_48)" style="mix-blend-mode:lighten"/>
<polygon points="143.20,-4 145.00,-4 145.00,82.8 145.55,169.5 142.65,169.5 143.20,82.8" fill="url(#hsg2_48_0_10)" style="mix-blend-mode:lighten"/>
<polygon points="143.60,-4 144.60,-4 144.60,82.8 144.90,169.5 143.30,169.5 143.60,82.8" fill="url(#sg2_48_0_10)" style="mix-blend-mode:lighten"/>
<rect x="147.90" y="-4" width="3.20" height="173.5" fill="url(#gl2_46)" style="mix-blend-mode:lighten"/>
<polygon points="148.60,-4 150.40,-4 150.40,82.8 150.95,169.5 148.05,169.5 148.60,82.8" fill="url(#hsg2_46_0_10)" style="mix-blend-mode:lighten"/>
<polygon points="149.00,-4 150.00,-4 150.00,82.8 150.30,169.5 148.70,169.5 149.00,82.8" fill="url(#sg2_46_0_10)" style="mix-blend-mode:lighten"/>
<rect x="153.20" y="-4" width="3.20" height="173.5" fill="url(#gl2_38)" style="mix-blend-mode:lighten"/>
<polygon points="153.90,-4 155.70,-4 155.70,82.8 156.25,169.5 153.35,169.5 153.90,82.8" fill="url(#hsg2_38_0_10)" style="mix-blend-mode:lighten"/>
<polygon points="154.30,-4 155.30,-4 155.30,82.8 155.60,169.5 154.00,169.5 154.30,82.8" fill="url(#sg2_38_0_10)" style="mix-blend-mode:lighten"/>
<rect x="158.00" y="-4" width="3.20" height="173.5" fill="url(#gl2_42)" style="mix-blend-mode:lighten"/>
<polygon points="158.70,-4 160.50,-4 160.50,82.8 161.05,169.5 158.15,169.5 158.70,82.8" fill="url(#hsg2_42_0_10)" style="mix-blend-mode:lighten"/>
<polygon points="159.10,-4 160.10,-4 160.10,82.8 160.40,169.5 158.80,169.5 159.10,82.8" fill="url(#sg2_42_0_10)" style="mix-blend-mode:lighten"/>
<rect x="56.18" y="-4" width="3.20" height="173.5" fill="url(#gl2_26)" style="mix-blend-mode:lighten"/>
<polygon points="57.28,-4 58.28,-4 58.28,82.8 58.58,169.5 56.98,169.5 57.28,82.8" fill="url(#sg2_26_0_10)" style="mix-blend-mode:lighten"/>
<rect x="101.91" y="-4" width="3.20" height="173.5" fill="url(#gl2_32)" style="mix-blend-mode:lighten"/>
<polygon points="103.01,-4 104.01,-4 104.01,82.8 104.31,169.5 102.71,169.5 103.01,82.8" fill="url(#sg2_32_0_10)" style="mix-blend-mode:lighten"/>
<polygon points="-4,169.5 -4.0,152.8 -3.0,152.8 -3.0,153.4 -2.0,153.4 -2.0,155.2 -1.0,155.2 -1.0,152.9 0.0,152.9 0.0,153.1 1.0,153.1 1.0,153.5 2.0,153.5 2.0,151.5 3.0,151.5 3.0,153.1 4.0,153.1 4.0,153.7 5.0,153.7 5.0,154.6 6.0,154.6 6.0,151.1 7.0,151.1 7.0,152.1 8.0,152.1 8.0,151.0 9.0,151.0 9.0,154.6 10.0,154.6 10.0,154.1 11.0,154.1 11.0,150.8 12.0,150.8 12.0,155.5 13.0,155.5 13.0,155.4 14.0,155.4 14.0,153.9 15.0,153.9 15.0,153.7 16.0,153.7 16.0,151.4 17.0,151.4 17.0,150.7 18.0,150.7 18.0,153.2 19.0,153.2 19.0,150.9 20.0,150.9 20.0,151.5 21.0,151.5 21.0,151.8 22.0,151.8 22.0,150.7 23.0,150.7 23.0,152.9 24.0,152.9 24.0,152.8 25.0,152.8 25.0,154.8 26.0,154.8 26.0,153.2 27.0,153.2 27.0,153.8 28.0,153.8 28.0,153.1 29.0,153.1 29.0,153.9 30.0,153.9 30.0,152.9 31.0,152.9 31.0,152.0 32.0,152.0 32.0,155.6 33.0,155.6 33.0,155.6 34.0,155.6 34.0,154.8 35.0,154.8 35.0,154.1 36.0,154.1 36.0,152.2 37.0,152.2 37.0,151.7 38.0,151.7 38.0,152.0 39.0,152.0 39.0,150.9 40.0,150.9 40.0,154.4 41.0,154.4 41.0,152.6 42.0,152.6 42.0,154.8 43.0,154.8 43.0,152.5 44.0,152.5 44.0,155.4 45.0,155.4 45.0,154.8 46.0,154.8 46.0,150.6 47.0,150.6 47.0,151.6 48.0,151.6 48.0,155.1 49.0,155.1 49.0,152.9 50.0,152.9 50.0,155.5 51.0,155.5 51.0,152.6 52.0,152.6 52.0,151.0 53.0,151.0 53.0,153.7 54.0,153.7 54.0,154.5 55.0,154.5 55.0,151.9 56.0,151.9 56.0,151.0 57.0,151.0 57.0,152.3 58.0,152.3 58.0,155.4 59.0,155.4 59.0,154.4 60.0,154.4 60.0,151.2 61.0,151.2 61.0,151.8 62.0,151.8 62.0,151.1 63.0,151.1 63.0,150.9 64.0,150.9 64.0,154.6 65.0,154.6 65.0,151.5 66.0,151.5 66.0,153.4 67.0,153.4 67.0,152.8 68.0,152.8 68.0,151.5 69.0,151.5 69.0,154.2 70.0,154.2 70.0,151.2 71.0,151.2 71.0,153.8 72.0,153.8 72.0,151.2 73.0,151.2 73.0,152.7 74.0,152.7 74.0,151.7 75.0,151.7 75.0,151.9 76.0,151.9 76.0,155.4 77.0,155.4 77.0,154.6 78.0,154.6 78.0,152.1 79.0,152.1 79.0,155.0 80.0,155.0 80.0,151.6 81.0,151.6 81.0,152.6 82.0,152.6 82.0,154.9 83.0,154.9 83.0,153.8 84.0,153.8 84.0,151.1 85.0,151.1 85.0,155.5 86.0,155.5 86.0,151.7 87.0,151.7 87.0,151.9 88.0,151.9 88.0,154.5 89.0,154.5 89.0,152.2 90.0,152.2 90.0,152.1 91.0,152.1 91.0,151.0 92.0,151.0 92.0,151.0 93.0,151.0 93.0,153.5 94.0,153.5 94.0,151.8 95.0,151.8 95.0,153.6 96.0,153.6 96.0,152.4 97.0,152.4 97.0,152.9 98.0,152.9 98.0,155.4 99.0,155.4 99.0,153.0 100.0,153.0 100.0,153.5 101.0,153.5 101.0,154.9 102.0,154.9 102.0,151.5 103.0,151.5 103.0,151.4 104.0,151.4 104.0,155.1 105.0,155.1 105.0,154.7 106.0,154.7 106.0,151.8 107.0,151.8 107.0,151.5 108.0,151.5 108.0,154.3 109.0,154.3 109.0,155.3 110.0,155.3 110.0,151.6 111.0,151.6 111.0,155.3 112.0,155.3 112.0,155.0 113.0,155.0 113.0,153.6 114.0,153.6 114.0,152.7 115.0,152.7 115.0,151.1 116.0,151.1 116.0,150.8 117.0,150.8 117.0,155.4 118.0,155.4 118.0,151.8 119.0,151.8 119.0,154.1 120.0,154.1 120.0,151.9 121.0,151.9 121.0,154.7 122.0,154.7 122.0,153.6 123.0,153.6 123.0,152.1 124.0,152.1 124.0,151.5 125.0,151.5 125.0,154.2 126.0,154.2 126.0,150.9 127.0,150.9 127.0,151.7 128.0,151.7 128.0,153.4 129.0,153.4 129.0,154.8 130.0,154.8 130.0,153.7 131.0,153.7 131.0,152.0 132.0,152.0 132.0,155.2 133.0,155.2 133.0,151.6 134.0,151.6 134.0,150.7 135.0,150.7 135.0,151.9 136.0,151.9 136.0,152.8 137.0,152.8 137.0,150.9 138.0,150.9 138.0,151.5 139.0,151.5 139.0,152.4 140.0,152.4 140.0,153.4 141.0,153.4 141.0,151.2 142.0,151.2 142.0,152.4 143.0,152.4 143.0,155.0 144.0,155.0 144.0,155.5 145.0,155.5 145.0,153.9 146.0,153.9 146.0,154.0 147.0,154.0 147.0,153.5 148.0,153.5 148.0,151.3 149.0,151.3 149.0,150.8 150.0,150.8 150.0,150.7 151.0,150.7 151.0,155.1 152.0,155.1 152.0,154.1 153.0,154.1 153.0,155.4 154.0,155.4 154.0,150.7 155.0,150.7 155.0,153.8 156.0,153.8 156.0,153.0 157.0,153.0 157.0,154.2 158.0,154.2 158.0,152.2 159.0,152.2 159.0,155.6 160.0,155.6 160.0,151.0 161.0,151.0 161.0,153.3 162.0,153.3 162.0,154.3 163.0,154.3 163.0,155.1 164.0,155.1 164.0,154.3 165.0,154.3 165.0,154.1 166.0,154.1 166.0,154.6 167.0,154.6 166.2,169.5" fill="#00ff00" style="mix-blend-mode:lighten"/></g>
</svg>
<svg class="sp" style="left:322.90px;top:217.00px" width="162.2" height="165.5" viewBox="0 0 162.2 165.5">
<defs><linearGradient id="bg3" gradientUnits="userSpaceOnUse" x1="0" y1="0" x2="0" y2="165.5"><stop offset="0.0000" stop-color="#6b0000"/><stop offset="0.0110" stop-color="#6b0000"/><stop offset="0.0160" stop-color="#130000"/><stop offset="0.4500" stop-color="#160000"/><stop offset="0.6000" stop-color="#240000"/><stop offset="0.7000" stop-color="#380000"/><stop offset="0.7800" stop-color="#4a0000"/><stop offset="0.8160" stop-color="#630000"/><stop offset="0.8520" stop-color="#8a0000"/><stop offset="0.8820" stop-color="#a60000"/><stop offset="0.9060" stop-color="#bf0000"/><stop offset="0.9370" stop-color="#d40000"/><stop offset="1.0000" stop-color="#e00000"/></linearGradient><filter id="f3" filterUnits="userSpaceOnUse" x="-4" y="-4" width="170.2" height="173.5" color-interpolation-filters="sRGB">
<feColorMatrix in="SourceGraphic" type="matrix" values="1 0 0 0 0 1 0 0 0 0 1 0 0 0 0 0 0 0 0 1" result="bg"/>
<feColorMatrix in="SourceGraphic" type="matrix" values="0 1 0 0 0 0 1 0 0 0 0 1 0 0 0 0 0 0 0 1" result="st"/>

<feTurbulence type="fractalNoise" baseFrequency="0.5 0.22" numOctaves="2" seed="19" result="t"/>
<feColorMatrix in="t" type="matrix" values="1 0 0 0 0 1 0 0 0 0 1 0 0 0 0 0 0 0 0 1" result="n"/>
<feComposite in="bg" in2="n" operator="arithmetic" k1="0.9" k2="0.55" k3="0.42" k4="-0.21" result="bgn"/>
<feBlend in="bgn" in2="st" mode="lighten" result="v"/>
<feComponentTransfer in="v"><feFuncR type="table" tableValues="0.000 0.000 0.000 0.000 0.000 0.000 0.000 0.000 0.000 0.000 0.000 0.000 0.000 0.000 0.000 0.000 0.000 0.000 0.000 0.000 0.000 0.000 0.000 0.035 0.085 0.136 0.187 0.237 0.288 0.338 0.389 0.440 0.490 0.541 0.591 0.642 0.693 0.743 0.794 0.844 0.895 0.946 0.996 1.000 1.000 1.000 1.000 1.000 1.000 1.000 1.000 1.000 1.000 1.000 1.000 1.000 1.000 0.959 0.917 0.876 0.835 0.794 0.752 0.711 0.670"/><feFuncG type="table" tableValues="0.000 0.000 0.000 0.000 0.000 0.000 0.000 0.000 0.002 0.065 0.127 0.190 0.253 0.316 0.378 0.441 0.504 0.567 0.629 0.692 0.755 0.818 0.880 0.943 1.000 1.000 1.000 1.000 1.000 1.000 1.000 1.000 1.000 1.000 1.000 1.000 1.000 1.000 1.000 1.000 1.000 0.988 0.930 0.872 0.814 0.756 0.698 0.640 0.582 0.524 0.466 0.407 0.349 0.291 0.233 0.175 0.117 0.059 0.001 0.000 0.000 0.000 0.000 0.000 0.000"/><feFuncB type="table" tableValues="0.500 0.571 0.643 0.714 0.785 0.857 0.928 0.999 1.000 1.000 1.000 1.000 1.000 1.000 1.000 1.000 1.000 1.000 1.000 1.000 1.000 1.000 0.984 0.933 0.882 0.832 0.781 0.731 0.680 0.629 0.579 0.528 0.478 0.427 0.376 0.326 0.275 0.225 0.174 0.123 0.073 0.022 0.000 0.000 0.000 0.000 0.000 0.000 0.000 0.000 0.000 0.000 0.000 0.000 0.000 0.000 0.000 0.000 0.000 0.000 0.000 0.000 0.000 0.000 0.000"/><feFuncA type="linear" slope="0" intercept="1"/></feComponentTransfer>
</filter><linearGradient id="bp3_0_0" gradientUnits="userSpaceOnUse" x1="0" y1="120.3" x2="0" y2="156.5"><stop offset="0" stop-color="#000"/><stop offset="0.5" stop-color="#4f0000"/><stop offset="1" stop-color="#6b0000"/></linearGradient><linearGradient id="bp3_0_1" gradientUnits="userSpaceOnUse" x1="0" y1="116.3" x2="0" y2="153.3"><stop offset="0" stop-color="#000"/><stop offset="0.5" stop-color="#580000"/><stop offset="1" stop-color="#7c0000"/></linearGradient><linearGradient id="bp3_0_2" gradientUnits="userSpaceOnUse" x1="0" y1="113.8" x2="0" y2="151.3"><stop offset="0" stop-color="#000"/><stop offset="0.5" stop-color="#5d0000"/><stop offset="1" stop-color="#870000"/></linearGradient><linearGradient id="bp3_0_3" gradientUnits="userSpaceOnUse" x1="0" y1="111.9" x2="0" y2="149.8"><stop offset="0" stop-color="#000"/><stop offset="0.5" stop-color="#610000"/><stop offset="1" stop-color="#8f0000"/></linearGradient><linearGradient id="bp3_0_4" gradientUnits="userSpaceOnUse" x1="0" y1="110.3" x2="0" y2="148.5"><stop offset="0" stop-color="#000"/><stop offset="0.5" stop-color="#650000"/><stop offset="1" stop-color="#960000"/></linearGradient><linearGradient id="bp3_0_5" gradientUnits="userSpaceOnUse" x1="0" y1="109.0" x2="0" y2="147.5"><stop offset="0" stop-color="#000"/><stop offset="0.5" stop-color="#670000"/><stop offset="1" stop-color="#9c0000"/></linearGradient><linearGradient id="bp3_0_6" gradientUnits="userSpaceOnUse" x1="0" y1="107.9" x2="0" y2="146.5"><stop offset="0" stop-color="#000"/><stop offset="0.5" stop-color="#6a0000"/><stop offset="1" stop-color="#a10000"/></linearGradient><linearGradient id="bp3_0_7" gradientUnits="userSpaceOnUse" x1="0" y1="106.9" x2="0" y2="145.7"><stop offset="0" stop-color="#000"/><stop offset="0.5" stop-color="#6c0000"/><stop offset="1" stop-color="#a50000"/></linearGradient><linearGradient id="bp3_0_8" gradientUnits="userSpaceOnUse" x1="0" y1="106.0" x2="0" y2="145.1"><stop offset="0" stop-color="#000"/><stop offset="0.5" stop-color="#6e0000"/><stop offset="1" stop-color="#a90000"/></linearGradient><linearGradient id="bp3_0_9" gradientUnits="userSpaceOnUse" x1="0" y1="105.3" x2="0" y2="144.5"><stop offset="0" stop-color="#000"/><stop offset="0.5" stop-color="#700000"/><stop offset="1" stop-color="#ac0000"/></linearGradient><linearGradient id="bp3_0_10" gradientUnits="userSpaceOnUse" x1="0" y1="104.6" x2="0" y2="143.9"><stop offset="0" stop-color="#000"/><stop offset="0.5" stop-color="#710000"/><stop offset="1" stop-color="#af0000"/></linearGradient><linearGradient id="bp3_0_11" gradientUnits="userSpaceOnUse" x1="0" y1="104.1" x2="0" y2="143.5"><stop offset="0" stop-color="#000"/><stop offset="0.5" stop-color="#720000"/><stop offset="1" stop-color="#b10000"/></linearGradient><linearGradient id="bp3_0_12" gradientUnits="userSpaceOnUse" x1="0" y1="103.6" x2="0" y2="143.1"><stop offset="0" stop-color="#000"/><stop offset="0.5" stop-color="#730000"/><stop offset="1" stop-color="#b30000"/></linearGradient><linearGradient id="bp3_0_13" gradientUnits="userSpaceOnUse" x1="0" y1="103.3" x2="0" y2="142.8"><stop offset="0" stop-color="#000"/><stop offset="0.5" stop-color="#740000"/><stop offset="1" stop-color="#b50000"/></linearGradient><linearGradient id="bp3_0_14" gradientUnits="userSpaceOnUse" x1="0" y1="103.0" x2="0" y2="142.6"><stop offset="0" stop-color="#000"/><stop offset="0.5" stop-color="#750000"/><stop offset="1" stop-color="#b60000"/></linearGradient><linearGradient id="bp3_0_15" gradientUnits="userSpaceOnUse" x1="0" y1="102.8" x2="0" y2="142.5"><stop offset="0" stop-color="#000"/><stop offset="0.5" stop-color="#750000"/><stop offset="1" stop-color="#b70000"/></linearGradient><linearGradient id="bp3_0_16" gradientUnits="userSpaceOnUse" x1="0" y1="102.7" x2="0" y2="142.4"><stop offset="0" stop-color="#000"/><stop offset="0.5" stop-color="#750000"/><stop offset="1" stop-color="#b70000"/></linearGradient><linearGradient id="bp3_0_17" gradientUnits="userSpaceOnUse" x1="0" y1="102.6" x2="0" y2="142.3"><stop offset="0" stop-color="#000"/><stop offset="0.5" stop-color="#750000"/><stop offset="1" stop-color="#b80000"/></linearGradient><linearGradient id="bp3_0_18" gradientUnits="userSpaceOnUse" x1="0" y1="102.7" x2="0" y2="142.4"><stop offset="0" stop-color="#000"/><stop offset="0.5" stop-color="#750000"/><stop offset="1" stop-color="#b70000"/></linearGradient><linearGradient id="bp3_0_19" gradientUnits="userSpaceOnUse" x1="0" y1="102.8" x2="0" y2="142.5"><stop offset="0" stop-color="#000"/><stop offset="0.5" stop-color="#750000"/><stop offset="1" stop-color="#b70000"/></linearGradient><linearGradient id="bp3_0_20" gradientUnits="userSpaceOnUse" x1="0" y1="103.0" x2="0" y2="142.6"><stop offset="0" stop-color="#000"/><stop offset="0.5" stop-color="#750000"/><stop offset="1" stop-color="#b60000"/></linearGradient><linearGradient id="bp3_0_21" gradientUnits="userSpaceOnUse" x1="0" y1="103.3" x2="0" y2="142.8"><stop offset="0" stop-color="#000"/><stop offset="0.5" stop-color="#740000"/><stop offset="1" stop-color="#b50000"/></linearGradient><linearGradient id="bp3_0_22" gradientUnits="userSpaceOnUse" x1="0" y1="103.6" x2="0" y2="143.1"><stop offset="0" stop-color="#000"/><stop offset="0.5" stop-color="#730000"/><stop offset="1" stop-color="#b30000"/></linearGradient><linearGradient id="bp3_0_23" gradientUnits="userSpaceOnUse" x1="0" y1="104.1" x2="0" y2="143.5"><stop offset="0" stop-color="#000"/><stop offset="0.5" stop-color="#720000"/><stop offset="1" stop-color="#b10000"/></linearGradient><linearGradient id="bp3_0_24" gradientUnits="userSpaceOnUse" x1="0" y1="104.6" x2="0" y2="143.9"><stop offset="0" stop-color="#000"/><stop offset="0.5" stop-color="#710000"/><stop offset="1" stop-color="#af0000"/></linearGradient><linearGradient id="bp3_0_25" gradientUnits="userSpaceOnUse" x1="0" y1="105.3" x2="0" y2="144.5"><stop offset="0" stop-color="#000"/><stop offset="0.5" stop-color="#700000"/><stop offset="1" stop-color="#ac0000"/></linearGradient><linearGradient id="bp3_0_26" gradientUnits="userSpaceOnUse" x1="0" y1="106.0" x2="0" y2="145.1"><stop offset="0" stop-color="#000"/><stop offset="0.5" stop-color="#6e0000"/><stop offset="1" stop-color="#a90000"/></linearGradient><linearGradient id="bp3_0_27" gradientUnits="userSpaceOnUse" x1="0" y1="106.9" x2="0" y2="145.7"><stop offset="0" stop-color="#000"/><stop offset="0.5" stop-color="#6c0000"/><stop offset="1" stop-color="#a50000"/></linearGradient><linearGradient id="bp3_0_28" gradientUnits="userSpaceOnUse" x1="0" y1="107.9" x2="0" y2="146.5"><stop offset="0" stop-color="#000"/><stop offset="0.5" stop-color="#6a0000"/><stop offset="1" stop-color="#a10000"/></linearGradient><linearGradient id="bp3_0_29" gradientUnits="userSpaceOnUse" x1="0" y1="109.0" x2="0" y2="147.5"><stop offset="0" stop-color="#000"/><stop offset="0.5" stop-color="#670000"/><stop offset="1" stop-color="#9c0000"/></linearGradient><linearGradient id="bp3_0_30" gradientUnits="userSpaceOnUse" x1="0" y1="110.3" x2="0" y2="148.5"><stop offset="0" stop-color="#000"/><stop offset="0.5" stop-color="#650000"/><stop offset="1" stop-color="#960000"/></linearGradient><linearGradient id="bp3_0_31" gradientUnits="userSpaceOnUse" x1="0" y1="111.9" x2="0" y2="149.8"><stop offset="0" stop-color="#000"/><stop offset="0.5" stop-color="#610000"/><stop offset="1" stop-color="#8f0000"/></linearGradient><linearGradient id="bp3_0_32" gradientUnits="userSpaceOnUse" x1="0" y1="113.8" x2="0" y2="151.3"><stop offset="0" stop-color="#000"/><stop offset="0.5" stop-color="#5d0000"/><stop offset="1" stop-color="#870000"/></linearGradient><linearGradient id="bp3_0_33" gradientUnits="userSpaceOnUse" x1="0" y1="116.3" x2="0" y2="153.3"><stop offset="0" stop-color="#000"/><stop offset="0.5" stop-color="#580000"/><stop offset="1" stop-color="#7c0000"/></linearGradient><linearGradient id="bp3_0_34" gradientUnits="userSpaceOnUse" x1="0" y1="120.3" x2="0" y2="156.5"><stop offset="0" stop-color="#000"/><stop offset="0.5" stop-color="#4f0000"/><stop offset="1" stop-color="#6b0000"/></linearGradient><linearGradient id="hl3_50" gradientUnits="userSpaceOnUse" x1="0" y1="49.6" x2="0" y2="165.5"><stop offset="0" stop-color="#000"/><stop offset="0.45" stop-color="#4c0000"/><stop offset="0.85" stop-color="#9f0000"/><stop offset="1" stop-color="#9f0000"/></linearGradient><linearGradient id="hl3_46" gradientUnits="userSpaceOnUse" x1="0" y1="49.6" x2="0" y2="165.5"><stop offset="0" stop-color="#000"/><stop offset="0.45" stop-color="#4c0000"/><stop offset="0.85" stop-color="#9b0000"/><stop offset="1" stop-color="#9b0000"/></linearGradient><linearGradient id="hl3_42" gradientUnits="userSpaceOnUse" x1="0" y1="49.6" x2="0" y2="165.5"><stop offset="0" stop-color="#000"/><stop offset="0.45" stop-color="#4c0000"/><stop offset="0.85" stop-color="#960000"/><stop offset="1" stop-color="#960000"/></linearGradient><linearGradient id="hl3_92" gradientUnits="userSpaceOnUse" x1="0" y1="49.6" x2="0" y2="165.5"><stop offset="0" stop-color="#000"/><stop offset="0.45" stop-color="#4c0000"/><stop offset="0.85" stop-color="#bf0000"/><stop offset="1" stop-color="#bf0000"/></linearGradient><linearGradient id="hl3_38" gradientUnits="userSpaceOnUse" x1="0" y1="49.6" x2="0" y2="165.5"><stop offset="0" stop-color="#000"/><stop offset="0.45" stop-color="#4c0000"/><stop offset="0.85" stop-color="#920000"/><stop offset="1" stop-color="#920000"/></linearGradient><linearGradient id="hl3_70" gradientUnits="userSpaceOnUse" x1="0" y1="49.6" x2="0" y2="165.5"><stop offset="0" stop-color="#000"/><stop offset="0.45" stop-color="#4c0000"/><stop offset="0.85" stop-color="#b60000"/><stop offset="1" stop-color="#b60000"/></linearGradient><linearGradient id="hl3_78" gradientUnits="userSpaceOnUse" x1="0" y1="49.6" x2="0" y2="165.5"><stop offset="0" stop-color="#000"/><stop offset="0.45" stop-color="#4c0000"/><stop offset="0.85" stop-color="#bf0000"/><stop offset="1" stop-color="#bf0000"/></linearGradient><linearGradient id="hl3_68" gradientUnits="userSpaceOnUse" x1="0" y1="49.6" x2="0" y2="165.5"><stop offset="0" stop-color="#000"/><stop offset="0.45" stop-color="#4c0000"/><stop offset="0.85" stop-color="#b40000"/><stop offset="1" stop-color="#b40000"/></linearGradient><linearGradient id="hl3_62" gradientUnits="userSpaceOnUse" x1="0" y1="49.6" x2="0" y2="165.5"><stop offset="0" stop-color="#000"/><stop offset="0.45" stop-color="#4c0000"/><stop offset="0.85" stop-color="#ad0000"/><stop offset="1" stop-color="#ad0000"/></linearGradient><linearGradient id="hl3_86" gradientUnits="userSpaceOnUse" x1="0" y1="49.6" x2="0" y2="165.5"><stop offset="0" stop-color="#000"/><stop offset="0.45" stop-color="#4c0000"/><stop offset="0.85" stop-color="#bf0000"/><stop offset="1" stop-color="#bf0000"/></linearGradient><linearGradient id="hl3_72" gradientUnits="userSpaceOnUse" x1="0" y1="49.6" x2="0" y2="165.5"><stop offset="0" stop-color="#000"/><stop offset="0.45" stop-color="#4c0000"/><stop offset="0.85" stop-color="#b90000"/><stop offset="1" stop-color="#b90000"/></linearGradient><linearGradient id="hl3_66" gradientUnits="userSpaceOnUse" x1="0" y1="49.6" x2="0" y2="165.5"><stop offset="0" stop-color="#000"/><stop offset="0.45" stop-color="#4c0000"/><stop offset="0.85" stop-color="#b20000"/><stop offset="1" stop-color="#b20000"/></linearGradient><linearGradient id="hl3_76" gradientUnits="userSpaceOnUse" x1="0" y1="49.6" x2="0" y2="165.5"><stop offset="0" stop-color="#000"/><stop offset="0.45" stop-color="#4c0000"/><stop offset="0.85" stop-color="#bd0000"/><stop offset="1" stop-color="#bd0000"/></linearGradient><linearGradient id="hl3_80" gradientUnits="userSpaceOnUse" x1="0" y1="49.6" x2="0" y2="165.5"><stop offset="0" stop-color="#000"/><stop offset="0.45" stop-color="#4c0000"/><stop offset="0.85" stop-color="#bf0000"/><stop offset="1" stop-color="#bf0000"/></linearGradient><linearGradient id="hl3_84" gradientUnits="userSpaceOnUse" x1="0" y1="49.6" x2="0" y2="165.5"><stop offset="0" stop-color="#000"/><stop offset="0.45" stop-color="#4c0000"/><stop offset="0.85" stop-color="#bf0000"/><stop offset="1" stop-color="#bf0000"/></linearGradient><linearGradient id="hl3_55" gradientUnits="userSpaceOnUse" x1="0" y1="49.6" x2="0" y2="165.5"><stop offset="0" stop-color="#000"/><stop offset="0.45" stop-color="#4c0000"/><stop offset="0.85" stop-color="#a50000"/><stop offset="1" stop-color="#a50000"/></linearGradient><linearGradient id="hl3_26" gradientUnits="userSpaceOnUse" x1="0" y1="49.6" x2="0" y2="165.5"><stop offset="0" stop-color="#000"/><stop offset="0.45" stop-color="#4c0000"/><stop offset="0.85" stop-color="#840000"/><stop offset="1" stop-color="#840000"/></linearGradient><linearGradient id="sg3_50_0_12" gradientUnits="userSpaceOnUse" x1="0" y1="0" x2="0" y2="165.5"><stop offset="0" stop-color="#008000"/><stop offset="0.35" stop-color="#008a00"/><stop offset="0.6" stop-color="#00cc00"/><stop offset="0.85" stop-color="#00f700"/><stop offset="1" stop-color="#00f700"/></linearGradient><linearGradient id="hsg3_50_0_12" gradientUnits="userSpaceOnUse" x1="0" y1="0" x2="0" y2="165.5"><stop offset="0" stop-color="#005200"/><stop offset="0.35" stop-color="#005700"/><stop offset="0.6" stop-color="#007900"/><stop offset="0.85" stop-color="#009000"/><stop offset="1" stop-color="#009000"/></linearGradient><linearGradient id="gl3_50" gradientUnits="userSpaceOnUse" x1="0" y1="0" x2="0" y2="165.5"><stop offset="0" stop-color="#180000"/><stop offset="0.4" stop-color="#1f0000"/><stop offset="0.62" stop-color="#350000"/><stop offset="0.82" stop-color="#570000"/><stop offset="1" stop-color="#790000"/></linearGradient><linearGradient id="sg3_46_0_10" gradientUnits="userSpaceOnUse" x1="0" y1="0" x2="0" y2="165.5"><stop offset="0" stop-color="#007500"/><stop offset="0.35" stop-color="#008000"/><stop offset="0.6" stop-color="#00c200"/><stop offset="0.85" stop-color="#00f500"/><stop offset="1" stop-color="#00f500"/></linearGradient><linearGradient id="hsg3_46_0_10" gradientUnits="userSpaceOnUse" x1="0" y1="0" x2="0" y2="165.5"><stop offset="0" stop-color="#004c00"/><stop offset="0.35" stop-color="#005200"/><stop offset="0.6" stop-color="#007400"/><stop offset="0.85" stop-color="#008f00"/><stop offset="1" stop-color="#008f00"/></linearGradient><linearGradient id="gl3_46" gradientUnits="userSpaceOnUse" x1="0" y1="0" x2="0" y2="165.5"><stop offset="0" stop-color="#180000"/><stop offset="0.4" stop-color="#1f0000"/><stop offset="0.62" stop-color="#340000"/><stop offset="0.82" stop-color="#560000"/><stop offset="1" stop-color="#770000"/></linearGradient><linearGradient id="sg3_42_0_10" gradientUnits="userSpaceOnUse" x1="0" y1="0" x2="0" y2="165.5"><stop offset="0" stop-color="#006b00"/><stop offset="0.35" stop-color="#007500"/><stop offset="0.6" stop-color="#00b800"/><stop offset="0.85" stop-color="#00eb00"/><stop offset="1" stop-color="#00eb00"/></linearGradient><linearGradient id="hsg3_42_0_10" gradientUnits="userSpaceOnUse" x1="0" y1="0" x2="0" y2="165.5"><stop offset="0" stop-color="#004700"/><stop offset="0.35" stop-color="#004c00"/><stop offset="0.6" stop-color="#006f00"/><stop offset="0.85" stop-color="#008900"/><stop offset="1" stop-color="#008900"/></linearGradient><linearGradient id="gl3_42" gradientUnits="userSpaceOnUse" x1="0" y1="0" x2="0" y2="165.5"><stop offset="0" stop-color="#170000"/><stop offset="0.4" stop-color="#1e0000"/><stop offset="0.62" stop-color="#330000"/><stop offset="0.82" stop-color="#540000"/><stop offset="1" stop-color="#750000"/></linearGradient><linearGradient id="sg3_92_0_14" gradientUnits="userSpaceOnUse" x1="0" y1="0" x2="0" y2="165.5"><stop offset="0" stop-color="#00eb00"/><stop offset="0.35" stop-color="#00f500"/><stop offset="0.6" stop-color="#00f200"/><stop offset="0.85" stop-color="#00f700"/><stop offset="1" stop-color="#00f700"/></linearGradient><linearGradient id="hsg3_92_0_14" gradientUnits="userSpaceOnUse" x1="0" y1="0" x2="0" y2="165.5"><stop offset="0" stop-color="#008900"/><stop offset="0.35" stop-color="#008f00"/><stop offset="0.6" stop-color="#008d00"/><stop offset="0.85" stop-color="#009000"/><stop offset="1" stop-color="#009000"/></linearGradient><linearGradient id="gl3_92" gradientUnits="userSpaceOnUse" x1="0" y1="0" x2="0" y2="165.5"><stop offset="0" stop-color="#1d0000"/><stop offset="0.4" stop-color="#250000"/><stop offset="0.62" stop-color="#3f0000"/><stop offset="0.82" stop-color="#670000"/><stop offset="1" stop-color="#8f0000"/></linearGradient><linearGradient id="sg3_38_0_10" gradientUnits="userSpaceOnUse" x1="0" y1="0" x2="0" y2="165.5"><stop offset="0" stop-color="#006100"/><stop offset="0.35" stop-color="#006b00"/><stop offset="0.6" stop-color="#00ad00"/><stop offset="0.85" stop-color="#00e000"/><stop offset="1" stop-color="#00e000"/></linearGradient><linearGradient id="hsg3_38_0_10" gradientUnits="userSpaceOnUse" x1="0" y1="0" x2="0" y2="165.5"><stop offset="0" stop-color="#004200"/><stop offset="0.35" stop-color="#004700"/><stop offset="0.6" stop-color="#006900"/><stop offset="0.85" stop-color="#008400"/><stop offset="1" stop-color="#008400"/></linearGradient><linearGradient id="gl3_38" gradientUnits="userSpaceOnUse" x1="0" y1="0" x2="0" y2="165.5"><stop offset="0" stop-color="#170000"/><stop offset="0.4" stop-color="#1e0000"/><stop offset="0.62" stop-color="#330000"/><stop offset="0.82" stop-color="#530000"/><stop offset="1" stop-color="#730000"/></linearGradient><linearGradient id="sg3_38_1_10" gradientUnits="userSpaceOnUse" x1="0" y1="0" x2="0" y2="165.5"><stop offset="0" stop-color="#006100"/><stop offset="0.35" stop-color="#006b00"/><stop offset="0.6" stop-color="#00e000"/><stop offset="0.85" stop-color="#00e000"/><stop offset="1" stop-color="#00e000"/></linearGradient><linearGradient id="hsg3_38_1_10" gradientUnits="userSpaceOnUse" x1="0" y1="0" x2="0" y2="165.5"><stop offset="0" stop-color="#004200"/><stop offset="0.35" stop-color="#004700"/><stop offset="0.6" stop-color="#008400"/><stop offset="0.85" stop-color="#008400"/><stop offset="1" stop-color="#008400"/></linearGradient><linearGradient id="sg3_70_1_12" gradientUnits="userSpaceOnUse" x1="0" y1="0" x2="0" y2="165.5"><stop offset="0" stop-color="#00b200"/><stop offset="0.35" stop-color="#00bd00"/><stop offset="0.6" stop-color="#00f200"/><stop offset="0.85" stop-color="#00f700"/><stop offset="1" stop-color="#00f700"/></linearGradient><linearGradient id="hsg3_70_1_12" gradientUnits="userSpaceOnUse" x1="0" y1="0" x2="0" y2="165.5"><stop offset="0" stop-color="#006c00"/><stop offset="0.35" stop-color="#007100"/><stop offset="0.6" stop-color="#008d00"/><stop offset="0.85" stop-color="#009000"/><stop offset="1" stop-color="#009000"/></linearGradient><linearGradient id="gl3_70" gradientUnits="userSpaceOnUse" x1="0" y1="0" x2="0" y2="165.5"><stop offset="0" stop-color="#1a0000"/><stop offset="0.4" stop-color="#220000"/><stop offset="0.62" stop-color="#3a0000"/><stop offset="0.82" stop-color="#5f0000"/><stop offset="1" stop-color="#830000"/></linearGradient><linearGradient id="sg3_78_1_14" gradientUnits="userSpaceOnUse" x1="0" y1="0" x2="0" y2="165.5"><stop offset="0" stop-color="#00c700"/><stop offset="0.35" stop-color="#00d100"/><stop offset="0.6" stop-color="#00f200"/><stop offset="0.85" stop-color="#00f700"/><stop offset="1" stop-color="#00f700"/></linearGradient><linearGradient id="hsg3_78_1_14" gradientUnits="userSpaceOnUse" x1="0" y1="0" x2="0" y2="165.5"><stop offset="0" stop-color="#007700"/><stop offset="0.35" stop-color="#007c00"/><stop offset="0.6" stop-color="#008d00"/><stop offset="0.85" stop-color="#009000"/><stop offset="1" stop-color="#009000"/></linearGradient><linearGradient id="gl3_78" gradientUnits="userSpaceOnUse" x1="0" y1="0" x2="0" y2="165.5"><stop offset="0" stop-color="#1b0000"/><stop offset="0.4" stop-color="#230000"/><stop offset="0.62" stop-color="#3c0000"/><stop offset="0.82" stop-color="#610000"/><stop offset="1" stop-color="#870000"/></linearGradient><linearGradient id="sg3_68_1_12" gradientUnits="userSpaceOnUse" x1="0" y1="0" x2="0" y2="165.5"><stop offset="0" stop-color="#00ad00"/><stop offset="0.35" stop-color="#00b800"/><stop offset="0.6" stop-color="#00f200"/><stop offset="0.85" stop-color="#00f700"/><stop offset="1" stop-color="#00f700"/></linearGradient><linearGradient id="hsg3_68_1_12" gradientUnits="userSpaceOnUse" x1="0" y1="0" x2="0" y2="165.5"><stop offset="0" stop-color="#006900"/><stop offset="0.35" stop-color="#006f00"/><stop offset="0.6" stop-color="#008d00"/><stop offset="0.85" stop-color="#009000"/><stop offset="1" stop-color="#009000"/></linearGradient><linearGradient id="gl3_68" gradientUnits="userSpaceOnUse" x1="0" y1="0" x2="0" y2="165.5"><stop offset="0" stop-color="#1a0000"/><stop offset="0.4" stop-color="#220000"/><stop offset="0.62" stop-color="#390000"/><stop offset="0.82" stop-color="#5e0000"/><stop offset="1" stop-color="#820000"/></linearGradient><linearGradient id="sg3_62_1_12" gradientUnits="userSpaceOnUse" x1="0" y1="0" x2="0" y2="165.5"><stop offset="0" stop-color="#009e00"/><stop offset="0.35" stop-color="#00a800"/><stop offset="0.6" stop-color="#00eb00"/><stop offset="0.85" stop-color="#00f700"/><stop offset="1" stop-color="#00f700"/></linearGradient><linearGradient id="hsg3_62_1_12" gradientUnits="userSpaceOnUse" x1="0" y1="0" x2="0" y2="165.5"><stop offset="0" stop-color="#006200"/><stop offset="0.35" stop-color="#006700"/><stop offset="0.6" stop-color="#008900"/><stop offset="0.85" stop-color="#009000"/><stop offset="1" stop-color="#009000"/></linearGradient><linearGradient id="gl3_62" gradientUnits="userSpaceOnUse" x1="0" y1="0" x2="0" y2="165.5"><stop offset="0" stop-color="#190000"/><stop offset="0.4" stop-color="#210000"/><stop offset="0.62" stop-color="#380000"/><stop offset="0.82" stop-color="#5c0000"/><stop offset="1" stop-color="#7f0000"/></linearGradient><linearGradient id="sg3_86_1_14" gradientUnits="userSpaceOnUse" x1="0" y1="0" x2="0" y2="165.5"><stop offset="0" stop-color="#00db00"/><stop offset="0.35" stop-color="#00e600"/><stop offset="0.6" stop-color="#00f200"/><stop offset="0.85" stop-color="#00f700"/><stop offset="1" stop-color="#00f700"/></linearGradient><linearGradient id="hsg3_86_1_14" gradientUnits="userSpaceOnUse" x1="0" y1="0" x2="0" y2="165.5"><stop offset="0" stop-color="#008100"/><stop offset="0.35" stop-color="#008700"/><stop offset="0.6" stop-color="#008d00"/><stop offset="0.85" stop-color="#009000"/><stop offset="1" stop-color="#009000"/></linearGradient><linearGradient id="gl3_86" gradientUnits="userSpaceOnUse" x1="0" y1="0" x2="0" y2="165.5"><stop offset="0" stop-color="#1c0000"/><stop offset="0.4" stop-color="#240000"/><stop offset="0.62" stop-color="#3d0000"/><stop offset="0.82" stop-color="#640000"/><stop offset="1" stop-color="#8b0000"/></linearGradient><linearGradient id="sg3_72_1_12" gradientUnits="userSpaceOnUse" x1="0" y1="0" x2="0" y2="165.5"><stop offset="0" stop-color="#00b800"/><stop offset="0.35" stop-color="#00c200"/><stop offset="0.6" stop-color="#00f200"/><stop offset="0.85" stop-color="#00f700"/><stop offset="1" stop-color="#00f700"/></linearGradient><linearGradient id="hsg3_72_1_12" gradientUnits="userSpaceOnUse" x1="0" y1="0" x2="0" y2="165.5"><stop offset="0" stop-color="#006f00"/><stop offset="0.35" stop-color="#007400"/><stop offset="0.6" stop-color="#008d00"/><stop offset="0.85" stop-color="#009000"/><stop offset="1" stop-color="#009000"/></linearGradient><linearGradient id="gl3_72" gradientUnits="userSpaceOnUse" x1="0" y1="0" x2="0" y2="165.5"><stop offset="0" stop-color="#1a0000"/><stop offset="0.4" stop-color="#220000"/><stop offset="0.62" stop-color="#3a0000"/><stop offset="0.82" stop-color="#5f0000"/><stop offset="1" stop-color="#840000"/></linearGradient><linearGradient id="sg3_66_1_12" gradientUnits="userSpaceOnUse" x1="0" y1="0" x2="0" y2="165.5"><stop offset="0" stop-color="#00a800"/><stop offset="0.35" stop-color="#00b300"/><stop offset="0.6" stop-color="#00f200"/><stop offset="0.85" stop-color="#00f700"/><stop offset="1" stop-color="#00f700"/></linearGradient><linearGradient id="hsg3_66_1_12" gradientUnits="userSpaceOnUse" x1="0" y1="0" x2="0" y2="165.5"><stop offset="0" stop-color="#006700"/><stop offset="0.35" stop-color="#006c00"/><stop offset="0.6" stop-color="#008d00"/><stop offset="0.85" stop-color="#009000"/><stop offset="1" stop-color="#009000"/></linearGradient><linearGradient id="gl3_66" gradientUnits="userSpaceOnUse" x1="0" y1="0" x2="0" y2="165.5"><stop offset="0" stop-color="#1a0000"/><stop offset="0.4" stop-color="#220000"/><stop offset="0.62" stop-color="#390000"/><stop offset="0.82" stop-color="#5d0000"/><stop offset="1" stop-color="#810000"/></linearGradient><linearGradient id="sg3_76_1_14" gradientUnits="userSpaceOnUse" x1="0" y1="0" x2="0" y2="165.5"><stop offset="0" stop-color="#00c200"/><stop offset="0.35" stop-color="#00cc00"/><stop offset="0.6" stop-color="#00f200"/><stop offset="0.85" stop-color="#00f700"/><stop offset="1" stop-color="#00f700"/></linearGradient><linearGradient id="hsg3_76_1_14" gradientUnits="userSpaceOnUse" x1="0" y1="0" x2="0" y2="165.5"><stop offset="0" stop-color="#007400"/><stop offset="0.35" stop-color="#007900"/><stop offset="0.6" stop-color="#008d00"/><stop offset="0.85" stop-color="#009000"/><stop offset="1" stop-color="#009000"/></linearGradient><linearGradient id="gl3_76" gradientUnits="userSpaceOnUse" x1="0" y1="0" x2="0" y2="165.5"><stop offset="0" stop-color="#1b0000"/><stop offset="0.4" stop-color="#230000"/><stop offset="0.62" stop-color="#3b0000"/><stop offset="0.82" stop-color="#610000"/><stop offset="1" stop-color="#860000"/></linearGradient><linearGradient id="sg3_80_0_14" gradientUnits="userSpaceOnUse" x1="0" y1="0" x2="0" y2="165.5"><stop offset="0" stop-color="#00cc00"/><stop offset="0.35" stop-color="#00d600"/><stop offset="0.6" stop-color="#00f200"/><stop offset="0.85" stop-color="#00f700"/><stop offset="1" stop-color="#00f700"/></linearGradient><linearGradient id="hsg3_80_0_14" gradientUnits="userSpaceOnUse" x1="0" y1="0" x2="0" y2="165.5"><stop offset="0" stop-color="#007900"/><stop offset="0.35" stop-color="#007f00"/><stop offset="0.6" stop-color="#008d00"/><stop offset="0.85" stop-color="#009000"/><stop offset="1" stop-color="#009000"/></linearGradient><linearGradient id="gl3_80" gradientUnits="userSpaceOnUse" x1="0" y1="0" x2="0" y2="165.5"><stop offset="0" stop-color="#1b0000"/><stop offset="0.4" stop-color="#230000"/><stop offset="0.62" stop-color="#3c0000"/><stop offset="0.82" stop-color="#620000"/><stop offset="1" stop-color="#880000"/></linearGradient><linearGradient id="sg3_84_0_14" gradientUnits="userSpaceOnUse" x1="0" y1="0" x2="0" y2="165.5"><stop offset="0" stop-color="#00d600"/><stop offset="0.35" stop-color="#00e000"/><stop offset="0.6" stop-color="#00f200"/><stop offset="0.85" stop-color="#00f700"/><stop offset="1" stop-color="#00f700"/></linearGradient><linearGradient id="hsg3_84_0_14" gradientUnits="userSpaceOnUse" x1="0" y1="0" x2="0" y2="165.5"><stop offset="0" stop-color="#007f00"/><stop offset="0.35" stop-color="#008400"/><stop offset="0.6" stop-color="#008d00"/><stop offset="0.85" stop-color="#009000"/><stop offset="1" stop-color="#009000"/></linearGradient><linearGradient id="gl3_84" gradientUnits="userSpaceOnUse" x1="0" y1="0" x2="0" y2="165.5"><stop offset="0" stop-color="#1c0000"/><stop offset="0.4" stop-color="#240000"/><stop offset="0.62" stop-color="#3d0000"/><stop offset="0.82" stop-color="#640000"/><stop offset="1" stop-color="#8a0000"/></linearGradient><linearGradient id="sg3_55_0_12" gradientUnits="userSpaceOnUse" x1="0" y1="0" x2="0" y2="165.5"><stop offset="0" stop-color="#008c00"/><stop offset="0.35" stop-color="#009600"/><stop offset="0.6" stop-color="#00d900"/><stop offset="0.85" stop-color="#00f700"/><stop offset="1" stop-color="#00f700"/></linearGradient><linearGradient id="hsg3_55_0_12" gradientUnits="userSpaceOnUse" x1="0" y1="0" x2="0" y2="165.5"><stop offset="0" stop-color="#005800"/><stop offset="0.35" stop-color="#005e00"/><stop offset="0.6" stop-color="#008000"/><stop offset="0.85" stop-color="#009000"/><stop offset="1" stop-color="#009000"/></linearGradient><linearGradient id="gl3_55" gradientUnits="userSpaceOnUse" x1="0" y1="0" x2="0" y2="165.5"><stop offset="0" stop-color="#190000"/><stop offset="0.4" stop-color="#200000"/><stop offset="0.62" stop-color="#360000"/><stop offset="0.82" stop-color="#590000"/><stop offset="1" stop-color="#7c0000"/></linearGradient><linearGradient id="sg3_68_0_12" gradientUnits="userSpaceOnUse" x1="0" y1="0" x2="0" y2="165.5"><stop offset="0" stop-color="#00ad00"/><stop offset="0.35" stop-color="#00b800"/><stop offset="0.6" stop-color="#00f200"/><stop offset="0.85" stop-color="#00f700"/><stop offset="1" stop-color="#00f700"/></linearGradient><linearGradient id="hsg3_68_0_12" gradientUnits="userSpaceOnUse" x1="0" y1="0" x2="0" y2="165.5"><stop offset="0" stop-color="#006900"/><stop offset="0.35" stop-color="#006f00"/><stop offset="0.6" stop-color="#008d00"/><stop offset="0.85" stop-color="#009000"/><stop offset="1" stop-color="#009000"/></linearGradient><linearGradient id="sg3_26_0_10" gradientUnits="userSpaceOnUse" x1="0" y1="0" x2="0" y2="165.5"><stop offset="0" stop-color="#004200"/><stop offset="0.35" stop-color="#004c00"/><stop offset="0.6" stop-color="#008f00"/><stop offset="0.85" stop-color="#00c200"/><stop offset="1" stop-color="#00c200"/></linearGradient><linearGradient id="hsg3_26_0_10" gradientUnits="userSpaceOnUse" x1="0" y1="0" x2="0" y2="165.5"><stop offset="0" stop-color="#003200"/><stop offset="0.35" stop-color="#003700"/><stop offset="0.6" stop-color="#005a00"/><stop offset="0.85" stop-color="#007400"/><stop offset="1" stop-color="#007400"/></linearGradient><linearGradient id="gl3_26" gradientUnits="userSpaceOnUse" x1="0" y1="0" x2="0" y2="165.5"><stop offset="0" stop-color="#160000"/><stop offset="0.4" stop-color="#1c0000"/><stop offset="0.62" stop-color="#300000"/><stop offset="0.82" stop-color="#4e0000"/><stop offset="1" stop-color="#6d0000"/></linearGradient></defs>
<g filter="url(#f3)"><rect x="-4" y="-4" width="170.2" height="173.5" fill="url(#bg3)"/>
<rect x="-4" y="23.2" width="170.2" height="2" fill="#730000" style="mix-blend-mode:lighten"/>
<rect x="-4" y="29.5" width="170.2" height="1" fill="#420000" style="mix-blend-mode:lighten"/>
<rect x="39.10" y="120.3" width="2.05" height="49.2" fill="url(#bp3_0_0)" style="mix-blend-mode:lighten"/>
<rect x="41.10" y="116.3" width="2.05" height="53.2" fill="url(#bp3_0_1)" style="mix-blend-mode:lighten"/>
<rect x="43.10" y="113.8" width="2.05" height="55.7" fill="url(#bp3_0_2)" style="mix-blend-mode:lighten"/>
<rect x="45.10" y="111.9" width="2.05" height="57.6" fill="url(#bp3_0_3)" style="mix-blend-mode:lighten"/>
<rect x="47.10" y="110.3" width="2.05" height="59.2" fill="url(#bp3_0_4)" style="mix-blend-mode:lighten"/>
<rect x="49.10" y="109.0" width="2.05" height="60.5" fill="url(#bp3_0_5)" style="mix-blend-mode:lighten"/>
<rect x="51.10" y="107.9" width="2.05" height="61.6" fill="url(#bp3_0_6)" style="mix-blend-mode:lighten"/>
<rect x="53.10" y="106.9" width="2.05" height="62.6" fill="url(#bp3_0_7)" style="mix-blend-mode:lighten"/>
<rect x="55.10" y="106.0" width="2.05" height="63.5" fill="url(#bp3_0_8)" style="mix-blend-mode:lighten"/>
<rect x="57.10" y="105.3" width="2.05" height="64.2" fill="url(#bp3_0_9)" style="mix-blend-mode:lighten"/>
<rect x="59.10" y="104.6" width="2.05" height="64.9" fill="url(#bp3_0_10)" style="mix-blend-mode:lighten"/>
<rect x="61.10" y="104.1" width="2.05" height="65.4" fill="url(#bp3_0_11)" style="mix-blend-mode:lighten"/>
<rect x="63.10" y="103.6" width="2.05" height="65.9" fill="url(#bp3_0_12)" style="mix-blend-mode:lighten"/>
<rect x="65.10" y="103.3" width="2.05" height="66.2" fill="url(#bp3_0_13)" style="mix-blend-mode:lighten"/>
<rect x="67.10" y="103.0" width="2.05" height="66.5" fill="url(#bp3_0_14)" style="mix-blend-mode:lighten"/>
<rect x="69.10" y="102.8" width="2.05" height="66.7" fill="url(#bp3_0_15)" style="mix-blend-mode:lighten"/>
<rect x="71.10" y="102.7" width="2.05" height="66.8" fill="url(#bp3_0_16)" style="mix-blend-mode:lighten"/>
<rect x="73.10" y="102.6" width="2.05" height="66.9" fill="url(#bp3_0_17)" style="mix-blend-mode:lighten"/>
<rect x="75.10" y="102.7" width="2.05" height="66.8" fill="url(#bp3_0_18)" style="mix-blend-mode:lighten"/>
<rect x="77.10" y="102.8" width="2.05" height="66.7" fill="url(#bp3_0_19)" style="mix-blend-mode:lighten"/>
<rect x="79.10" y="103.0" width="2.05" height="66.5" fill="url(#bp3_0_20)" style="mix-blend-mode:lighten"/>
<rect x="81.10" y="103.3" width="2.05" height="66.2" fill="url(#bp3_0_21)" style="mix-blend-mode:lighten"/>
<rect x="83.10" y="103.6" width="2.05" height="65.9" fill="url(#bp3_0_22)" style="mix-blend-mode:lighten"/>
<rect x="85.10" y="104.1" width="2.05" height="65.4" fill="url(#bp3_0_23)" style="mix-blend-mode:lighten"/>
<rect x="87.10" y="104.6" width="2.05" height="64.9" fill="url(#bp3_0_24)" style="mix-blend-mode:lighten"/>
<rect x="89.10" y="105.3" width="2.05" height="64.2" fill="url(#bp3_0_25)" style="mix-blend-mode:lighten"/>
<rect x="91.10" y="106.0" width="2.05" height="63.5" fill="url(#bp3_0_26)" style="mix-blend-mode:lighten"/>
<rect x="93.10" y="106.9" width="2.05" height="62.6" fill="url(#bp3_0_27)" style="mix-blend-mode:lighten"/>
<rect x="95.10" y="107.9" width="2.05" height="61.6" fill="url(#bp3_0_28)" style="mix-blend-mode:lighten"/>
<rect x="97.10" y="109.0" width="2.05" height="60.5" fill="url(#bp3_0_29)" style="mix-blend-mode:lighten"/>
<rect x="99.10" y="110.3" width="2.05" height="59.2" fill="url(#bp3_0_30)" style="mix-blend-mode:lighten"/>
<rect x="101.10" y="111.9" width="2.05" height="57.6" fill="url(#bp3_0_31)" style="mix-blend-mode:lighten"/>
<rect x="103.10" y="113.8" width="2.05" height="55.7" fill="url(#bp3_0_32)" style="mix-blend-mode:lighten"/>
<rect x="105.10" y="116.3" width="2.05" height="53.2" fill="url(#bp3_0_33)" style="mix-blend-mode:lighten"/>
<rect x="107.10" y="120.3" width="2.05" height="49.2" fill="url(#bp3_0_34)" style="mix-blend-mode:lighten"/>
<polygon points="1.20,49.6 3.95,165.5 -1.55,165.5" fill="url(#hl3_50)" style="mix-blend-mode:lighten"/>
<polygon points="6.80,49.6 9.45,165.5 4.15,165.5" fill="url(#hl3_46)" style="mix-blend-mode:lighten"/>
<polygon points="11.90,49.6 14.45,165.5 9.35,165.5" fill="url(#hl3_42)" style="mix-blend-mode:lighten"/>
<polygon points="18.00,49.6 21.80,165.5 14.20,165.5" fill="url(#hl3_92)" style="mix-blend-mode:lighten"/>
<polygon points="21.50,49.6 25.30,165.5 17.70,165.5" fill="url(#hl3_92)" style="mix-blend-mode:lighten"/>
<polygon points="27.60,49.6 30.15,165.5 25.05,165.5" fill="url(#hl3_42)" style="mix-blend-mode:lighten"/>
<polygon points="32.70,49.6 35.15,165.5 30.25,165.5" fill="url(#hl3_38)" style="mix-blend-mode:lighten"/>
<polygon points="37.80,49.6 40.35,165.5 35.25,165.5" fill="url(#hl3_42)" style="mix-blend-mode:lighten"/>
<polygon points="43.40,49.6 45.85,165.5 40.95,165.5" fill="url(#hl3_38)" style="mix-blend-mode:lighten"/>
<polygon points="48.00,49.6 51.25,165.5 44.75,165.5" fill="url(#hl3_70)" style="mix-blend-mode:lighten"/>
<polygon points="57.70,49.6 61.15,165.5 54.25,165.5" fill="url(#hl3_78)" style="mix-blend-mode:lighten"/>
<polygon points="63.30,49.6 66.50,165.5 60.10,165.5" fill="url(#hl3_68)" style="mix-blend-mode:lighten"/>
<polygon points="67.40,49.6 70.45,165.5 64.35,165.5" fill="url(#hl3_62)" style="mix-blend-mode:lighten"/>
<polygon points="72.50,49.6 76.15,165.5 68.85,165.5" fill="url(#hl3_86)" style="mix-blend-mode:lighten"/>
<polygon points="78.10,49.6 81.30,165.5 74.90,165.5" fill="url(#hl3_68)" style="mix-blend-mode:lighten"/>
<polygon points="83.20,49.6 86.25,165.5 80.15,165.5" fill="url(#hl3_62)" style="mix-blend-mode:lighten"/>
<polygon points="88.30,49.6 91.95,165.5 84.65,165.5" fill="url(#hl3_86)" style="mix-blend-mode:lighten"/>
<polygon points="92.90,49.6 96.20,165.5 89.60,165.5" fill="url(#hl3_72)" style="mix-blend-mode:lighten"/>
<polygon points="97.90,49.6 101.20,165.5 94.60,165.5" fill="url(#hl3_72)" style="mix-blend-mode:lighten"/>
<polygon points="104.10,49.6 107.25,165.5 100.95,165.5" fill="url(#hl3_66)" style="mix-blend-mode:lighten"/>
<polygon points="109.10,49.6 112.50,165.5 105.70,165.5" fill="url(#hl3_76)" style="mix-blend-mode:lighten"/>
<polygon points="114.10,49.6 117.60,165.5 110.60,165.5" fill="url(#hl3_80)" style="mix-blend-mode:lighten"/>
<polygon points="118.10,49.6 121.70,165.5 114.50,165.5" fill="url(#hl3_84)" style="mix-blend-mode:lighten"/>
<polygon points="124.30,49.6 127.18,165.5 121.43,165.5" fill="url(#hl3_55)" style="mix-blend-mode:lighten"/>
<polygon points="129.30,49.6 131.95,165.5 126.65,165.5" fill="url(#hl3_46)" style="mix-blend-mode:lighten"/>
<polygon points="133.30,49.6 136.90,165.5 129.70,165.5" fill="url(#hl3_84)" style="mix-blend-mode:lighten"/>
<polygon points="138.90,49.6 141.45,165.5 136.35,165.5" fill="url(#hl3_42)" style="mix-blend-mode:lighten"/>
<polygon points="144.60,49.6 148.20,165.5 141.00,165.5" fill="url(#hl3_84)" style="mix-blend-mode:lighten"/>
<polygon points="150.20,49.6 152.75,165.5 147.65,165.5" fill="url(#hl3_42)" style="mix-blend-mode:lighten"/>
<polygon points="154.70,49.6 158.30,165.5 151.10,165.5" fill="url(#hl3_84)" style="mix-blend-mode:lighten"/>
<polygon points="159.20,49.6 162.40,165.5 156.00,165.5" fill="url(#hl3_68)" style="mix-blend-mode:lighten"/>
<polygon points="52.83,49.6 54.98,165.5 50.68,165.5" fill="url(#hl3_26)" style="mix-blend-mode:lighten"/>
<rect x="-0.50" y="-4" width="3.40" height="173.5" fill="url(#gl3_50)" style="mix-blend-mode:lighten"/>
<polygon points="0.05,-4 2.35,-4 2.35,82.8 2.75,169.5 -0.35,169.5 0.05,82.8" fill="url(#hsg3_50_0_12)" style="mix-blend-mode:lighten"/>
<polygon points="0.60,-4 1.80,-4 1.80,82.8 2.10,169.5 0.30,169.5 0.60,82.8" fill="url(#sg3_50_0_12)" style="mix-blend-mode:lighten"/>
<rect x="5.20" y="-4" width="3.20" height="173.5" fill="url(#gl3_46)" style="mix-blend-mode:lighten"/>
<polygon points="5.90,-4 7.70,-4 7.70,82.8 8.25,169.5 5.35,169.5 5.90,82.8" fill="url(#hsg3_46_0_10)" style="mix-blend-mode:lighten"/>
<polygon points="6.30,-4 7.30,-4 7.30,82.8 7.60,169.5 6.00,169.5 6.30,82.8" fill="url(#sg3_46_0_10)" style="mix-blend-mode:lighten"/>
<rect x="10.30" y="-4" width="3.20" height="173.5" fill="url(#gl3_42)" style="mix-blend-mode:lighten"/>
<polygon points="11.00,-4 12.80,-4 12.80,82.8 13.35,169.5 10.45,169.5 11.00,82.8" fill="url(#hsg3_42_0_10)" style="mix-blend-mode:lighten"/>
<polygon points="11.40,-4 12.40,-4 12.40,82.8 12.70,169.5 11.10,169.5 11.40,82.8" fill="url(#sg3_42_0_10)" style="mix-blend-mode:lighten"/>
<rect x="16.18" y="-4" width="3.65" height="173.5" fill="url(#gl3_92)" style="mix-blend-mode:lighten"/>
<polygon points="16.73,-4 19.27,-4 19.27,82.8 19.68,169.5 16.32,169.5 16.73,82.8" fill="url(#hsg3_92_0_14)" style="mix-blend-mode:lighten"/>
<polygon points="17.27,-4 18.73,-4 18.73,82.8 19.02,169.5 16.98,169.5 17.27,82.8" fill="url(#sg3_92_0_14)" style="mix-blend-mode:lighten"/>
<rect x="19.68" y="-4" width="3.65" height="173.5" fill="url(#gl3_92)" style="mix-blend-mode:lighten"/>
<polygon points="20.23,-4 22.77,-4 22.77,82.8 23.18,169.5 19.82,169.5 20.23,82.8" fill="url(#hsg3_92_0_14)" style="mix-blend-mode:lighten"/>
<polygon points="20.77,-4 22.23,-4 22.23,82.8 22.52,169.5 20.48,169.5 20.77,82.8" fill="url(#sg3_92_0_14)" style="mix-blend-mode:lighten"/>
<rect x="26.00" y="-4" width="3.20" height="173.5" fill="url(#gl3_42)" style="mix-blend-mode:lighten"/>
<polygon points="26.70,-4 28.50,-4 28.50,82.8 29.05,169.5 26.15,169.5 26.70,82.8" fill="url(#hsg3_42_0_10)" style="mix-blend-mode:lighten"/>
<polygon points="27.10,-4 28.10,-4 28.10,82.8 28.40,169.5 26.80,169.5 27.10,82.8" fill="url(#sg3_42_0_10)" style="mix-blend-mode:lighten"/>
<rect x="31.10" y="-4" width="3.20" height="173.5" fill="url(#gl3_38)" style="mix-blend-mode:lighten"/>
<polygon points="31.80,-4 33.60,-4 33.60,82.8 34.15,169.5 31.25,169.5 31.80,82.8" fill="url(#hsg3_38_0_10)" style="mix-blend-mode:lighten"/>
<polygon points="32.20,-4 33.20,-4 33.20,82.8 33.50,169.5 31.90,169.5 32.20,82.8" fill="url(#sg3_38_0_10)" style="mix-blend-mode:lighten"/>
<rect x="36.20" y="-4" width="3.20" height="173.5" fill="url(#gl3_42)" style="mix-blend-mode:lighten"/>
<polygon points="36.90,-4 38.70,-4 38.70,82.8 39.25,169.5 36.35,169.5 36.90,82.8" fill="url(#hsg3_42_0_10)" style="mix-blend-mode:lighten"/>
<polygon points="37.30,-4 38.30,-4 38.30,82.8 38.60,169.5 37.00,169.5 37.30,82.8" fill="url(#sg3_42_0_10)" style="mix-blend-mode:lighten"/>
<rect x="41.80" y="-4" width="3.20" height="173.5" fill="url(#gl3_38)" style="mix-blend-mode:lighten"/>
<polygon points="42.50,-4 44.30,-4 44.30,82.8 45.35,169.5 41.45,169.5 42.50,82.8" fill="url(#hsg3_38_1_10)" style="mix-blend-mode:lighten"/>
<polygon points="42.90,-4 43.90,-4 43.90,82.8 44.70,169.5 42.10,169.5 42.90,82.8" fill="url(#sg3_38_1_10)" style="mix-blend-mode:lighten"/>
<rect x="46.30" y="-4" width="3.40" height="173.5" fill="url(#gl3_70)" style="mix-blend-mode:lighten"/>
<polygon points="46.85,-4 49.15,-4 49.15,82.8 50.05,169.5 45.95,169.5 46.85,82.8" fill="url(#hsg3_70_1_12)" style="mix-blend-mode:lighten"/>
<polygon points="47.40,-4 48.60,-4 48.60,82.8 49.40,169.5 46.60,169.5 47.40,82.8" fill="url(#sg3_70_1_12)" style="mix-blend-mode:lighten"/>
<rect x="55.88" y="-4" width="3.65" height="173.5" fill="url(#gl3_78)" style="mix-blend-mode:lighten"/>
<polygon points="56.43,-4 58.98,-4 58.98,82.8 59.88,169.5 55.53,169.5 56.43,82.8" fill="url(#hsg3_78_1_14)" style="mix-blend-mode:lighten"/>
<polygon points="56.98,-4 58.43,-4 58.43,82.8 59.23,169.5 56.18,169.5 56.98,82.8" fill="url(#sg3_78_1_14)" style="mix-blend-mode:lighten"/>
<rect x="61.60" y="-4" width="3.40" height="173.5" fill="url(#gl3_68)" style="mix-blend-mode:lighten"/>
<polygon points="62.15,-4 64.45,-4 64.45,82.8 65.35,169.5 61.25,169.5 62.15,82.8" fill="url(#hsg3_68_1_12)" style="mix-blend-mode:lighten"/>
<polygon points="62.70,-4 63.90,-4 63.90,82.8 64.70,169.5 61.90,169.5 62.70,82.8" fill="url(#sg3_68_1_12)" style="mix-blend-mode:lighten"/>
<rect x="65.70" y="-4" width="3.40" height="173.5" fill="url(#gl3_62)" style="mix-blend-mode:lighten"/>
<polygon points="66.25,-4 68.55,-4 68.55,82.8 69.45,169.5 65.35,169.5 66.25,82.8" fill="url(#hsg3_62_1_12)" style="mix-blend-mode:lighten"/>
<polygon points="66.80,-4 68.00,-4 68.00,82.8 68.80,169.5 66.00,169.5 66.80,82.8" fill="url(#sg3_62_1_12)" style="mix-blend-mode:lighten"/>
<rect x="70.67" y="-4" width="3.65" height="173.5" fill="url(#gl3_86)" style="mix-blend-mode:lighten"/>
<polygon points="71.22,-4 73.78,-4 73.78,82.8 74.67,169.5 70.33,169.5 71.22,82.8" fill="url(#hsg3_86_1_14)" style="mix-blend-mode:lighten"/>
<polygon points="71.78,-4 73.22,-4 73.22,82.8 74.03,169.5 70.97,169.5 71.78,82.8" fill="url(#sg3_86_1_14)" style="mix-blend-mode:lighten"/>
<rect x="76.40" y="-4" width="3.40" height="173.5" fill="url(#gl3_68)" style="mix-blend-mode:lighten"/>
<polygon points="76.95,-4 79.25,-4 79.25,82.8 80.15,169.5 76.05,169.5 76.95,82.8" fill="url(#hsg3_68_1_12)" style="mix-blend-mode:lighten"/>
<polygon points="77.50,-4 78.70,-4 78.70,82.8 79.50,169.5 76.70,169.5 77.50,82.8" fill="url(#sg3_68_1_12)" style="mix-blend-mode:lighten"/>
<rect x="81.50" y="-4" width="3.40" height="173.5" fill="url(#gl3_62)" style="mix-blend-mode:lighten"/>
<polygon points="82.05,-4 84.35,-4 84.35,82.8 85.25,169.5 81.15,169.5 82.05,82.8" fill="url(#hsg3_62_1_12)" style="mix-blend-mode:lighten"/>
<polygon points="82.60,-4 83.80,-4 83.80,82.8 84.60,169.5 81.80,169.5 82.60,82.8" fill="url(#sg3_62_1_12)" style="mix-blend-mode:lighten"/>
<rect x="86.48" y="-4" width="3.65" height="173.5" fill="url(#gl3_86)" style="mix-blend-mode:lighten"/>
<polygon points="87.03,-4 89.58,-4 89.58,82.8 90.48,169.5 86.13,169.5 87.03,82.8" fill="url(#hsg3_86_1_14)" style="mix-blend-mode:lighten"/>
<polygon points="87.58,-4 89.03,-4 89.03,82.8 89.83,169.5 86.78,169.5 87.58,82.8" fill="url(#sg3_86_1_14)" style="mix-blend-mode:lighten"/>
<rect x="91.20" y="-4" width="3.40" height="173.5" fill="url(#gl3_72)" style="mix-blend-mode:lighten"/>
<polygon points="91.75,-4 94.05,-4 94.05,82.8 94.95,169.5 90.85,169.5 91.75,82.8" fill="url(#hsg3_72_1_12)" style="mix-blend-mode:lighten"/>
<polygon points="92.30,-4 93.50,-4 93.50,82.8 94.30,169.5 91.50,169.5 92.30,82.8" fill="url(#sg3_72_1_12)" style="mix-blend-mode:lighten"/>
<rect x="96.20" y="-4" width="3.40" height="173.5" fill="url(#gl3_72)" style="mix-blend-mode:lighten"/>
<polygon points="96.75,-4 99.05,-4 99.05,82.8 99.95,169.5 95.85,169.5 96.75,82.8" fill="url(#hsg3_72_1_12)" style="mix-blend-mode:lighten"/>
<polygon points="97.30,-4 98.50,-4 98.50,82.8 99.30,169.5 96.50,169.5 97.30,82.8" fill="url(#sg3_72_1_12)" style="mix-blend-mode:lighten"/>
<rect x="102.40" y="-4" width="3.40" height="173.5" fill="url(#gl3_66)" style="mix-blend-mode:lighten"/>
<polygon points="102.95,-4 105.25,-4 105.25,82.8 106.15,169.5 102.05,169.5 102.95,82.8" fill="url(#hsg3_66_1_12)" style="mix-blend-mode:lighten"/>
<polygon points="103.50,-4 104.70,-4 104.70,82.8 105.50,169.5 102.70,169.5 103.50,82.8" fill="url(#sg3_66_1_12)" style="mix-blend-mode:lighten"/>
<rect x="107.28" y="-4" width="3.65" height="173.5" fill="url(#gl3_76)" style="mix-blend-mode:lighten"/>
<polygon points="107.83,-4 110.38,-4 110.38,82.8 111.28,169.5 106.93,169.5 107.83,82.8" fill="url(#hsg3_76_1_14)" style="mix-blend-mode:lighten"/>
<polygon points="108.38,-4 109.83,-4 109.83,82.8 110.63,169.5 107.58,169.5 108.38,82.8" fill="url(#sg3_76_1_14)" style="mix-blend-mode:lighten"/>
<rect x="112.28" y="-4" width="3.65" height="173.5" fill="url(#gl3_80)" style="mix-blend-mode:lighten"/>
<polygon points="112.83,-4 115.38,-4 115.38,82.8 115.78,169.5 112.43,169.5 112.83,82.8" fill="url(#hsg3_80_0_14)" style="mix-blend-mode:lighten"/>
<polygon points="113.38,-4 114.83,-4 114.83,82.8 115.13,169.5 113.08,169.5 113.38,82.8" fill="url(#sg3_80_0_14)" style="mix-blend-mode:lighten"/>
<rect x="116.28" y="-4" width="3.65" height="173.5" fill="url(#gl3_84)" style="mix-blend-mode:lighten"/>
<polygon points="116.83,-4 119.38,-4 119.38,82.8 119.78,169.5 116.43,169.5 116.83,82.8" fill="url(#hsg3_84_0_14)" style="mix-blend-mode:lighten"/>
<polygon points="117.38,-4 118.83,-4 118.83,82.8 119.13,169.5 117.08,169.5 117.38,82.8" fill="url(#sg3_84_0_14)" style="mix-blend-mode:lighten"/>
<rect x="122.60" y="-4" width="3.40" height="173.5" fill="url(#gl3_55)" style="mix-blend-mode:lighten"/>
<polygon points="123.15,-4 125.45,-4 125.45,82.8 125.85,169.5 122.75,169.5 123.15,82.8" fill="url(#hsg3_55_0_12)" style="mix-blend-mode:lighten"/>
<polygon points="123.70,-4 124.90,-4 124.90,82.8 125.20,169.5 123.40,169.5 123.70,82.8" fill="url(#sg3_55_0_12)" style="mix-blend-mode:lighten"/>
<rect x="127.70" y="-4" width="3.20" height="173.5" fill="url(#gl3_46)" style="mix-blend-mode:lighten"/>
<polygon points="128.40,-4 130.20,-4 130.20,82.8 130.75,169.5 127.85,169.5 128.40,82.8" fill="url(#hsg3_46_0_10)" style="mix-blend-mode:lighten"/>
<polygon points="128.80,-4 129.80,-4 129.80,82.8 130.10,169.5 128.50,169.5 128.80,82.8" fill="url(#sg3_46_0_10)" style="mix-blend-mode:lighten"/>
<rect x="131.48" y="-4" width="3.65" height="173.5" fill="url(#gl3_84)" style="mix-blend-mode:lighten"/>
<polygon points="132.03,-4 134.58,-4 134.58,82.8 134.98,169.5 131.62,169.5 132.03,82.8" fill="url(#hsg3_84_0_14)" style="mix-blend-mode:lighten"/>
<polygon points="132.58,-4 134.03,-4 134.03,82.8 134.33,169.5 132.28,169.5 132.58,82.8" fill="url(#sg3_84_0_14)" style="mix-blend-mode:lighten"/>
<rect x="137.30" y="-4" width="3.20" height="173.5" fill="url(#gl3_42)" style="mix-blend-mode:lighten"/>
<polygon points="138.00,-4 139.80,-4 139.80,82.8 140.35,169.5 137.45,169.5 138.00,82.8" fill="url(#hsg3_42_0_10)" style="mix-blend-mode:lighten"/>
<polygon points="138.40,-4 139.40,-4 139.40,82.8 139.70,169.5 138.10,169.5 138.40,82.8" fill="url(#sg3_42_0_10)" style="mix-blend-mode:lighten"/>
<rect x="142.78" y="-4" width="3.65" height="173.5" fill="url(#gl3_84)" style="mix-blend-mode:lighten"/>
<polygon points="143.33,-4 145.88,-4 145.88,82.8 146.28,169.5 142.93,169.5 143.33,82.8" fill="url(#hsg3_84_0_14)" style="mix-blend-mode:lighten"/>
<polygon points="143.88,-4 145.33,-4 145.33,82.8 145.63,169.5 143.58,169.5 143.88,82.8" fill="url(#sg3_84_0_14)" style="mix-blend-mode:lighten"/>
<rect x="148.60" y="-4" width="3.20" height="173.5" fill="url(#gl3_42)" style="mix-blend-mode:lighten"/>
<polygon points="149.30,-4 151.10,-4 151.10,82.8 151.65,169.5 148.75,169.5 149.30,82.8" fill="url(#hsg3_42_0_10)" style="mix-blend-mode:lighten"/>
<polygon points="149.70,-4 150.70,-4 150.70,82.8 151.00,169.5 149.40,169.5 149.70,82.8" fill="url(#sg3_42_0_10)" style="mix-blend-mode:lighten"/>
<rect x="152.88" y="-4" width="3.65" height="173.5" fill="url(#gl3_84)" style="mix-blend-mode:lighten"/>
<polygon points="153.43,-4 155.98,-4 155.98,82.8 156.38,169.5 153.03,169.5 153.43,82.8" fill="url(#hsg3_84_0_14)" style="mix-blend-mode:lighten"/>
<polygon points="153.98,-4 155.43,-4 155.43,82.8 155.73,169.5 153.68,169.5 153.98,82.8" fill="url(#sg3_84_0_14)" style="mix-blend-mode:lighten"/>
<rect x="157.50" y="-4" width="3.40" height="173.5" fill="url(#gl3_68)" style="mix-blend-mode:lighten"/>
<polygon points="158.05,-4 160.35,-4 160.35,82.8 160.75,169.5 157.65,169.5 158.05,82.8" fill="url(#hsg3_68_0_12)" style="mix-blend-mode:lighten"/>
<polygon points="158.60,-4 159.80,-4 159.80,82.8 160.10,169.5 158.30,169.5 158.60,82.8" fill="url(#sg3_68_0_12)" style="mix-blend-mode:lighten"/>
<rect x="51.23" y="-4" width="3.20" height="173.5" fill="url(#gl3_26)" style="mix-blend-mode:lighten"/>
<polygon points="52.33,-4 53.33,-4 53.33,82.8 53.63,169.5 52.03,169.5 52.33,82.8" fill="url(#sg3_26_0_10)" style="mix-blend-mode:lighten"/>
<polygon points="-4,169.5 -4.0,156.5 -3.0,156.5 -3.0,157.0 -2.0,157.0 -2.0,155.7 -1.0,155.7 -1.0,155.6 0.0,155.6 0.0,155.0 1.0,155.0 1.0,158.1 2.0,158.1 2.0,154.5 3.0,154.5 3.0,153.8 4.0,153.8 4.0,154.4 5.0,154.4 5.0,154.4 6.0,154.4 6.0,154.7 7.0,154.7 7.0,154.4 8.0,154.4 8.0,153.6 9.0,153.6 9.0,154.7 10.0,154.7 10.0,154.6 11.0,154.6 11.0,155.9 12.0,155.9 12.0,154.1 13.0,154.1 13.0,153.4 14.0,153.4 14.0,154.1 15.0,154.1 15.0,155.8 16.0,155.8 16.0,155.0 17.0,155.0 17.0,156.7 18.0,156.7 18.0,157.1 19.0,157.1 19.0,155.1 20.0,155.1 20.0,153.6 21.0,153.6 21.0,156.7 22.0,156.7 22.0,156.8 23.0,156.8 23.0,155.1 24.0,155.1 24.0,156.4 25.0,156.4 25.0,154.6 26.0,154.6 26.0,157.6 27.0,157.6 27.0,157.2 28.0,157.2 28.0,157.0 29.0,157.0 29.0,157.8 30.0,157.8 30.0,154.2 31.0,154.2 31.0,155.8 32.0,155.8 32.0,156.7 33.0,156.7 33.0,157.1 34.0,157.1 34.0,155.0 35.0,155.0 35.0,153.8 36.0,153.8 36.0,156.2 37.0,156.2 37.0,153.6 38.0,153.6 38.0,156.6 39.0,156.6 39.0,153.1 40.0,153.1 40.0,155.1 41.0,155.1 41.0,155.0 42.0,155.0 42.0,153.0 43.0,153.0 43.0,154.6 44.0,154.6 44.0,154.5 45.0,154.5 45.0,153.7 46.0,153.7 46.0,156.1 47.0,156.1 47.0,155.8 48.0,155.8 48.0,156.5 49.0,156.5 49.0,148.6 50.0,148.6 50.0,145.8 51.0,145.8 51.0,149.8 52.0,149.8 52.0,146.5 53.0,146.5 53.0,153.5 54.0,153.5 54.0,148.0 55.0,148.0 55.0,146.3 56.0,146.3 56.0,148.0 57.0,148.0 57.0,149.3 58.0,149.3 58.0,153.2 59.0,153.2 59.0,149.8 60.0,149.8 60.0,147.8 61.0,147.8 61.0,152.2 62.0,152.2 62.0,144.5 63.0,144.5 63.0,146.4 64.0,146.4 64.0,152.1 65.0,152.1 65.0,152.8 66.0,152.8 66.0,144.9 67.0,144.9 67.0,144.4 68.0,144.4 68.0,149.6 69.0,149.6 69.0,151.4 70.0,151.4 70.0,143.7 71.0,143.7 71.0,148.7 72.0,148.7 72.0,146.7 73.0,146.7 73.0,144.5 74.0,144.5 74.0,145.5 75.0,145.5 75.0,146.9 76.0,146.9 76.0,149.1 77.0,149.1 77.0,144.8 78.0,144.8 78.0,150.9 79.0,150.9 79.0,154.1 80.0,154.1 80.0,151.8 81.0,151.8 81.0,144.4 82.0,144.4 82.0,151.4 83.0,151.4 83.0,151.3 84.0,151.3 84.0,143.9 85.0,143.9 85.0,148.5 86.0,148.5 86.0,151.8 87.0,151.8 87.0,155.4 88.0,155.4 88.0,155.3 89.0,155.3 89.0,151.1 90.0,151.1 90.0,151.4 91.0,151.4 91.0,156.0 92.0,156.0 92.0,147.1 93.0,147.1 93.0,150.8 94.0,150.8 94.0,145.6 95.0,145.6 95.0,154.3 96.0,154.3 96.0,153.0 97.0,153.0 97.0,147.8 98.0,147.8 98.0,147.8 99.0,147.8 99.0,151.9 100.0,151.9 100.0,154.8 101.0,154.8 101.0,152.1 102.0,152.1 102.0,153.2 103.0,153.2 103.0,154.4 104.0,154.4 104.0,153.3 105.0,153.3 105.0,156.6 106.0,156.6 106.0,156.0 107.0,156.0 107.0,157.4 108.0,157.4 108.0,156.0 109.0,156.0 109.0,156.4 110.0,156.4 110.0,154.5 111.0,154.5 111.0,155.6 112.0,155.6 112.0,155.2 113.0,155.2 113.0,155.5 114.0,155.5 114.0,153.4 115.0,153.4 115.0,157.3 116.0,157.3 116.0,153.8 117.0,153.8 117.0,155.4 118.0,155.4 118.0,157.7 119.0,157.7 119.0,155.6 120.0,155.6 120.0,157.4 121.0,157.4 121.0,154.4 122.0,154.4 122.0,155.4 123.0,155.4 123.0,155.0 124.0,155.0 124.0,154.7 125.0,154.7 125.0,154.9 126.0,154.9 126.0,155.3 127.0,155.3 127.0,157.3 128.0,157.3 128.0,157.9 129.0,157.9 129.0,153.5 130.0,153.5 130.0,156.4 131.0,156.4 131.0,155.7 132.0,155.7 132.0,155.1 133.0,155.1 133.0,153.3 134.0,153.3 134.0,154.9 135.0,154.9 135.0,154.7 136.0,154.7 136.0,154.9 137.0,154.9 137.0,156.0 138.0,156.0 138.0,154.9 139.0,154.9 139.0,154.5 140.0,154.5 140.0,154.4 141.0,154.4 141.0,158.0 142.0,158.0 142.0,155.0 143.0,155.0 143.0,157.9 144.0,157.9 144.0,153.9 145.0,153.9 145.0,156.4 146.0,156.4 146.0,155.8 147.0,155.8 147.0,156.6 148.0,156.6 148.0,155.6 149.0,155.6 149.0,157.4 150.0,157.4 150.0,156.0 151.0,156.0 151.0,153.3 152.0,153.3 152.0,156.5 153.0,156.5 153.0,156.1 154.0,156.1 154.0,154.3 155.0,154.3 155.0,156.7 156.0,156.7 156.0,157.2 157.0,157.2 157.0,154.5 158.0,154.5 158.0,153.8 159.0,153.8 159.0,154.5 160.0,154.5 160.0,156.0 161.0,156.0 161.0,155.3 162.0,155.3 162.0,153.4 163.0,153.4 163.0,155.3 164.0,155.3 164.0,155.8 165.0,155.8 165.0,156.0 166.0,156.0 166.0,154.8 167.0,154.8 166.2,169.5" fill="#00ff00" style="mix-blend-mode:lighten"/></g>
</svg>
<div class="t ti" style="left:48.8px;top:3.7px">Orbit:106881_41</div>
<div class="t ti" style="left:119.3px;top:3.7px">Date:2020-01-06</div>
<div class="t ex" style="left:31.1px;top:7.0px"><span class="tm">×</span>10<sup>4</sup></div>
<div class="t yt" style="right:522.7px;top:176.5px">0</div>
<div class="t yt" style="right:522.7px;top:143.4px">0.5</div>
<div class="t yt" style="right:522.7px;top:110.3px">1</div>
<div class="t yt" style="right:522.7px;top:77.2px">1.5</div>
<div class="t yt" style="right:522.7px;top:44.1px">2</div>
<div class="t yt" style="right:522.7px;top:11.0px">2.5</div>
<div class="t yl" style="left:12.9px;top:96.0px">Frequency (Hz)</div>
<div class="t xr" style="left:3.7px;top:183.5px">Time</div>
<div class="t xr" style="left:3.7px;top:189.0px">Lat</div>
<div class="t xr" style="left:3.7px;top:195.8px">Lon</div>
<div class="t xc" style="left:18.3px;top:183.5px">10:04:27</div>
<div class="t xc xv" style="left:21.0px;top:189.0px">59.96</div>
<div class="t xc xv" style="left:23.4px;top:195.8px"><span class="mn2">−</span>135.7</div>
<div class="t xc" style="left:100.7px;top:183.5px">10:04:31</div>
<div class="t xc xv" style="left:101.4px;top:189.0px">60.21</div>
<div class="t xc xv" style="left:104.1px;top:195.8px"><span class="mn2">−</span>135.85</div>
<div class="t xc" style="left:182.8px;top:183.5px">10:04:35</div>
<div class="t xc xv" style="left:182.6px;top:189.0px">60.46</div>
<div class="t xc xv" style="left:185.4px;top:195.8px"><span class="mn2">−</span>136</div>
<div class="cb" style="left:205.1px;top:12.6px;height:166.1px"></div>
<div class="t cl" style="left:218.3px;top:13.0px"><span class="mn">−</span>4</div>
<div class="t cl" style="left:218.3px;top:40.5px"><span class="mn">−</span>4. 5</div>
<div class="t cl" style="left:218.3px;top:68.0px"><span class="mn">−</span>5</div>
<div class="t cl" style="left:218.3px;top:95.6px"><span class="mn">−</span>5. 5</div>
<div class="t cl" style="left:218.3px;top:123.1px"><span class="mn">−</span>6</div>
<div class="t cl" style="left:218.3px;top:150.6px"><span class="mn">−</span>6. 5</div>
<div class="t cl" style="left:218.3px;top:178.1px"><span class="mn">−</span>7</div>
<div class="t cbl" style="left:249.5px;top:113.5px">VLF PSD[log<sub>10</sub>(V/(m·Hz<sup>1/2</sup>))]</div>
<div class="ax" style="left:28.9px;top:12.7px;width:165.9px;height:166.1px"></div>
<div class="t ti" style="left:342.2px;top:3.7px">Orbit:106881_42</div>
<div class="t ti" style="left:412.7px;top:3.7px">Date:2020-01-06</div>
<div class="t ex" style="left:324.5px;top:7.0px"><span class="tm">×</span>10<sup>4</sup></div>
<div class="t yt" style="right:229.3px;top:176.5px">0</div>
<div class="t yt" style="right:229.3px;top:143.4px">0.5</div>
<div class="t yt" style="right:229.3px;top:110.3px">1</div>
<div class="t yt" style="right:229.3px;top:77.2px">1.5</div>
<div class="t yt" style="right:229.3px;top:44.1px">2</div>
<div class="t yt" style="right:229.3px;top:11.0px">2.5</div>
<div class="t yl" style="left:306.3px;top:96.0px">Frequency (Hz)</div>
<div class="t xr" style="left:297.1px;top:183.5px">Time</div>
<div class="t xr" style="left:297.1px;top:189.0px">Lat</div>
<div class="t xr" style="left:297.1px;top:195.8px">Lon</div>
<div class="t xc" style="left:311.7px;top:183.5px">10:04:35</div>
<div class="t xc xv" style="left:314.4px;top:189.0px">60.46</div>
<div class="t xc xv" style="left:316.8px;top:195.8px"><span class="mn2">−</span>136</div>
<div class="t xc" style="left:394.1px;top:183.5px">10:04:39</div>
<div class="t xc xv" style="left:394.8px;top:189.0px">60.71</div>
<div class="t xc xv" style="left:397.5px;top:195.8px"><span class="mn2">−</span>136.15</div>
<div class="t xc" style="left:476.2px;top:183.5px">10:04:43</div>
<div class="t xc xv" style="left:476.0px;top:189.0px">60.96</div>
<div class="t xc xv" style="left:478.8px;top:195.8px"><span class="mn2">−</span>136.31</div>
<div class="cb" style="left:500.0px;top:12.2px;height:165.5px"></div>
<div class="t cl" style="left:512.4px;top:12.6px"><span class="mn">−</span>4</div>
<div class="t cl" style="left:512.4px;top:40.1px"><span class="mn">−</span>4. 5</div>
<div class="t cl" style="left:512.4px;top:67.6px"><span class="mn">−</span>5</div>
<div class="t cl" style="left:512.4px;top:95.1px"><span class="mn">−</span>5. 5</div>
<div class="t cl" style="left:512.4px;top:122.6px"><span class="mn">−</span>6</div>
<div class="t cl" style="left:512.4px;top:150.1px"><span class="mn">−</span>6. 5</div>
<div class="t cl" style="left:512.4px;top:177.6px"><span class="mn">−</span>7</div>
<div class="t cbl" style="left:545.0px;top:113.1px">VLF PSD[log<sub>10</sub>(V/(m·Hz<sup>1/2</sup>))]</div>
<div class="ax" style="left:322.3px;top:12.7px;width:165.9px;height:166.1px"></div>
<div class="t ti" style="left:48.8px;top:206.8px">Orbit:106881_43</div>
<div class="t ti" style="left:119.3px;top:206.8px">Date:2020-01-06</div>
<div class="t ex" style="left:31.1px;top:211.0px"><span class="tm">×</span>10<sup>4</sup></div>
<div class="t yt" style="right:522.7px;top:380.5px">0</div>
<div class="t yt" style="right:522.7px;top:347.4px">0.5</div>
<div class="t yt" style="right:522.7px;top:314.3px">1</div>
<div class="t yt" style="right:522.7px;top:281.2px">1.5</div>
<div class="t yt" style="right:522.7px;top:248.1px">2</div>
<div class="t yt" style="right:522.7px;top:215.0px">2.5</div>
<div class="t yl" style="left:12.9px;top:300.0px">Frequency (Hz)</div>
<div class="t xr" style="left:3.7px;top:387.5px">Time</div>
<div class="t xr" style="left:3.7px;top:393.0px">Lat</div>
<div class="t xr" style="left:3.7px;top:399.8px">Lon</div>
<div class="t xc" style="left:18.3px;top:387.5px">10:04:43</div>
<div class="t xc xv" style="left:21.0px;top:393.0px">60.96</div>
<div class="t xc xv" style="left:23.4px;top:399.8px"><span class="mn2">−</span>136.31</div>
<div class="t xc" style="left:100.7px;top:387.5px">10:04:47</div>
<div class="t xc xv" style="left:101.4px;top:393.0px">61.21</div>
<div class="t xc xv" style="left:104.1px;top:399.8px"><span class="mn2">−</span>136.47</div>
<div class="t xc" style="left:182.8px;top:387.5px">10:04:51</div>
<div class="t xc xv" style="left:182.6px;top:393.0px">61.46</div>
<div class="t xc xv" style="left:185.4px;top:399.8px"><span class="mn2">−</span>136.63</div>
<div class="cb" style="left:207.2px;top:215.5px;height:165.9px"></div>
<div class="t cl" style="left:219.9px;top:215.5px"><span class="mn">−</span>4</div>
<div class="t cl" style="left:219.9px;top:243.2px"><span class="mn">−</span>4. 5</div>
<div class="t cl" style="left:219.9px;top:270.9px"><span class="mn">−</span>5</div>
<div class="t cl" style="left:219.9px;top:298.6px"><span class="mn">−</span>5. 5</div>
<div class="t cl" style="left:219.9px;top:326.2px"><span class="mn">−</span>6</div>
<div class="t cl" style="left:219.9px;top:353.9px"><span class="mn">−</span>6. 5</div>
<div class="t cl" style="left:219.9px;top:381.6px"><span class="mn">−</span>7</div>
<div class="t cbl" style="left:250.0px;top:316.4px">VLF PSD[log<sub>10</sub>(V/(m·Hz<sup>1/2</sup>))]</div>
<div class="ax" style="left:28.9px;top:216.7px;width:165.9px;height:166.1px"></div>
<div class="t ti" style="left:342.2px;top:206.8px">Orbit:106881_44</div>
<div class="t ti" style="left:412.7px;top:206.8px">Date:2020-01-06</div>
<div class="t ex" style="left:324.5px;top:211.0px"><span class="tm">×</span>10<sup>4</sup></div>
<div class="t yt" style="right:229.3px;top:380.5px">0</div>
<div class="t yt" style="right:229.3px;top:347.4px">0.5</div>
<div class="t yt" style="right:229.3px;top:314.3px">1</div>
<div class="t yt" style="right:229.3px;top:281.2px">1.5</div>
<div class="t yt" style="right:229.3px;top:248.1px">2</div>
<div class="t yt" style="right:229.3px;top:215.0px">2.5</div>
<div class="t yl" style="left:306.3px;top:300.0px">Frequency (Hz)</div>
<div class="t xr" style="left:297.1px;top:387.5px">Time</div>
<div class="t xr" style="left:297.1px;top:393.0px">Lat</div>
<div class="t xr" style="left:297.1px;top:399.8px">Lon</div>
<div class="t xc" style="left:311.7px;top:387.5px">10:04:51</div>
<div class="t xc xv" style="left:314.4px;top:393.0px">61.46</div>
<div class="t xc xv" style="left:316.8px;top:399.8px"><span class="mn2">−</span>136.63</div>
<div class="t xc" style="left:394.1px;top:387.5px">10:04:55</div>
<div class="t xc xv" style="left:394.8px;top:393.0px">61.7</div>
<div class="t xc xv" style="left:397.5px;top:399.8px"><span class="mn2">−</span>136.79</div>
<div class="t xc" style="left:476.2px;top:387.5px">10:04:59</div>
<div class="t xc xv" style="left:476.0px;top:393.0px">61.95</div>
<div class="t xc xv" style="left:478.8px;top:399.8px"><span class="mn2">−</span>136.96</div>
<div class="cb" style="left:498.9px;top:214.0px;height:165.6px"></div>
<div class="t cl" style="left:511.1px;top:214.7px"><span class="mn">−</span>4</div>
<div class="t cl" style="left:511.1px;top:242.3px"><span class="mn">−</span>4. 5</div>
<div class="t cl" style="left:511.1px;top:269.9px"><span class="mn">−</span>5</div>
<div class="t cl" style="left:511.1px;top:297.6px"><span class="mn">−</span>5. 5</div>
<div class="t cl" style="left:511.1px;top:325.2px"><span class="mn">−</span>6</div>
<div class="t cl" style="left:511.1px;top:352.9px"><span class="mn">−</span>6. 5</div>
<div class="t cl" style="left:511.1px;top:380.5px"><span class="mn">−</span>7</div>
<div class="t cbl" style="left:543.0px;top:314.9px">VLF PSD[log<sub>10</sub>(V/(m·Hz<sup>1/2</sup>))]</div>
<div class="ax" style="left:322.3px;top:216.7px;width:165.9px;height:166.1px"></div>
</body></html>
